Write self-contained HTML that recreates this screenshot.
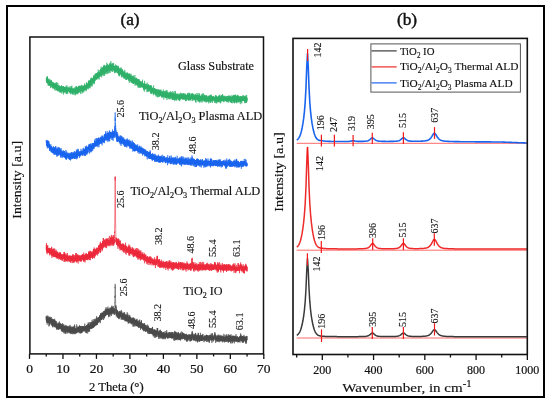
<!DOCTYPE html>
<html><head><meta charset="utf-8"><style>
html,body{margin:0;padding:0;background:#fff;width:550px;height:404px;overflow:hidden}
svg{display:block}
text{font-family:"Liberation Serif","DejaVu Serif",serif;fill:#111;stroke:#111;stroke-width:0.3px}
.ta{font-size:13.5px;stroke-width:0.22px;text-anchor:middle}
.tb{font-size:12px;stroke-width:0.2px;text-anchor:middle}
.pa{font-size:10.1px;stroke-width:0.1px}
.pb{font-size:10px;stroke-width:0.1px}
.lab{font-size:12px;stroke-width:0.15px}
.leg{font-size:11px;stroke-width:0.12px}
.sub{font-size:0.66em}
.sup{font-size:0.72em}
.ttl{font-size:17.3px;stroke-width:0.45px}
.axt{font-size:11.8px;stroke-width:0.2px}
.axb{font-size:13.5px;stroke-width:0.15px}
.ylab{font-size:13.4px;stroke-width:0.15px}
</style></head><body>
<svg width="550" height="404" viewBox="0 0 550 404">
<rect x="7" y="6" width="537" height="391" fill="none" stroke="#000" stroke-width="2"/>
<g><polyline fill="none" stroke="#2fb06a" stroke-width="0.6" points="46.24,80.1 46.28,80.7 46.32,79.6 46.36,78.4 46.40,79.3 46.44,78.3 46.49,80.4 46.53,83.0 46.57,79.4 46.61,79.2 46.65,81.4 46.69,81.2 46.74,80.7 46.78,78.7 46.82,80.5 46.86,82.0 46.90,78.0 46.94,79.8 46.99,76.9 47.03,78.2 47.07,77.1 47.11,80.4 47.15,78.4 47.19,81.5 47.24,81.3 47.28,80.6 47.32,76.0 47.36,80.0 47.40,81.0 47.44,81.4 47.49,78.1 47.53,80.3 47.57,79.3 47.61,79.7 47.65,83.5 47.69,79.8 47.74,81.4 47.78,83.2 47.82,80.3 47.86,81.3 47.90,81.8 47.94,81.7 47.99,79.2 48.03,81.8 48.07,84.4 48.11,78.7 48.15,83.5 48.19,82.1 48.24,80.6 48.28,85.9 48.32,83.4 48.36,79.6 48.40,82.1 48.44,83.2 48.49,81.7 48.53,83.5 48.57,82.0 48.61,83.5 48.65,85.1 48.69,80.9 48.74,82.7 48.78,81.4 48.82,82.6 48.86,80.0 48.90,81.3 48.94,82.1 48.99,84.3 49.03,84.8 49.07,79.9 49.11,81.0 49.15,83.9 49.19,78.7 49.24,81.8 49.28,82.5 49.32,85.2 49.36,84.2 49.40,82.2 49.44,82.1 49.49,82.4 49.53,85.9 49.57,82.1 49.61,82.4 49.65,83.7 49.69,82.8 49.74,82.7 49.78,80.9 49.82,83.1 49.86,82.3 49.90,85.5 49.94,84.5 49.99,83.2 50.03,84.6 50.07,82.7 50.11,85.5 50.15,83.4 50.19,84.6 50.24,80.9 50.28,84.2 50.32,80.2 50.36,79.6 50.40,83.0 50.44,81.9 50.49,84.0 50.53,88.1 50.57,82.1 50.61,82.5 50.65,84.2 50.69,84.8 50.74,83.5 50.78,83.5 50.82,85.3 50.86,85.0 50.90,81.9 50.94,83.9 50.99,84.1 51.03,82.0 51.07,84.6 51.11,82.4 51.15,86.1 51.19,84.6 51.24,84.4 51.28,83.1 51.32,84.0 51.36,80.4 51.40,82.1 51.44,85.1 51.49,80.2 51.53,86.1 51.57,81.0 51.61,86.0 51.65,82.9 51.69,86.1 51.74,84.8 51.78,81.6 51.82,87.1 51.86,87.5 51.90,84.6 51.94,84.2 51.99,84.4 52.03,82.9 52.07,87.0 52.11,83.8 52.15,84.8 52.19,83.3 52.24,83.7 52.28,82.4 52.32,87.4 52.36,84.7 52.40,86.9 52.44,85.1 52.49,83.7 52.53,84.5 52.57,84.0 52.61,85.2 52.65,84.5 52.69,84.6 52.74,82.6 52.78,83.7 52.82,88.5 52.86,84.0 52.90,83.3 52.94,86.0 52.99,88.1 53.03,82.6 53.07,85.0 53.11,84.2 53.15,82.1 53.19,87.0 53.24,85.5 53.28,85.7 53.32,84.1 53.36,86.5 53.40,84.6 53.44,85.4 53.49,83.6 53.53,83.4 53.57,88.4 53.61,84.8 53.65,86.4 53.69,85.8 53.74,85.0 53.78,84.9 53.82,87.1 53.86,85.3 53.90,85.7 53.94,86.0 53.99,88.3 54.03,87.4 54.07,86.8 54.11,85.0 54.15,83.4 54.19,88.0 54.24,88.0 54.28,85.9 54.32,87.3 54.36,87.7 54.40,87.9 54.44,88.1 54.49,85.4 54.53,89.3 54.57,83.9 54.61,88.0 54.65,87.3 54.69,88.1 54.74,90.1 54.78,89.3 54.82,84.3 54.86,83.2 54.90,88.1 54.94,84.6 54.99,86.5 55.03,88.2 55.07,83.4 55.11,82.6 55.15,87.2 55.19,86.8 55.24,86.2 55.28,86.8 55.32,85.1 55.36,83.8 55.40,86.5 55.44,84.9 55.49,83.7 55.53,87.8 55.57,86.8 55.61,87.7 55.65,85.0 55.69,85.7 55.74,85.0 55.78,85.3 55.82,87.4 55.86,85.5 55.90,87.7 55.94,87.7 55.99,91.0 56.03,84.4 56.07,88.9 56.11,87.0 56.15,87.2 56.19,84.4 56.24,86.3 56.28,88.7 56.32,87.1 56.36,87.4 56.40,86.7 56.44,89.6 56.49,87.3 56.53,83.1 56.57,86.1 56.61,83.6 56.65,82.0 56.69,86.4 56.74,90.0 56.78,87.6 56.82,85.3 56.86,85.7 56.90,89.7 56.94,87.9 56.99,87.7 57.03,87.5 57.07,87.7 57.11,89.2 57.15,88.7 57.19,88.1 57.24,85.7 57.28,88.7 57.32,86.4 57.36,89.9 57.40,85.3 57.44,87.5 57.49,87.8 57.53,85.3 57.57,91.2 57.61,90.7 57.65,87.0 57.69,89.4 57.74,88.6 57.78,82.9 57.82,88.4 57.86,87.8 57.90,88.1 57.94,85.9 57.99,87.5 58.03,87.7 58.07,90.3 58.11,88.7 58.15,88.1 58.19,91.0 58.24,87.0 58.28,87.4 58.32,84.7 58.36,91.2 58.40,90.0 58.44,89.9 58.49,89.5 58.53,88.4 58.57,88.6 58.61,87.8 58.65,87.9 58.69,88.4 58.74,91.2 58.78,89.4 58.82,88.2 58.86,87.2 58.90,87.1 58.94,91.4 58.99,89.3 59.03,88.5 59.07,87.7 59.11,86.3 59.15,88.3 59.19,90.1 59.24,87.7 59.28,88.0 59.32,88.0 59.36,88.7 59.40,85.4 59.44,88.0 59.49,86.9 59.53,90.2 59.57,87.1 59.61,89.7 59.65,91.5 59.69,88.0 59.74,87.4 59.78,89.0 59.82,88.6 59.86,86.7 59.90,89.5 59.94,92.5 59.99,88.2 60.03,88.3 60.07,86.7 60.11,89.3 60.15,86.3 60.19,86.6 60.24,91.2 60.28,87.0 60.32,90.8 60.36,91.7 60.40,89.3 60.44,89.9 60.49,92.5 60.53,88.4 60.57,87.7 60.61,86.3 60.65,88.9 60.69,91.7 60.74,90.7 60.78,87.1 60.82,87.3 60.86,88.0 60.90,89.5 60.94,88.5 60.99,89.4 61.03,89.5 61.07,88.4 61.11,88.9 61.15,89.4 61.19,88.8 61.24,90.0 61.28,92.6 61.32,90.2 61.36,89.2 61.40,85.8 61.44,89.8 61.49,85.4 61.53,86.4 61.57,90.7 61.61,90.5 61.65,88.9 61.69,85.9 61.74,88.5 61.78,87.9 61.82,90.4 61.86,93.5 61.90,89.6 61.94,87.7 61.99,87.0 62.03,89.1 62.07,88.9 62.11,87.1 62.15,89.5 62.19,87.1 62.24,91.4 62.28,91.3 62.32,91.4 62.36,88.4 62.40,90.3 62.44,89.1 62.49,88.6 62.53,88.7 62.57,86.9 62.61,86.7 62.65,90.9 62.69,89.1 62.74,89.9 62.78,91.4 62.82,86.2 62.86,88.0 62.90,89.8 62.94,90.2 62.99,88.8 63.03,91.5 63.07,89.9 63.11,87.2 63.15,87.8 63.19,91.1 63.24,90.5 63.28,86.0 63.32,92.2 63.36,90.7 63.40,92.2 63.44,88.9 63.49,89.1 63.53,87.5 63.57,94.5 63.61,89.3 63.65,92.7 63.69,88.5 63.74,90.0 63.78,86.5 63.82,89.0 63.86,91.6 63.90,87.4 63.94,91.8 63.99,90.4 64.03,87.8 64.07,88.8 64.11,88.9 64.15,89.7 64.19,88.8 64.24,88.3 64.28,89.3 64.32,87.9 64.36,87.4 64.40,89.8 64.44,91.6 64.49,87.0 64.53,89.9 64.57,88.7 64.61,88.1 64.65,91.6 64.69,89.0 64.74,92.8 64.78,88.5 64.82,90.7 64.86,89.5 64.90,88.6 64.94,91.1 64.99,89.7 65.03,91.2 65.07,89.9 65.11,88.0 65.15,89.9 65.19,90.2 65.24,91.9 65.28,88.4 65.32,90.0 65.36,86.8 65.40,91.3 65.44,88.1 65.49,86.7 65.53,90.0 65.57,92.2 65.61,87.3 65.65,88.1 65.69,88.8 65.74,88.0 65.78,90.9 65.82,88.7 65.86,88.8 65.90,91.3 65.94,88.8 65.99,91.1 66.03,88.4 66.07,87.9 66.11,86.8 66.15,93.8 66.19,89.7 66.24,90.7 66.28,90.2 66.32,90.6 66.36,90.4 66.40,93.9 66.44,88.4 66.49,87.4 66.53,88.4 66.57,87.8 66.61,91.8 66.65,91.9 66.69,88.6 66.74,87.7 66.78,89.7 66.82,93.0 66.86,85.1 66.90,91.4 66.94,88.4 66.99,92.4 67.03,88.4 67.07,89.9 67.11,87.6 67.15,88.6 67.19,93.1 67.24,92.0 67.28,89.7 67.32,88.8 67.36,86.9 67.40,89.8 67.44,90.4 67.49,90.4 67.53,90.3 67.57,88.4 67.61,90.4 67.65,90.5 67.69,93.0 67.74,94.1 67.78,90.3 67.82,89.1 67.86,90.5 67.90,89.4 67.94,89.2 67.99,90.5 68.03,88.6 68.07,91.8 68.11,90.4 68.15,91.1 68.19,90.3 68.24,89.3 68.28,88.8 68.32,90.2 68.36,89.6 68.40,91.1 68.44,90.7 68.49,88.1 68.53,90.8 68.57,88.1 68.61,89.5 68.65,90.1 68.69,86.8 68.74,90.9 68.78,91.0 68.82,90.4 68.86,89.9 68.90,90.0 68.94,88.9 68.99,90.2 69.03,89.7 69.07,90.9 69.11,88.5 69.15,91.2 69.19,91.0 69.24,90.5 69.28,89.9 69.32,91.8 69.36,87.6 69.40,91.6 69.44,91.2 69.49,91.3 69.53,91.5 69.57,89.6 69.61,90.3 69.65,92.0 69.69,91.6 69.74,91.2 69.78,87.9 69.82,91.8 69.86,93.0 69.90,92.7 69.94,91.3 69.99,87.9 70.03,92.6 70.07,90.6 70.11,86.0 70.15,91.6 70.19,88.0 70.24,88.4 70.28,89.6 70.32,93.3 70.36,90.2 70.40,91.4 70.44,94.2 70.49,93.9 70.53,90.7 70.57,90.4 70.61,88.5 70.65,89.6 70.69,91.7 70.74,91.6 70.78,91.1 70.82,92.8 70.86,89.4 70.90,90.8 70.94,92.3 70.99,92.0 71.03,92.9 71.07,91.6 71.11,90.3 71.15,91.6 71.19,89.0 71.24,87.8 71.28,92.0 71.32,90.8 71.36,91.5 71.40,87.7 71.44,90.2 71.49,89.8 71.53,89.3 71.57,86.6 71.61,90.3 71.65,92.6 71.69,91.6 71.74,89.8 71.78,90.9 71.82,92.3 71.86,85.7 71.90,90.7 71.94,91.9 71.99,92.2 72.03,94.1 72.07,93.0 72.11,91.5 72.15,91.5 72.19,92.4 72.24,89.9 72.28,90.8 72.32,92.6 72.36,94.6 72.40,90.6 72.44,90.8 72.49,91.3 72.53,93.4 72.57,90.8 72.61,93.7 72.65,89.1 72.69,90.5 72.74,90.5 72.78,92.4 72.82,92.8 72.86,88.0 72.90,89.1 72.94,91.5 72.99,89.6 73.03,88.0 73.07,92.8 73.11,91.8 73.15,91.8 73.19,89.9 73.24,92.8 73.28,90.4 73.32,92.9 73.36,89.1 73.40,89.2 73.44,91.2 73.49,89.5 73.53,92.1 73.57,91.3 73.61,89.1 73.65,90.9 73.69,90.1 73.74,92.5 73.78,89.6 73.82,90.0 73.86,93.1 73.90,95.0 73.94,94.6 73.99,90.9 74.03,91.2 74.07,93.7 74.11,90.5 74.15,88.9 74.19,91.0 74.24,91.6 74.28,89.2 74.32,87.6 74.36,88.0 74.40,92.0 74.44,89.3 74.49,90.4 74.53,91.1 74.57,91.9 74.61,90.1 74.65,91.6 74.69,89.0 74.74,90.0 74.78,88.7 74.82,92.8 74.86,90.6 74.90,89.2 74.94,90.0 74.99,90.2 75.03,92.0 75.07,87.6 75.11,88.7 75.15,89.9 75.19,95.4 75.24,92.4 75.28,90.4 75.32,91.9 75.36,94.5 75.40,90.1 75.44,89.9 75.49,92.8 75.53,91.5 75.57,91.8 75.61,89.6 75.65,94.2 75.69,93.7 75.74,91.6 75.78,91.8 75.82,86.6 75.86,91.7 75.90,90.1 75.94,91.3 75.99,91.7 76.03,89.8 76.07,87.2 76.11,91.1 76.15,89.0 76.19,89.8 76.24,89.3 76.28,89.7 76.32,86.0 76.36,92.7 76.40,90.8 76.44,92.5 76.49,94.1 76.53,90.4 76.57,86.9 76.61,88.6 76.65,88.0 76.69,89.3 76.74,90.4 76.78,86.5 76.82,90.9 76.86,87.4 76.90,90.8 76.94,90.0 76.99,89.6 77.03,90.1 77.07,89.2 77.11,89.0 77.15,87.0 77.19,90.1 77.24,93.7 77.28,93.9 77.32,92.7 77.36,91.5 77.40,88.8 77.44,92.9 77.49,90.0 77.53,90.0 77.57,89.5 77.61,90.2 77.65,89.2 77.69,89.9 77.74,88.0 77.78,89.3 77.82,94.4 77.86,89.9 77.90,89.5 77.94,91.0 77.99,91.3 78.03,87.8 78.07,89.6 78.11,91.7 78.15,90.4 78.19,90.1 78.24,92.9 78.28,88.6 78.32,90.0 78.36,88.9 78.40,92.7 78.44,86.1 78.49,88.6 78.53,88.8 78.57,91.1 78.61,91.0 78.65,92.4 78.69,86.8 78.74,91.2 78.78,89.2 78.82,88.5 78.86,90.7 78.90,88.0 78.94,85.7 78.99,89.0 79.03,86.8 79.07,88.4 79.11,90.4 79.15,90.2 79.19,92.6 79.24,89.2 79.28,86.7 79.32,88.1 79.36,87.8 79.40,87.2 79.44,90.4 79.49,88.3 79.53,85.8 79.57,90.8 79.61,89.3 79.65,90.2 79.69,89.7 79.74,90.7 79.78,89.5 79.82,91.8 79.86,90.2 79.90,90.1 79.94,90.2 79.99,86.6 80.03,89.0 80.07,88.8 80.11,89.7 80.15,86.7 80.19,92.4 80.24,89.5 80.28,87.0 80.32,86.0 80.36,88.7 80.40,89.1 80.44,87.8 80.49,89.4 80.53,88.0 80.57,90.2 80.61,87.8 80.65,89.1 80.69,91.0 80.74,94.0 80.78,87.2 80.82,88.2 80.86,87.5 80.90,90.6 80.94,86.8 80.99,88.1 81.03,89.0 81.07,87.1 81.11,87.2 81.15,88.1 81.19,84.9 81.24,86.2 81.28,88.1 81.32,89.2 81.36,88.5 81.40,85.5 81.44,88.0 81.49,90.4 81.53,89.9 81.57,88.7 81.61,87.1 81.65,90.0 81.69,87.7 81.74,86.5 81.78,87.2 81.82,91.5 81.86,89.1 81.90,90.9 81.94,87.8 81.99,90.5 82.03,87.5 82.07,88.3 82.11,93.4 82.15,90.1 82.19,87.6 82.24,88.4 82.28,89.2 82.32,90.9 82.36,87.6 82.40,85.2 82.44,88.0 82.49,88.5 82.53,88.7 82.57,91.0 82.61,89.0 82.65,90.0 82.69,86.3 82.74,90.1 82.78,92.4 82.82,89.8 82.86,88.8 82.90,88.6 82.94,91.7 82.99,86.5 83.03,88.1 83.07,89.1 83.11,89.7 83.15,87.4 83.19,88.8 83.24,87.7 83.28,88.4 83.32,87.9 83.36,86.0 83.40,88.1 83.44,89.8 83.49,86.2 83.53,87.6 83.57,89.3 83.61,86.0 83.65,88.4 83.69,86.0 83.74,90.2 83.78,92.4 83.82,91.9 83.86,87.5 83.90,89.4 83.94,88.2 83.99,88.1 84.03,90.9 84.07,85.3 84.11,89.9 84.15,87.7 84.19,90.5 84.24,88.2 84.28,86.5 84.32,88.3 84.36,89.2 84.40,87.8 84.44,88.7 84.49,86.7 84.53,83.6 84.57,89.4 84.61,89.0 84.65,87.9 84.69,87.8 84.74,89.6 84.78,86.7 84.82,86.2 84.86,87.2 84.90,89.8 84.94,84.8 84.99,89.8 85.03,86.2 85.07,85.3 85.11,89.9 85.15,87.2 85.19,84.9 85.24,86.7 85.28,89.1 85.32,89.6 85.36,86.5 85.40,88.1 85.44,88.6 85.49,86.0 85.53,87.9 85.57,87.1 85.61,86.1 85.65,86.2 85.69,87.2 85.74,87.2 85.78,86.0 85.82,86.2 85.86,89.2 85.90,87.4 85.94,88.7 85.99,89.3 86.03,88.1 86.07,91.3 86.11,85.3 86.15,88.4 86.19,86.2 86.24,90.4 86.28,90.1 86.32,83.0 86.36,84.8 86.40,88.0 86.44,88.2 86.49,88.1 86.53,86.5 86.57,87.5 86.61,87.8 86.65,86.4 86.69,88.5 86.74,82.1 86.78,87.7 86.82,84.4 86.86,88.2 86.90,85.9 86.94,84.6 86.99,87.0 87.03,84.5 87.07,84.4 87.11,83.1 87.15,86.1 87.19,87.1 87.24,88.1 87.28,85.8 87.32,88.1 87.36,86.0 87.40,85.8 87.44,87.0 87.49,88.0 87.53,85.2 87.57,85.4 87.61,85.5 87.65,85.9 87.69,84.0 87.74,87.7 87.78,84.9 87.82,86.5 87.86,84.0 87.90,86.3 87.94,86.3 87.99,84.7 88.03,89.4 88.07,86.1 88.11,88.8 88.15,87.2 88.19,84.0 88.24,84.5 88.28,86.1 88.32,85.3 88.36,85.3 88.40,84.6 88.44,81.6 88.49,84.6 88.53,80.7 88.57,85.7 88.61,83.5 88.65,83.5 88.69,84.4 88.74,85.4 88.78,82.0 88.82,81.3 88.86,82.6 88.90,80.7 88.94,82.7 88.99,87.7 89.03,82.5 89.07,85.8 89.11,81.8 89.15,85.0 89.19,83.8 89.24,84.3 89.28,85.4 89.32,87.7 89.36,84.6 89.40,84.5 89.44,82.3 89.49,85.3 89.53,83.6 89.57,85.7 89.61,83.9 89.65,87.4 89.69,80.0 89.74,83.3 89.78,85.6 89.82,83.1 89.86,82.2 89.90,83.2 89.94,81.0 89.99,83.9 90.03,88.4 90.07,85.8 90.11,81.3 90.15,81.8 90.19,82.6 90.24,85.4 90.28,81.7 90.32,81.9 90.36,85.0 90.40,84.9 90.44,82.4 90.49,80.9 90.53,80.0 90.57,81.7 90.61,78.6 90.65,84.4 90.69,81.7 90.74,83.8 90.78,86.5 90.82,85.1 90.86,80.5 90.90,84.4 90.94,84.9 90.99,81.1 91.03,80.7 91.07,82.3 91.11,79.3 91.15,85.4 91.19,77.6 91.24,80.2 91.28,81.8 91.32,81.8 91.36,82.5 91.40,82.7 91.44,81.7 91.49,84.3 91.53,77.8 91.57,82.0 91.61,80.5 91.65,82.2 91.69,82.3 91.74,80.0 91.78,80.5 91.82,83.3 91.86,82.4 91.90,80.3 91.94,85.6 91.99,86.1 92.03,78.6 92.07,82.1 92.11,86.4 92.15,82.9 92.19,81.8 92.24,80.9 92.28,80.1 92.32,80.8 92.36,80.0 92.40,82.6 92.44,80.2 92.49,80.1 92.53,78.5 92.57,80.8 92.61,79.1 92.65,80.5 92.69,82.8 92.74,81.5 92.78,81.7 92.82,81.3 92.86,80.7 92.90,80.3 92.94,79.9 92.99,82.0 93.03,78.2 93.07,83.0 93.11,80.4 93.15,78.8 93.19,79.2 93.24,78.8 93.28,80.4 93.32,78.6 93.36,82.3 93.40,78.4 93.44,75.4 93.49,78.4 93.53,75.8 93.57,79.7 93.61,81.9 93.65,81.0 93.69,77.0 93.74,78.1 93.78,83.1 93.82,80.2 93.86,79.5 93.90,81.6 93.94,84.3 93.99,81.9 94.03,79.6 94.07,80.0 94.11,80.4 94.15,77.9 94.19,77.0 94.24,79.2 94.28,77.1 94.32,78.8 94.36,79.1 94.40,83.6 94.44,77.1 94.49,78.5 94.53,78.4 94.57,79.6 94.61,80.8 94.65,77.6 94.69,76.9 94.74,75.2 94.78,76.6 94.82,79.5 94.86,78.5 94.90,76.3 94.94,77.5 94.99,78.3 95.03,79.2 95.07,76.9 95.11,77.6 95.15,74.4 95.19,75.7 95.24,81.2 95.28,73.5 95.32,77.2 95.36,78.3 95.40,77.0 95.44,76.1 95.49,77.6 95.53,77.6 95.57,77.4 95.61,73.7 95.65,77.2 95.69,75.7 95.74,76.3 95.78,77.8 95.82,78.6 95.86,79.1 95.90,76.2 95.94,79.1 95.99,79.5 96.03,79.4 96.07,79.9 96.11,76.7 96.15,76.6 96.19,78.6 96.24,74.1 96.28,77.3 96.32,75.7 96.36,76.0 96.40,73.2 96.44,74.9 96.49,76.6 96.53,78.4 96.57,78.6 96.61,76.3 96.65,76.1 96.69,74.7 96.74,77.2 96.78,75.8 96.82,77.5 96.86,79.8 96.90,76.1 96.94,73.1 96.99,74.4 97.03,73.1 97.07,73.6 97.11,78.7 97.15,76.4 97.19,72.8 97.24,77.2 97.28,78.4 97.32,75.0 97.36,74.4 97.40,75.0 97.44,76.2 97.49,76.9 97.53,78.0 97.57,78.0 97.61,77.9 97.65,78.2 97.69,76.8 97.74,72.2 97.78,75.0 97.82,75.9 97.86,74.4 97.90,77.0 97.94,74.4 97.99,73.2 98.03,78.0 98.07,76.4 98.11,75.4 98.15,76.8 98.19,77.0 98.24,75.5 98.28,69.7 98.32,73.3 98.36,73.7 98.40,72.6 98.44,75.0 98.49,77.0 98.53,73.5 98.57,72.1 98.61,78.6 98.65,73.4 98.69,71.7 98.74,74.7 98.78,75.1 98.82,72.7 98.86,75.7 98.90,73.1 98.94,72.1 98.99,74.3 99.03,75.5 99.07,72.6 99.11,74.5 99.15,73.6 99.19,79.6 99.24,72.2 99.28,76.5 99.32,73.5 99.36,73.3 99.40,75.0 99.44,75.4 99.49,76.1 99.53,74.1 99.57,72.1 99.61,72.2 99.65,74.4 99.69,74.5 99.74,76.1 99.78,74.1 99.82,75.4 99.86,76.3 99.90,73.4 99.94,70.0 99.99,70.6 100.03,70.0 100.07,76.3 100.11,71.1 100.15,75.4 100.19,74.1 100.24,76.4 100.28,74.9 100.32,72.5 100.36,72.3 100.40,72.9 100.44,73.0 100.49,71.5 100.53,72.5 100.57,75.9 100.61,69.0 100.65,73.0 100.69,70.6 100.74,72.8 100.78,74.1 100.82,72.2 100.86,73.9 100.90,69.0 100.94,74.6 100.99,71.0 101.03,73.5 101.07,72.5 101.11,66.7 101.15,70.5 101.19,72.5 101.24,75.3 101.28,72.6 101.32,72.5 101.36,69.0 101.40,74.9 101.44,75.7 101.49,71.9 101.53,71.4 101.57,68.4 101.61,73.6 101.65,77.4 101.69,73.2 101.74,74.3 101.78,72.8 101.82,69.6 101.86,74.4 101.90,69.0 101.94,71.1 101.99,72.1 102.03,73.3 102.07,72.3 102.11,72.2 102.15,69.8 102.19,68.7 102.24,71.5 102.28,69.8 102.32,68.5 102.36,68.6 102.40,70.2 102.44,67.3 102.49,68.3 102.53,67.7 102.57,71.5 102.61,71.9 102.65,75.3 102.69,67.9 102.74,69.6 102.78,72.9 102.82,70.5 102.86,70.2 102.90,74.5 102.94,70.2 102.99,68.4 103.03,68.0 103.07,71.5 103.11,71.4 103.15,67.8 103.19,68.6 103.24,71.8 103.28,71.9 103.32,69.3 103.36,71.9 103.40,71.8 103.44,66.8 103.49,69.9 103.53,71.4 103.57,69.3 103.61,65.9 103.65,69.8 103.69,72.0 103.74,73.7 103.78,65.7 103.82,75.9 103.86,67.9 103.90,72.3 103.94,72.9 103.99,72.3 104.03,70.5 104.07,67.7 104.11,71.5 104.15,68.6 104.19,64.8 104.24,76.0 104.28,71.6 104.32,73.9 104.36,68.1 104.40,73.1 104.44,73.3 104.49,73.2 104.53,69.9 104.57,67.3 104.61,69.5 104.65,65.2 104.69,66.2 104.74,70.0 104.78,67.7 104.82,69.4 104.86,69.5 104.90,73.8 104.94,72.4 104.99,69.5 105.03,72.2 105.07,67.9 105.11,68.9 105.15,71.5 105.19,66.9 105.24,68.9 105.28,66.7 105.32,69.7 105.36,72.9 105.40,67.8 105.44,69.9 105.49,67.5 105.53,66.9 105.57,66.7 105.61,72.4 105.65,74.3 105.69,70.3 105.74,67.7 105.78,70.7 105.82,68.5 105.86,70.9 105.90,69.7 105.94,69.7 105.99,70.4 106.03,67.8 106.07,68.2 106.11,65.3 106.15,68.0 106.19,65.9 106.24,68.6 106.28,66.9 106.32,69.1 106.36,69.8 106.40,65.8 106.44,67.1 106.49,66.8 106.53,70.4 106.57,72.4 106.61,70.5 106.65,68.0 106.69,71.8 106.74,65.4 106.78,71.8 106.82,67.2 106.86,62.7 106.90,74.2 106.94,71.9 106.99,66.3 107.03,68.9 107.07,68.0 107.11,68.7 107.15,65.3 107.19,67.0 107.24,69.4 107.28,68.8 107.32,70.9 107.36,68.5 107.40,73.3 107.44,66.7 107.49,68.8 107.53,64.1 107.57,65.5 107.61,71.0 107.65,66.1 107.69,69.3 107.74,68.0 107.78,65.8 107.82,67.3 107.86,66.9 107.90,67.0 107.94,69.6 107.99,69.3 108.03,66.7 108.07,65.9 108.11,68.5 108.15,67.6 108.19,70.0 108.24,73.5 108.28,69.6 108.32,67.6 108.36,67.3 108.40,65.8 108.44,65.7 108.49,65.5 108.53,66.7 108.57,66.6 108.61,69.1 108.65,66.6 108.69,67.1 108.74,64.8 108.78,70.9 108.82,68.5 108.86,71.2 108.90,69.1 108.94,70.5 108.99,66.8 109.03,68.8 109.07,73.1 109.11,64.6 109.15,69.7 109.19,70.8 109.24,68.1 109.28,68.8 109.32,69.9 109.36,65.7 109.40,68.0 109.44,65.2 109.49,65.6 109.53,65.7 109.57,66.7 109.61,67.3 109.65,68.0 109.69,63.9 109.74,71.3 109.78,69.5 109.82,68.5 109.86,66.1 109.90,66.7 109.94,68.1 109.99,67.8 110.03,63.2 110.07,68.5 110.11,72.9 110.15,62.8 110.19,69.1 110.24,67.7 110.28,66.7 110.32,69.9 110.36,64.3 110.40,67.3 110.44,70.1 110.49,66.5 110.53,66.0 110.57,67.2 110.61,65.9 110.65,70.3 110.69,64.9 110.74,68.9 110.78,64.2 110.82,68.4 110.86,66.7 110.90,61.2 110.94,66.9 110.99,64.6 111.03,66.0 111.07,70.4 111.11,64.5 111.15,64.6 111.19,70.2 111.24,67.3 111.28,70.4 111.32,67.7 111.36,65.1 111.40,66.9 111.44,69.8 111.49,69.1 111.53,67.1 111.57,67.2 111.61,66.8 111.65,65.8 111.69,71.4 111.74,67.1 111.78,64.6 111.82,66.1 111.86,68.8 111.90,68.6 111.94,66.9 111.99,65.7 112.03,67.3 112.07,63.5 112.11,64.4 112.15,69.0 112.19,66.2 112.24,68.1 112.28,70.0 112.32,68.8 112.36,67.4 112.40,72.0 112.44,68.8 112.49,66.6 112.53,69.0 112.57,68.3 112.61,65.6 112.65,67.6 112.69,67.1 112.74,63.2 112.78,67.1 112.82,66.9 112.86,66.6 112.90,63.9 112.94,66.8 112.99,67.5 113.03,67.8 113.07,65.1 113.11,69.1 113.15,65.0 113.19,67.2 113.24,70.6 113.28,66.2 113.32,66.6 113.36,70.1 113.40,67.0 113.44,67.2 113.49,68.3 113.53,70.2 113.57,63.0 113.61,66.1 113.65,65.7 113.69,65.6 113.74,66.1 113.78,66.2 113.82,68.7 113.86,66.1 113.90,68.3 113.94,69.0 113.99,66.5 114.03,68.4 114.07,71.7 114.11,68.9 114.15,66.8 114.19,68.1 114.24,66.3 114.28,68.9 114.32,70.2 114.36,66.5 114.40,67.9 114.44,70.8 114.49,67.3 114.53,68.8 114.57,66.2 114.61,66.7 114.65,67.4 114.69,73.2 114.74,67.7 114.78,67.4 114.82,67.4 114.86,68.3 114.90,70.1 114.94,69.1 114.99,73.1 115.03,69.2 115.07,71.8 115.11,69.4 115.15,70.1 115.19,65.8 115.24,68.6 115.28,68.7 115.32,68.4 115.36,64.4 115.40,70.8 115.44,68.2 115.49,68.1 115.53,68.5 115.57,68.6 115.61,70.0 115.65,66.4 115.69,67.2 115.74,69.8 115.78,69.5 115.82,68.4 115.86,68.1 115.90,67.5 115.94,69.2 115.99,71.9 116.03,67.1 116.07,72.6 116.11,71.2 116.15,68.5 116.19,71.2 116.24,66.4 116.28,65.9 116.32,66.8 116.36,68.7 116.40,68.9 116.44,68.6 116.49,69.9 116.53,65.2 116.57,70.8 116.61,66.8 116.65,68.4 116.69,68.9 116.74,67.4 116.78,67.0 116.82,67.8 116.86,69.9 116.90,71.2 116.94,71.2 116.99,67.9 117.03,68.4 117.07,68.1 117.11,71.0 117.15,65.8 117.19,72.8 117.24,69.1 117.28,68.5 117.32,70.9 117.36,72.4 117.40,71.0 117.44,72.5 117.49,70.6 117.53,73.0 117.57,73.0 117.61,70.2 117.65,73.5 117.69,70.8 117.74,70.7 117.78,68.6 117.82,69.9 117.86,72.2 117.90,67.8 117.94,72.0 117.99,71.4 118.03,71.3 118.07,66.0 118.11,70.5 118.15,72.1 118.19,69.2 118.24,71.0 118.28,65.8 118.32,72.3 118.36,69.5 118.40,72.7 118.44,67.0 118.49,72.4 118.53,70.5 118.57,72.7 118.61,69.1 118.65,69.7 118.69,75.8 118.74,69.4 118.78,69.6 118.82,70.6 118.86,69.0 118.90,73.7 118.94,74.8 118.99,69.8 119.03,67.6 119.07,73.7 119.11,73.6 119.15,73.1 119.19,73.8 119.24,69.6 119.28,71.0 119.32,68.5 119.36,68.5 119.40,73.5 119.44,70.1 119.49,76.3 119.53,71.7 119.57,70.2 119.61,73.3 119.65,75.4 119.69,72.6 119.74,69.1 119.78,72.4 119.82,74.6 119.86,70.7 119.90,70.1 119.94,73.9 119.99,72.1 120.03,69.5 120.07,71.0 120.11,70.3 120.15,72.5 120.19,72.1 120.24,74.3 120.28,73.4 120.32,68.7 120.36,72.8 120.40,73.9 120.44,73.0 120.49,74.2 120.53,70.9 120.57,70.1 120.61,74.1 120.65,69.9 120.69,67.7 120.74,74.4 120.78,70.7 120.82,71.6 120.86,69.4 120.90,69.5 120.94,69.9 120.99,71.6 121.03,73.1 121.07,67.6 121.11,74.0 121.15,70.0 121.19,70.2 121.24,73.9 121.28,72.4 121.32,69.3 121.36,76.4 121.40,70.8 121.44,73.1 121.49,73.1 121.53,75.6 121.57,71.7 121.61,74.8 121.65,71.2 121.69,75.1 121.74,71.2 121.78,72.1 121.82,76.8 121.86,73.5 121.90,73.1 121.94,77.6 121.99,73.7 122.03,71.3 122.07,74.5 122.11,70.5 122.15,75.4 122.19,75.6 122.24,71.9 122.28,71.8 122.32,73.5 122.36,73.2 122.40,71.1 122.44,74.4 122.49,69.0 122.53,72.3 122.57,72.4 122.61,72.7 122.65,74.0 122.69,70.8 122.74,74.6 122.78,73.0 122.82,72.1 122.86,70.6 122.90,71.0 122.94,74.2 122.99,71.5 123.03,73.7 123.07,75.8 123.11,75.7 123.15,76.9 123.19,73.0 123.24,71.4 123.28,75.8 123.32,74.4 123.36,76.1 123.40,73.8 123.44,76.3 123.49,75.6 123.53,75.3 123.57,74.9 123.61,74.7 123.65,74.4 123.69,74.4 123.74,76.0 123.78,72.9 123.82,77.6 123.86,73.8 123.90,76.1 123.94,73.9 123.99,73.6 124.03,78.4 124.07,73.5 124.11,71.6 124.15,72.7 124.19,73.6 124.24,78.7 124.28,74.7 124.32,76.3 124.36,72.3 124.40,75.1 124.44,75.8 124.49,78.2 124.53,73.0 124.57,75.7 124.61,75.1 124.65,72.4 124.69,74.5 124.74,74.0 124.78,69.8 124.82,75.9 124.86,75.8 124.90,73.8 124.94,71.9 124.99,77.8 125.03,75.3 125.07,76.9 125.11,77.7 125.15,73.8 125.19,76.5 125.24,74.4 125.28,74.8 125.32,74.8 125.36,75.0 125.40,77.3 125.44,75.3 125.49,74.7 125.53,74.5 125.57,75.8 125.61,73.3 125.65,74.1 125.69,75.1 125.74,74.0 125.78,75.0 125.82,74.0 125.86,79.4 125.90,78.0 125.94,76.3 125.99,75.2 126.03,79.9 126.07,76.1 126.11,75.3 126.15,76.1 126.19,76.1 126.24,78.4 126.28,75.5 126.32,79.9 126.36,73.8 126.40,77.0 126.44,73.6 126.49,79.4 126.53,75.0 126.57,75.6 126.61,77.6 126.65,78.3 126.69,73.5 126.74,75.1 126.78,73.0 126.82,76.2 126.86,75.7 126.90,75.2 126.94,74.5 126.99,75.2 127.03,74.5 127.07,77.1 127.11,79.2 127.15,72.1 127.19,75.9 127.24,75.3 127.28,77.2 127.32,74.2 127.36,75.9 127.40,74.1 127.44,77.7 127.49,76.5 127.53,76.0 127.57,77.1 127.61,75.9 127.65,73.2 127.69,77.6 127.74,77.0 127.78,76.1 127.82,78.5 127.86,79.0 127.90,74.3 127.94,75.0 127.99,79.8 128.03,79.5 128.07,75.1 128.11,74.3 128.15,75.4 128.19,75.7 128.24,73.5 128.28,76.8 128.32,74.2 128.36,74.4 128.40,78.7 128.44,75.5 128.49,76.8 128.53,78.2 128.57,78.6 128.61,76.3 128.65,77.1 128.69,75.3 128.74,80.6 128.78,78.4 128.82,74.9 128.86,77.1 128.90,78.6 128.94,78.2 128.99,80.9 129.03,80.0 129.07,76.2 129.11,77.1 129.15,74.7 129.19,77.8 129.24,77.7 129.28,82.9 129.32,77.6 129.36,73.2 129.40,76.1 129.44,77.7 129.49,75.0 129.53,75.8 129.57,76.8 129.61,78.3 129.65,77.3 129.69,75.8 129.74,79.3 129.78,76.6 129.82,76.7 129.86,74.9 129.90,76.2 129.94,79.1 129.99,74.5 130.03,77.7 130.07,79.3 130.11,77.1 130.15,78.4 130.19,75.7 130.24,80.6 130.28,80.2 130.32,78.5 130.36,74.5 130.40,75.9 130.44,80.1 130.49,81.6 130.53,78.7 130.57,80.7 130.61,77.0 130.65,77.8 130.69,78.2 130.74,79.1 130.78,75.2 130.82,80.2 130.86,81.0 130.90,76.0 130.94,75.6 130.99,79.1 131.03,77.1 131.07,73.7 131.11,80.1 131.15,78.8 131.19,77.6 131.24,82.8 131.28,78.9 131.32,77.1 131.36,78.8 131.40,76.6 131.44,77.2 131.49,79.5 131.53,77.6 131.57,77.9 131.61,82.2 131.65,80.6 131.69,80.5 131.74,79.9 131.78,79.9 131.82,81.9 131.86,78.9 131.90,82.7 131.94,77.1 131.99,78.5 132.03,76.3 132.07,78.4 132.11,80.1 132.15,82.0 132.19,77.8 132.24,79.2 132.28,78.5 132.32,77.7 132.36,76.8 132.40,79.4 132.44,75.8 132.49,79.5 132.53,79.4 132.57,78.0 132.61,77.3 132.65,76.6 132.69,83.2 132.74,76.7 132.78,82.6 132.82,80.7 132.86,78.8 132.90,77.2 132.94,81.7 132.99,83.1 133.03,77.7 133.07,79.0 133.11,81.8 133.15,80.4 133.19,83.7 133.24,78.6 133.28,80.9 133.32,77.3 133.36,84.0 133.40,78.4 133.44,75.4 133.49,79.6 133.53,79.6 133.57,83.8 133.61,79.3 133.65,80.0 133.69,81.2 133.74,83.2 133.78,79.9 133.82,82.2 133.86,81.2 133.90,79.5 133.94,80.3 133.99,80.2 134.03,78.4 134.07,82.7 134.11,77.5 134.15,82.6 134.19,82.2 134.24,80.2 134.28,78.8 134.32,79.9 134.36,81.4 134.40,81.9 134.44,81.0 134.49,82.5 134.53,79.4 134.57,81.0 134.61,77.4 134.65,82.1 134.69,80.9 134.74,79.8 134.78,83.0 134.82,82.1 134.86,75.1 134.90,80.8 134.94,77.9 134.99,82.9 135.03,85.8 135.07,79.8 135.11,81.0 135.15,80.4 135.19,81.6 135.24,82.2 135.28,83.5 135.32,79.0 135.36,84.1 135.40,79.2 135.44,81.6 135.49,83.4 135.53,82.5 135.57,79.3 135.61,79.8 135.65,80.3 135.69,81.1 135.74,83.5 135.78,78.7 135.82,82.2 135.86,82.5 135.90,82.4 135.94,82.3 135.99,84.4 136.03,82.4 136.07,83.1 136.11,82.6 136.15,85.1 136.19,77.7 136.24,84.1 136.28,81.0 136.32,81.0 136.36,79.7 136.40,77.9 136.44,80.9 136.49,80.3 136.53,82.7 136.57,78.8 136.61,84.6 136.65,82.3 136.69,81.3 136.74,80.4 136.78,80.3 136.82,79.6 136.86,80.8 136.90,81.9 136.94,81.6 136.99,79.2 137.03,81.5 137.07,80.3 137.11,82.4 137.15,85.8 137.19,83.3 137.24,81.5 137.28,78.9 137.32,79.4 137.36,78.8 137.40,83.7 137.44,80.7 137.49,82.4 137.53,81.1 137.57,82.5 137.61,85.1 137.65,81.0 137.69,81.7 137.74,80.8 137.78,84.2 137.82,80.4 137.86,80.2 137.90,79.8 137.94,79.8 137.99,83.5 138.03,87.7 138.07,80.6 138.11,84.5 138.15,83.2 138.19,80.5 138.24,82.2 138.28,82.3 138.32,81.4 138.36,86.6 138.40,79.0 138.44,83.6 138.49,83.5 138.53,81.7 138.57,83.2 138.61,84.7 138.65,83.3 138.69,83.8 138.74,84.4 138.78,79.0 138.82,86.0 138.86,87.6 138.90,85.0 138.94,85.1 138.99,80.4 139.03,82.9 139.07,81.6 139.11,82.1 139.15,85.2 139.19,81.7 139.24,83.0 139.28,79.6 139.32,83.0 139.36,83.5 139.40,82.0 139.44,82.0 139.49,87.2 139.53,81.1 139.57,81.4 139.61,81.9 139.65,85.9 139.69,87.7 139.74,84.2 139.78,82.2 139.82,82.8 139.86,85.8 139.90,81.9 139.94,86.6 139.99,86.5 140.03,83.9 140.07,85.0 140.11,85.3 140.15,86.9 140.19,81.8 140.24,86.2 140.28,83.2 140.32,82.4 140.36,84.1 140.40,83.5 140.44,82.0 140.49,80.9 140.53,82.2 140.57,86.9 140.61,87.9 140.65,85.4 140.69,86.5 140.74,83.1 140.78,84.0 140.82,84.8 140.86,82.1 140.90,82.3 140.94,84.5 140.99,83.7 141.03,82.2 141.07,85.1 141.11,83.8 141.15,86.4 141.19,84.4 141.24,83.8 141.28,84.7 141.32,84.1 141.36,83.2 141.40,83.7 141.44,86.0 141.49,85.8 141.53,87.1 141.57,81.3 141.61,83.9 141.65,83.9 141.69,85.0 141.74,83.8 141.78,83.7 141.82,86.3 141.86,85.1 141.90,82.5 141.94,87.4 141.99,86.8 142.03,83.8 142.07,86.5 142.11,83.5 142.15,87.1 142.19,84.5 142.24,83.4 142.28,84.3 142.32,83.5 142.36,85.4 142.40,85.4 142.44,85.2 142.49,84.0 142.53,79.7 142.57,85.4 142.61,81.5 142.65,85.7 142.69,87.4 142.74,85.8 142.78,84.5 142.82,85.0 142.86,85.1 142.90,84.3 142.94,84.2 142.99,83.6 143.03,87.7 143.07,85.4 143.11,87.3 143.15,85.0 143.19,85.7 143.24,85.2 143.28,86.5 143.32,87.2 143.36,86.1 143.40,84.3 143.44,84.1 143.49,88.9 143.53,85.1 143.57,85.1 143.61,88.6 143.65,87.9 143.69,86.8 143.74,85.0 143.78,90.4 143.82,86.6 143.86,86.9 143.90,85.6 143.94,83.2 143.99,83.3 144.03,86.7 144.07,86.7 144.11,85.5 144.15,83.7 144.19,83.2 144.24,85.4 144.28,83.3 144.32,87.9 144.36,88.4 144.40,91.6 144.44,87.9 144.49,85.0 144.53,84.5 144.57,80.8 144.61,85.1 144.65,85.9 144.69,88.2 144.74,87.5 144.78,87.5 144.82,86.8 144.86,87.7 144.90,89.2 144.94,84.4 144.99,85.6 145.03,83.8 145.07,89.6 145.11,89.0 145.15,88.0 145.19,84.2 145.24,86.9 145.28,86.1 145.32,86.8 145.36,86.3 145.40,87.7 145.44,85.9 145.49,88.4 145.53,87.2 145.57,86.2 145.61,86.6 145.65,85.9 145.69,88.4 145.74,86.3 145.78,87.4 145.82,86.1 145.86,84.0 145.90,88.7 145.94,84.9 145.99,88.3 146.03,87.8 146.07,83.8 146.11,85.2 146.15,86.1 146.19,85.5 146.24,84.8 146.28,88.5 146.32,86.7 146.36,87.9 146.40,86.4 146.44,87.8 146.49,85.8 146.53,87.2 146.57,88.4 146.61,87.4 146.65,86.4 146.69,85.2 146.74,87.7 146.78,88.0 146.82,86.9 146.86,85.9 146.90,88.5 146.94,92.2 146.99,86.9 147.03,88.2 147.07,88.3 147.11,82.6 147.15,87.8 147.19,86.2 147.24,90.3 147.28,87.1 147.32,86.2 147.36,87.3 147.40,88.0 147.44,86.6 147.49,87.6 147.53,85.2 147.57,87.4 147.61,89.3 147.65,91.6 147.69,89.2 147.74,88.4 147.78,90.2 147.82,89.9 147.86,91.1 147.90,90.0 147.94,87.7 147.99,88.5 148.03,88.4 148.07,88.6 148.11,88.4 148.15,86.6 148.19,84.1 148.24,86.8 148.28,84.3 148.32,88.3 148.36,88.2 148.40,85.0 148.44,89.6 148.49,89.9 148.53,88.5 148.57,91.5 148.61,91.9 148.65,86.0 148.69,90.3 148.74,89.2 148.78,89.2 148.82,90.2 148.86,87.1 148.90,87.3 148.94,86.9 148.99,87.1 149.03,88.3 149.07,85.8 149.11,86.6 149.15,89.7 149.19,88.5 149.24,89.4 149.28,85.0 149.32,87.2 149.36,87.6 149.40,88.8 149.44,87.6 149.49,90.5 149.53,88.7 149.57,88.8 149.61,88.8 149.65,90.2 149.69,88.0 149.74,91.0 149.78,89.8 149.82,89.2 149.86,89.0 149.90,90.0 149.94,90.9 149.99,90.8 150.03,89.7 150.07,90.7 150.11,89.3 150.15,91.5 150.19,89.1 150.24,85.2 150.28,91.7 150.32,89.4 150.36,87.0 150.40,88.8 150.44,87.5 150.49,93.3 150.53,90.2 150.57,86.3 150.61,90.4 150.65,88.6 150.69,93.0 150.74,87.4 150.78,85.1 150.82,89.5 150.86,88.8 150.90,88.7 150.94,85.4 150.99,90.3 151.03,92.7 151.07,85.9 151.11,91.8 151.15,88.5 151.19,94.1 151.24,90.4 151.28,89.3 151.32,91.8 151.36,90.7 151.40,88.6 151.44,91.1 151.49,88.8 151.53,86.3 151.57,93.6 151.61,89.1 151.65,88.7 151.69,90.5 151.74,86.9 151.78,87.3 151.82,88.9 151.86,88.9 151.90,90.1 151.94,92.1 151.99,89.1 152.03,90.9 152.07,91.1 152.11,88.0 152.15,90.5 152.19,88.3 152.24,92.1 152.28,91.0 152.32,90.2 152.36,87.6 152.40,90.4 152.44,88.7 152.49,91.5 152.53,90.0 152.57,88.7 152.61,92.0 152.65,91.6 152.69,89.2 152.74,92.5 152.78,89.8 152.82,89.8 152.86,90.6 152.90,89.0 152.94,89.6 152.99,90.1 153.03,93.3 153.07,93.3 153.11,90.0 153.15,93.6 153.19,90.4 153.24,91.3 153.28,92.2 153.32,91.1 153.36,95.2 153.40,91.1 153.44,88.4 153.49,93.1 153.53,89.9 153.57,90.1 153.61,85.4 153.65,92.6 153.69,92.3 153.74,92.3 153.78,92.6 153.82,94.0 153.86,90.7 153.90,92.6 153.94,89.4 153.99,90.2 154.03,92.9 154.07,91.6 154.11,88.4 154.15,91.6 154.19,90.6 154.24,89.4 154.28,91.8 154.32,90.3 154.36,88.1 154.40,89.0 154.44,94.4 154.49,88.2 154.53,91.5 154.57,92.3 154.61,92.3 154.65,88.8 154.69,90.6 154.74,91.5 154.78,92.7 154.82,90.0 154.86,89.1 154.90,93.2 154.94,93.4 154.99,92.0 155.03,90.2 155.07,92.1 155.11,91.6 155.15,92.9 155.19,89.0 155.24,91.6 155.28,91.1 155.32,89.3 155.36,91.9 155.40,91.5 155.44,90.7 155.49,92.3 155.53,88.8 155.57,91.4 155.61,92.4 155.65,92.1 155.69,93.6 155.74,89.3 155.78,88.8 155.82,92.1 155.86,92.5 155.90,95.7 155.94,92.8 155.99,90.1 156.03,93.2 156.07,90.1 156.11,89.0 156.15,96.7 156.19,92.4 156.24,93.1 156.28,92.9 156.32,95.2 156.36,92.4 156.40,94.2 156.44,90.0 156.49,89.3 156.53,94.6 156.57,94.7 156.61,92.9 156.65,92.4 156.69,92.3 156.74,90.7 156.78,94.9 156.82,93.3 156.86,93.0 156.90,92.8 156.94,94.0 156.99,93.0 157.03,93.5 157.07,89.9 157.11,93.1 157.15,96.3 157.19,91.2 157.24,91.9 157.28,93.9 157.32,94.0 157.36,93.4 157.40,89.2 157.44,93.2 157.49,90.0 157.53,90.7 157.57,93.3 157.61,91.8 157.65,93.8 157.69,97.6 157.74,93.8 157.78,93.7 157.82,90.7 157.86,91.2 157.90,90.4 157.94,91.4 157.99,90.4 158.03,91.2 158.07,92.1 158.11,90.6 158.15,89.9 158.19,90.0 158.24,93.4 158.28,92.7 158.32,94.5 158.36,94.5 158.40,92.0 158.44,93.9 158.49,89.9 158.53,96.9 158.57,94.9 158.61,92.3 158.65,90.5 158.69,93.4 158.74,89.2 158.78,91.3 158.82,94.2 158.86,92.9 158.90,91.9 158.94,94.6 158.99,90.9 159.03,93.4 159.07,91.9 159.11,91.3 159.15,93.7 159.19,91.0 159.24,96.5 159.28,91.8 159.32,96.6 159.36,90.9 159.40,94.1 159.44,90.7 159.49,90.5 159.53,93.3 159.57,94.3 159.61,90.7 159.65,95.3 159.69,91.6 159.74,93.3 159.78,93.8 159.82,94.2 159.86,89.8 159.90,96.2 159.94,94.2 159.99,92.4 160.03,91.3 160.07,90.0 160.11,90.7 160.15,94.2 160.19,92.6 160.24,91.1 160.28,92.3 160.32,96.2 160.36,92.7 160.40,92.2 160.44,95.8 160.49,94.2 160.53,93.4 160.57,92.2 160.61,90.5 160.65,91.2 160.69,92.5 160.74,93.0 160.78,94.1 160.82,94.5 160.86,93.9 160.90,93.9 160.94,91.6 160.99,89.5 161.03,92.6 161.07,91.8 161.11,92.3 161.15,93.1 161.19,91.3 161.24,91.5 161.28,93.4 161.32,93.8 161.36,92.4 161.40,94.6 161.44,93.3 161.49,91.8 161.53,93.8 161.57,97.2 161.61,92.5 161.65,95.9 161.69,96.3 161.74,96.6 161.78,92.3 161.82,97.5 161.86,94.0 161.90,93.4 161.94,93.4 161.99,95.0 162.03,94.0 162.07,93.6 162.11,96.3 162.15,92.6 162.19,92.0 162.24,95.4 162.28,95.3 162.32,96.0 162.36,92.0 162.40,96.0 162.44,94.9 162.49,97.3 162.53,91.7 162.57,94.4 162.61,93.5 162.65,91.1 162.69,92.8 162.74,96.2 162.78,93.2 162.82,92.8 162.86,95.7 162.90,96.0 162.94,96.0 162.99,92.7 163.03,94.1 163.07,96.1 163.11,93.0 163.15,92.8 163.19,95.8 163.24,97.1 163.28,92.1 163.32,89.5 163.36,91.6 163.40,92.4 163.44,94.1 163.49,95.5 163.53,94.1 163.57,93.0 163.61,94.6 163.65,92.6 163.69,94.3 163.74,93.2 163.78,99.4 163.82,95.9 163.86,92.9 163.90,92.6 163.94,93.6 163.99,91.4 164.03,93.1 164.07,93.1 164.11,96.1 164.15,93.7 164.19,93.1 164.24,92.1 164.28,92.4 164.32,94.4 164.36,94.2 164.40,96.7 164.44,93.4 164.49,96.6 164.53,95.1 164.57,94.6 164.61,90.9 164.65,92.3 164.69,96.0 164.74,97.2 164.78,95.1 164.82,96.1 164.86,93.9 164.90,94.0 164.94,93.5 164.99,96.5 165.03,95.4 165.07,94.3 165.11,94.1 165.15,95.8 165.19,95.4 165.24,93.2 165.28,98.0 165.32,95.3 165.36,94.8 165.40,97.6 165.44,96.7 165.49,94.7 165.53,95.8 165.57,92.9 165.61,93.7 165.65,90.7 165.69,97.1 165.74,91.4 165.78,96.2 165.82,93.4 165.86,93.1 165.90,94.6 165.94,95.4 165.99,96.1 166.03,98.2 166.07,95.6 166.11,96.6 166.15,93.9 166.19,96.3 166.24,95.3 166.28,94.2 166.32,94.8 166.36,94.9 166.40,95.4 166.44,95.8 166.49,94.1 166.53,93.7 166.57,96.4 166.61,91.9 166.65,93.9 166.69,98.0 166.74,90.1 166.78,93.8 166.82,96.4 166.86,92.1 166.90,99.9 166.94,90.4 166.99,97.8 167.03,98.0 167.07,96.8 167.11,94.7 167.15,95.8 167.19,93.5 167.24,96.7 167.28,93.1 167.32,94.7 167.36,97.0 167.40,93.1 167.44,94.5 167.49,95.5 167.53,92.7 167.57,97.4 167.61,95.9 167.65,92.4 167.69,95.2 167.74,93.8 167.78,94.0 167.82,95.4 167.86,94.0 167.90,97.0 167.94,94.0 167.99,97.1 168.03,95.2 168.07,96.9 168.11,94.3 168.15,94.4 168.19,93.2 168.24,96.4 168.28,97.0 168.32,99.2 168.36,97.7 168.40,95.8 168.44,95.0 168.49,96.1 168.53,95.3 168.57,98.1 168.61,97.1 168.65,93.8 168.69,94.1 168.74,97.9 168.78,96.0 168.82,95.0 168.86,97.6 168.90,94.7 168.94,94.9 168.99,94.6 169.03,91.8 169.07,97.0 169.11,93.2 169.15,94.4 169.19,94.1 169.24,96.8 169.28,95.3 169.32,95.5 169.36,92.4 169.40,95.3 169.44,92.8 169.49,96.0 169.53,96.2 169.57,95.5 169.61,99.3 169.65,96.5 169.69,96.6 169.74,95.8 169.78,95.2 169.82,97.3 169.86,97.5 169.90,93.1 169.94,97.5 169.99,96.5 170.03,97.3 170.07,96.4 170.11,93.3 170.15,93.4 170.19,98.9 170.24,96.0 170.28,93.0 170.32,96.2 170.36,94.9 170.40,92.2 170.44,91.4 170.49,92.6 170.53,96.1 170.57,95.5 170.61,95.2 170.65,96.1 170.69,96.7 170.74,91.8 170.78,95.1 170.82,94.1 170.86,93.4 170.90,94.6 170.94,95.4 170.99,95.2 171.03,93.0 171.07,94.8 171.11,99.4 171.15,93.7 171.19,92.6 171.24,96.2 171.28,96.8 171.32,96.5 171.36,93.6 171.40,97.5 171.44,94.3 171.49,93.6 171.53,94.6 171.57,95.5 171.61,97.0 171.65,96.9 171.69,95.7 171.74,97.4 171.78,95.9 171.82,97.4 171.86,93.2 171.90,92.9 171.94,97.2 171.99,93.2 172.03,95.2 172.07,95.6 172.11,94.9 172.15,94.9 172.19,98.3 172.24,91.1 172.28,97.4 172.32,100.0 172.36,95.8 172.40,95.8 172.44,97.1 172.49,99.2 172.53,93.6 172.57,96.0 172.61,95.5 172.65,96.9 172.69,96.1 172.74,97.0 172.78,95.1 172.82,95.9 172.86,94.6 172.90,94.6 172.94,95.6 172.99,95.6 173.03,93.7 173.07,98.7 173.11,95.6 173.15,93.3 173.19,97.9 173.24,94.5 173.28,96.8 173.32,95.9 173.36,96.4 173.40,96.2 173.44,94.8 173.49,96.0 173.53,99.6 173.57,91.8 173.61,96.0 173.65,96.7 173.69,94.0 173.74,93.4 173.78,99.9 173.82,95.3 173.86,99.8 173.90,96.9 173.94,96.1 173.99,96.8 174.03,97.1 174.07,98.1 174.11,96.8 174.15,96.2 174.19,96.3 174.24,98.5 174.28,97.5 174.32,94.1 174.36,94.8 174.40,96.6 174.44,94.8 174.49,95.3 174.53,94.2 174.57,95.5 174.61,96.8 174.65,97.8 174.69,96.0 174.74,99.8 174.78,95.9 174.82,101.2 174.86,97.9 174.90,96.9 174.94,95.1 174.99,90.9 175.03,95.8 175.07,96.4 175.11,99.6 175.15,93.5 175.19,99.6 175.24,95.6 175.28,97.4 175.32,91.4 175.36,96.3 175.40,95.4 175.44,97.3 175.49,96.2 175.53,94.0 175.57,97.8 175.61,97.4 175.65,97.2 175.69,97.9 175.74,98.1 175.78,96.1 175.82,93.6 175.86,93.6 175.90,98.6 175.94,97.4 175.99,96.3 176.03,95.3 176.07,96.2 176.11,96.2 176.15,95.5 176.19,94.9 176.24,100.1 176.28,96.6 176.32,95.0 176.36,93.8 176.40,94.8 176.44,97.5 176.49,97.5 176.53,95.8 176.57,96.3 176.61,95.6 176.65,94.1 176.69,98.6 176.74,96.9 176.78,100.7 176.82,94.8 176.86,95.9 176.90,97.8 176.94,95.7 176.99,93.7 177.03,94.5 177.07,96.4 177.11,96.8 177.15,96.0 177.19,98.1 177.24,98.0 177.28,96.8 177.32,96.3 177.36,95.8 177.40,97.2 177.44,97.9 177.49,96.3 177.53,97.1 177.57,95.6 177.61,93.7 177.65,94.4 177.69,97.7 177.74,97.1 177.78,99.2 177.82,96.4 177.86,97.8 177.90,98.7 177.94,98.1 177.99,95.2 178.03,95.9 178.07,96.5 178.11,94.5 178.15,97.2 178.19,98.2 178.24,95.4 178.28,99.9 178.32,95.8 178.36,95.9 178.40,95.9 178.44,95.0 178.49,97.1 178.53,96.3 178.57,99.4 178.61,97.4 178.65,97.3 178.69,95.9 178.74,93.7 178.78,96.2 178.82,94.8 178.86,98.1 178.90,96.3 178.94,99.4 178.99,97.7 179.03,97.9 179.07,96.8 179.11,96.7 179.15,97.6 179.19,98.0 179.24,95.1 179.28,97.3 179.32,101.2 179.36,96.2 179.40,95.9 179.44,95.1 179.49,93.7 179.53,98.6 179.57,96.5 179.61,96.9 179.65,99.8 179.69,101.0 179.74,94.8 179.78,98.3 179.82,97.5 179.86,97.1 179.90,97.3 179.94,96.4 179.99,99.3 180.03,97.5 180.07,97.1 180.11,98.7 180.15,98.1 180.19,97.3 180.24,97.0 180.28,99.7 180.32,97.4 180.36,96.3 180.40,94.9 180.44,95.8 180.49,94.5 180.53,96.7 180.57,96.9 180.61,92.7 180.65,96.5 180.69,97.7 180.74,96.8 180.78,94.7 180.82,98.8 180.86,95.2 180.90,94.2 180.94,94.5 180.99,96.5 181.03,98.3 181.07,98.6 181.11,96.9 181.15,94.3 181.19,95.3 181.24,94.9 181.28,96.2 181.32,93.3 181.36,96.7 181.40,97.7 181.44,96.2 181.49,97.4 181.53,94.8 181.57,93.9 181.61,95.4 181.65,98.6 181.69,98.4 181.74,95.7 181.78,98.7 181.82,95.9 181.86,99.3 181.90,97.4 181.94,95.7 181.99,98.0 182.03,95.1 182.07,94.8 182.11,93.9 182.15,97.0 182.19,96.5 182.24,96.4 182.28,95.8 182.32,99.2 182.36,95.8 182.40,95.3 182.44,98.9 182.49,99.2 182.53,97.2 182.57,93.4 182.61,95.5 182.65,97.7 182.69,96.6 182.74,99.4 182.78,94.1 182.82,97.8 182.86,95.5 182.90,99.0 182.94,96.5 182.99,98.5 183.03,95.4 183.07,94.0 183.11,94.6 183.15,95.5 183.19,94.8 183.24,98.8 183.28,99.1 183.32,97.1 183.36,94.8 183.40,96.4 183.44,95.4 183.49,99.3 183.53,97.2 183.57,97.6 183.61,95.9 183.65,93.0 183.69,95.3 183.74,94.6 183.78,97.3 183.82,96.9 183.86,95.2 183.90,96.0 183.94,99.5 183.99,94.9 184.03,95.0 184.07,96.3 184.11,95.4 184.15,95.9 184.19,97.7 184.24,99.9 184.28,93.5 184.32,96.7 184.36,96.8 184.40,96.6 184.44,96.4 184.49,96.1 184.53,98.6 184.57,95.9 184.61,96.5 184.65,96.7 184.69,96.9 184.74,96.4 184.78,98.6 184.82,96.7 184.86,97.1 184.90,96.7 184.94,94.9 184.99,95.2 185.03,94.8 185.07,97.1 185.11,95.5 185.15,94.8 185.19,97.2 185.24,97.7 185.28,93.6 185.32,99.9 185.36,96.8 185.40,96.6 185.44,98.7 185.49,96.9 185.53,95.7 185.57,100.8 185.61,94.8 185.65,96.6 185.69,98.4 185.74,94.9 185.78,96.6 185.82,97.5 185.86,101.2 185.90,95.2 185.94,96.7 185.99,98.0 186.03,97.0 186.07,94.6 186.11,97.6 186.15,97.0 186.19,97.7 186.24,98.9 186.28,98.7 186.32,97.6 186.36,97.4 186.40,94.9 186.44,96.6 186.49,97.3 186.53,96.1 186.57,97.1 186.61,95.4 186.65,99.7 186.69,100.8 186.74,96.2 186.78,97.6 186.82,96.5 186.86,99.2 186.90,97.7 186.94,97.0 186.99,96.5 187.03,97.1 187.07,95.1 187.11,98.1 187.15,95.6 187.19,97.9 187.24,97.2 187.28,98.9 187.32,96.9 187.36,98.8 187.40,95.3 187.44,98.1 187.49,96.5 187.53,97.3 187.57,97.1 187.61,98.7 187.65,93.3 187.69,97.5 187.74,94.2 187.78,99.2 187.82,93.4 187.86,95.1 187.90,93.9 187.94,100.0 187.99,94.6 188.03,97.2 188.07,96.0 188.11,93.7 188.15,96.4 188.19,98.2 188.24,96.7 188.28,98.7 188.32,96.3 188.36,97.0 188.40,96.3 188.44,97.6 188.49,100.5 188.53,97.7 188.57,97.4 188.61,95.9 188.65,95.7 188.69,99.7 188.74,95.0 188.78,95.4 188.82,96.9 188.86,96.3 188.90,100.6 188.94,92.7 188.99,97.7 189.03,98.4 189.07,95.0 189.11,95.9 189.15,97.9 189.19,100.1 189.24,95.4 189.28,94.2 189.32,98.9 189.36,99.9 189.40,96.5 189.44,93.1 189.49,99.8 189.53,96.8 189.57,99.2 189.61,97.0 189.65,96.4 189.69,96.3 189.74,99.8 189.78,99.7 189.82,93.2 189.86,95.4 189.90,100.4 189.94,96.5 189.99,94.7 190.03,97.2 190.07,97.0 190.11,97.0 190.15,96.3 190.19,96.6 190.24,96.3 190.28,97.8 190.32,95.7 190.36,96.7 190.40,96.9 190.44,99.6 190.49,97.9 190.53,97.0 190.57,98.2 190.61,97.9 190.65,99.2 190.69,98.1 190.74,100.5 190.78,99.7 190.82,97.2 190.86,96.5 190.90,98.8 190.94,98.2 190.99,97.1 191.03,94.6 191.07,93.9 191.11,97.9 191.15,98.7 191.19,98.7 191.24,94.9 191.28,99.2 191.32,96.3 191.36,98.0 191.40,98.0 191.44,95.8 191.49,96.2 191.53,93.5 191.57,95.6 191.61,94.0 191.65,98.1 191.69,97.4 191.74,99.0 191.78,98.0 191.82,96.2 191.86,98.0 191.90,96.6 191.94,98.4 191.99,97.9 192.03,95.5 192.07,97.3 192.11,97.4 192.15,96.8 192.19,99.0 192.24,100.5 192.28,96.7 192.32,96.7 192.36,93.3 192.40,97.1 192.44,96.6 192.49,93.4 192.53,97.9 192.57,98.5 192.61,96.1 192.65,96.7 192.69,95.6 192.74,98.8 192.78,94.6 192.82,96.8 192.86,101.0 192.90,97.5 192.94,98.3 192.99,97.2 193.03,95.3 193.07,97.4 193.11,98.2 193.15,95.6 193.19,98.1 193.24,99.7 193.28,99.4 193.32,94.6 193.36,95.7 193.40,94.5 193.44,99.4 193.49,98.6 193.53,98.8 193.57,95.9 193.61,95.4 193.65,97.6 193.69,97.7 193.74,95.9 193.78,97.8 193.82,98.7 193.86,97.9 193.90,95.6 193.94,93.7 193.99,97.1 194.03,97.8 194.07,97.1 194.11,96.8 194.15,96.3 194.19,98.8 194.24,97.5 194.28,97.8 194.32,95.8 194.36,96.4 194.40,97.9 194.44,95.7 194.49,95.3 194.53,97.0 194.57,99.8 194.61,97.9 194.65,100.2 194.69,97.4 194.74,97.0 194.78,95.1 194.82,96.6 194.86,100.2 194.90,98.2 194.94,98.9 194.99,98.9 195.03,97.6 195.07,97.3 195.11,97.8 195.15,98.9 195.19,98.5 195.24,98.5 195.28,97.9 195.32,96.3 195.36,97.2 195.40,96.0 195.44,99.5 195.49,93.9 195.53,97.3 195.57,102.0 195.61,97.1 195.65,95.6 195.69,97.7 195.74,100.0 195.78,97.4 195.82,98.8 195.86,97.9 195.90,97.0 195.94,102.8 195.99,97.8 196.03,96.7 196.07,96.8 196.11,98.4 196.15,98.5 196.19,99.1 196.24,98.0 196.28,95.1 196.32,98.7 196.36,97.2 196.40,97.2 196.44,95.1 196.49,96.7 196.53,96.4 196.57,97.7 196.61,95.1 196.65,97.9 196.69,98.0 196.74,95.8 196.78,96.7 196.82,96.2 196.86,99.4 196.90,93.2 196.94,97.2 196.99,94.8 197.03,97.0 197.07,99.4 197.11,96.7 197.15,98.1 197.19,96.3 197.24,101.4 197.28,99.5 197.32,99.9 197.36,95.4 197.40,95.9 197.44,99.8 197.49,97.5 197.53,97.4 197.57,98.5 197.61,95.6 197.65,99.3 197.69,97.9 197.74,98.8 197.78,96.7 197.82,98.8 197.86,96.6 197.90,99.6 197.94,100.0 197.99,99.6 198.03,98.8 198.07,99.1 198.11,93.0 198.15,99.4 198.19,97.4 198.24,98.1 198.28,97.4 198.32,95.4 198.36,97.0 198.40,99.1 198.44,100.5 198.49,96.8 198.53,96.3 198.57,100.6 198.61,96.4 198.65,101.7 198.69,98.1 198.74,96.4 198.78,99.8 198.82,101.1 198.86,95.4 198.90,100.8 198.94,97.5 198.99,100.7 199.03,97.3 199.07,95.2 199.11,98.9 199.15,99.7 199.19,101.8 199.24,101.1 199.28,99.3 199.32,97.6 199.36,97.1 199.40,97.5 199.44,96.5 199.49,97.6 199.53,93.4 199.57,98.4 199.61,98.0 199.65,102.7 199.69,99.4 199.74,97.2 199.78,99.1 199.82,95.9 199.86,97.0 199.90,94.7 199.94,100.7 199.99,99.2 200.03,96.0 200.07,98.0 200.11,99.8 200.15,99.0 200.19,98.8 200.24,96.6 200.28,97.0 200.32,98.3 200.36,99.8 200.40,96.6 200.44,96.1 200.49,100.2 200.53,96.5 200.57,100.1 200.61,98.6 200.65,99.7 200.69,101.3 200.74,99.4 200.78,99.6 200.82,96.5 200.86,96.9 200.90,99.3 200.94,101.0 200.99,100.7 201.03,102.4 201.07,98.8 201.11,98.6 201.15,100.0 201.19,98.2 201.24,98.1 201.28,96.3 201.32,100.0 201.36,96.3 201.40,99.1 201.44,95.7 201.49,100.2 201.53,96.4 201.57,99.8 201.61,95.4 201.65,97.4 201.69,100.4 201.74,96.8 201.78,98.4 201.82,97.4 201.86,94.1 201.90,98.8 201.94,99.0 201.99,96.3 202.03,99.3 202.07,96.8 202.11,96.5 202.15,98.3 202.19,97.1 202.24,102.4 202.28,95.5 202.32,99.6 202.36,100.1 202.40,94.7 202.44,95.2 202.49,99.3 202.53,97.4 202.57,99.0 202.61,100.4 202.65,97.6 202.69,96.4 202.74,93.4 202.78,98.7 202.82,96.7 202.86,98.9 202.90,98.8 202.94,95.8 202.99,101.5 203.03,100.3 203.07,99.9 203.11,96.2 203.15,97.6 203.19,97.4 203.24,97.6 203.28,96.3 203.32,99.2 203.36,98.8 203.40,99.0 203.44,97.5 203.49,100.7 203.53,98.7 203.57,93.4 203.61,97.2 203.65,98.3 203.69,100.2 203.74,97.9 203.78,98.0 203.82,97.2 203.86,99.6 203.90,97.6 203.94,97.3 203.99,97.1 204.03,99.4 204.07,97.5 204.11,95.4 204.15,99.6 204.19,97.2 204.24,99.1 204.28,99.1 204.32,100.6 204.36,100.3 204.40,97.4 204.44,98.2 204.49,96.1 204.53,101.5 204.57,99.3 204.61,101.0 204.65,97.9 204.69,94.8 204.74,101.2 204.78,98.7 204.82,98.7 204.86,98.6 204.90,99.7 204.94,99.5 204.99,95.6 205.03,100.5 205.07,97.5 205.11,97.7 205.15,101.6 205.19,100.2 205.24,97.9 205.28,95.2 205.32,98.8 205.36,99.5 205.40,98.4 205.44,96.3 205.49,97.1 205.53,96.3 205.57,98.9 205.61,100.0 205.65,100.4 205.69,97.2 205.74,99.0 205.78,99.6 205.82,97.6 205.86,98.3 205.90,102.4 205.94,98.9 205.99,100.2 206.03,97.8 206.07,98.6 206.11,95.5 206.15,98.5 206.19,100.7 206.24,102.4 206.28,100.7 206.32,99.8 206.36,98.7 206.40,97.5 206.44,98.3 206.49,99.7 206.53,97.2 206.57,100.3 206.61,96.8 206.65,95.4 206.69,96.8 206.74,95.6 206.78,96.1 206.82,100.7 206.86,98.3 206.90,99.0 206.94,100.7 206.99,100.9 207.03,97.7 207.07,101.0 207.11,99.3 207.15,98.6 207.19,99.4 207.24,96.1 207.28,97.2 207.32,98.4 207.36,99.7 207.40,98.0 207.44,98.4 207.49,100.4 207.53,101.2 207.57,100.0 207.61,100.9 207.65,97.9 207.69,98.1 207.74,99.2 207.78,98.1 207.82,97.8 207.86,101.7 207.90,98.3 207.94,96.9 207.99,99.6 208.03,102.0 208.07,98.8 208.11,100.9 208.15,97.9 208.19,97.8 208.24,97.4 208.28,98.4 208.32,102.0 208.36,96.6 208.40,101.7 208.44,96.9 208.49,98.3 208.53,100.2 208.57,99.8 208.61,99.2 208.65,95.7 208.69,99.4 208.74,96.9 208.78,103.4 208.82,98.3 208.86,99.1 208.90,96.6 208.94,97.9 208.99,96.4 209.03,100.5 209.07,98.3 209.11,99.7 209.15,97.5 209.19,97.8 209.24,101.1 209.28,97.0 209.32,95.5 209.36,99.5 209.40,96.7 209.44,97.9 209.49,100.4 209.53,97.3 209.57,100.3 209.61,97.5 209.65,101.4 209.69,101.1 209.74,97.9 209.78,98.4 209.82,97.3 209.86,99.1 209.90,100.8 209.94,96.1 209.99,100.4 210.03,96.4 210.07,97.2 210.11,95.5 210.15,102.6 210.19,98.9 210.24,99.2 210.28,97.6 210.32,100.7 210.36,95.0 210.40,98.8 210.44,102.8 210.49,98.1 210.53,98.8 210.57,100.0 210.61,97.3 210.65,98.8 210.69,100.5 210.74,99.1 210.78,99.5 210.82,98.2 210.86,99.4 210.90,98.9 210.94,101.4 210.99,100.1 211.03,98.4 211.07,94.4 211.11,100.1 211.15,100.2 211.19,97.1 211.24,95.2 211.28,96.7 211.32,100.5 211.36,96.9 211.40,98.0 211.44,99.2 211.49,101.0 211.53,98.8 211.57,98.6 211.61,97.8 211.65,101.7 211.69,100.7 211.74,98.6 211.78,96.3 211.82,97.4 211.86,99.9 211.90,97.5 211.94,100.4 211.99,99.5 212.03,99.3 212.07,100.0 212.11,99.7 212.15,97.3 212.19,98.2 212.24,103.0 212.28,96.6 212.32,98.0 212.36,100.7 212.40,98.5 212.44,97.4 212.49,96.4 212.53,99.8 212.57,100.7 212.61,101.4 212.65,98.9 212.69,100.7 212.74,97.0 212.78,99.1 212.82,97.6 212.86,99.1 212.90,100.2 212.94,100.8 212.99,97.0 213.03,101.1 213.07,98.0 213.11,97.0 213.15,98.5 213.19,96.2 213.24,98.8 213.28,99.4 213.32,98.5 213.36,99.8 213.40,98.3 213.44,98.8 213.49,96.2 213.53,98.9 213.57,97.3 213.61,98.0 213.65,98.7 213.69,99.2 213.74,95.9 213.78,96.0 213.82,98.3 213.86,99.7 213.90,99.5 213.94,100.5 213.99,101.2 214.03,99.7 214.07,98.8 214.11,97.0 214.15,97.1 214.19,98.0 214.24,99.3 214.28,99.3 214.32,98.9 214.36,98.6 214.40,100.0 214.44,99.2 214.49,99.4 214.53,99.4 214.57,97.9 214.61,97.0 214.65,99.8 214.69,99.6 214.74,98.5 214.78,98.1 214.82,103.0 214.86,97.5 214.90,98.5 214.94,99.4 214.99,96.8 215.03,99.1 215.07,102.1 215.11,100.6 215.15,100.0 215.19,99.9 215.24,99.1 215.28,100.6 215.32,98.6 215.36,98.1 215.40,99.1 215.44,100.5 215.49,99.5 215.53,100.1 215.57,95.2 215.61,101.0 215.65,103.1 215.69,101.3 215.74,98.3 215.78,97.4 215.82,99.4 215.86,97.1 215.90,100.2 215.94,97.9 215.99,100.6 216.03,101.3 216.07,95.2 216.11,99.4 216.15,97.6 216.19,96.4 216.24,97.8 216.28,98.5 216.32,100.8 216.36,96.2 216.40,100.8 216.44,102.5 216.49,100.0 216.53,99.9 216.57,98.9 216.61,96.8 216.65,99.9 216.69,99.6 216.74,100.2 216.78,103.5 216.82,100.2 216.86,99.7 216.90,101.7 216.94,96.5 216.99,96.8 217.03,98.2 217.07,97.7 217.11,100.2 217.15,98.3 217.19,102.1 217.24,101.7 217.28,100.3 217.32,98.2 217.36,100.0 217.40,100.4 217.44,97.0 217.49,99.5 217.53,100.2 217.57,99.3 217.61,101.8 217.65,101.1 217.69,97.4 217.74,99.1 217.78,97.4 217.82,100.0 217.86,97.4 217.90,100.6 217.94,99.6 217.99,100.7 218.03,98.7 218.07,96.3 218.11,102.1 218.15,98.6 218.19,101.4 218.24,99.7 218.28,100.1 218.32,102.2 218.36,99.5 218.40,101.5 218.44,96.3 218.49,100.5 218.53,98.5 218.57,98.7 218.61,99.0 218.65,99.6 218.69,101.9 218.74,95.6 218.78,99.0 218.82,97.7 218.86,101.0 218.90,98.2 218.94,99.8 218.99,98.2 219.03,100.2 219.07,100.8 219.11,98.2 219.15,99.0 219.19,96.4 219.24,99.5 219.28,100.5 219.32,98.0 219.36,101.0 219.40,95.2 219.44,95.6 219.49,96.5 219.53,98.1 219.57,99.0 219.61,98.8 219.65,98.8 219.69,100.3 219.74,98.1 219.78,96.7 219.82,96.7 219.86,102.8 219.90,94.7 219.94,98.6 219.99,101.6 220.03,99.8 220.07,97.5 220.11,99.0 220.15,100.5 220.19,101.1 220.24,97.3 220.28,100.3 220.32,99.4 220.36,101.0 220.40,101.5 220.44,98.4 220.49,96.4 220.53,99.7 220.57,102.2 220.61,100.2 220.65,99.4 220.69,103.3 220.74,97.1 220.78,100.6 220.82,97.9 220.86,99.1 220.90,99.1 220.94,101.7 220.99,97.3 221.03,98.0 221.07,96.1 221.11,99.9 221.15,98.2 221.19,99.7 221.24,97.0 221.28,98.3 221.32,100.9 221.36,98.7 221.40,100.1 221.44,99.9 221.49,98.4 221.53,96.2 221.57,100.8 221.61,99.3 221.65,100.8 221.69,95.4 221.74,96.0 221.78,95.1 221.82,97.4 221.86,100.9 221.90,100.0 221.94,98.9 221.99,99.2 222.03,100.4 222.07,98.5 222.11,99.7 222.15,99.3 222.19,95.1 222.24,98.3 222.28,101.4 222.32,98.3 222.36,98.7 222.40,97.9 222.44,98.1 222.49,101.0 222.53,98.5 222.57,97.2 222.61,94.0 222.65,98.0 222.69,95.5 222.74,95.7 222.78,100.4 222.82,100.3 222.86,95.6 222.90,100.5 222.94,99.8 222.99,97.6 223.03,100.3 223.07,96.1 223.11,96.8 223.15,96.4 223.19,97.0 223.24,100.6 223.28,96.6 223.32,96.9 223.36,97.3 223.40,99.4 223.44,98.4 223.49,100.6 223.53,97.7 223.57,96.7 223.61,98.1 223.65,99.1 223.69,97.3 223.74,99.5 223.78,102.3 223.82,98.0 223.86,99.1 223.90,101.4 223.94,97.8 223.99,97.5 224.03,97.0 224.07,99.7 224.11,99.9 224.15,98.7 224.19,99.1 224.24,101.3 224.28,100.6 224.32,96.5 224.36,99.0 224.40,99.2 224.44,100.3 224.49,98.6 224.53,97.8 224.57,98.2 224.61,95.8 224.65,98.9 224.69,97.9 224.74,99.8 224.78,97.1 224.82,98.2 224.86,97.2 224.90,97.1 224.94,100.2 224.99,98.1 225.03,99.8 225.07,97.0 225.11,99.2 225.15,95.9 225.19,98.1 225.24,98.1 225.28,100.0 225.32,99.3 225.36,98.7 225.40,100.5 225.44,99.3 225.49,99.9 225.53,100.4 225.57,98.9 225.61,98.4 225.65,99.6 225.69,98.2 225.74,99.7 225.78,101.0 225.82,100.5 225.86,98.3 225.90,96.7 225.94,98.9 225.99,98.7 226.03,101.0 226.07,98.3 226.11,98.6 226.15,100.3 226.19,98.1 226.24,98.7 226.28,102.1 226.32,101.7 226.36,100.1 226.40,99.5 226.44,97.2 226.49,100.0 226.53,99.1 226.57,99.4 226.61,98.0 226.65,99.0 226.69,98.6 226.74,99.5 226.78,101.5 226.82,99.6 226.86,96.0 226.90,97.2 226.94,96.1 226.99,97.6 227.03,100.0 227.07,99.7 227.11,97.9 227.15,99.5 227.19,97.6 227.24,96.4 227.28,96.5 227.32,97.4 227.36,101.5 227.40,96.6 227.44,101.2 227.49,101.4 227.53,98.7 227.57,98.9 227.61,97.9 227.65,98.9 227.69,100.2 227.74,99.0 227.78,100.8 227.82,101.1 227.86,99.6 227.90,99.6 227.94,98.9 227.99,99.6 228.03,97.0 228.07,99.7 228.11,99.4 228.15,97.4 228.19,102.9 228.24,97.2 228.28,97.4 228.32,99.5 228.36,95.5 228.40,97.6 228.44,96.3 228.49,97.3 228.53,98.8 228.57,99.6 228.61,101.0 228.65,100.4 228.69,101.1 228.74,100.1 228.78,98.2 228.82,101.0 228.86,98.1 228.90,97.9 228.94,101.7 228.99,100.4 229.03,99.4 229.07,100.3 229.11,100.6 229.15,96.5 229.19,98.8 229.24,96.9 229.28,99.2 229.32,97.8 229.36,101.4 229.40,99.9 229.44,97.5 229.49,99.0 229.53,96.8 229.57,99.1 229.61,100.0 229.65,99.5 229.69,95.5 229.74,98.4 229.78,99.9 229.82,99.6 229.86,101.1 229.90,96.7 229.94,99.9 229.99,97.8 230.03,99.4 230.07,99.7 230.11,100.2 230.15,98.0 230.19,99.3 230.24,96.9 230.28,96.5 230.32,100.0 230.36,98.9 230.40,96.1 230.44,97.5 230.49,99.0 230.53,101.8 230.57,100.9 230.61,100.4 230.65,95.8 230.69,98.8 230.74,99.9 230.78,99.7 230.82,99.8 230.86,98.6 230.90,102.2 230.94,101.7 230.99,98.8 231.03,97.2 231.07,102.7 231.11,98.0 231.15,101.2 231.19,102.4 231.24,97.3 231.28,99.5 231.32,98.4 231.36,99.9 231.40,99.6 231.44,102.5 231.49,100.1 231.53,99.0 231.57,101.0 231.61,98.5 231.65,98.4 231.69,103.0 231.74,97.5 231.78,98.1 231.82,99.1 231.86,97.1 231.90,95.2 231.94,100.9 231.99,97.6 232.03,98.0 232.07,98.3 232.11,97.3 232.15,97.1 232.19,99.3 232.24,103.3 232.28,100.3 232.32,100.4 232.36,96.3 232.40,99.0 232.44,96.9 232.49,100.4 232.53,98.6 232.57,99.1 232.61,98.9 232.65,98.0 232.69,96.3 232.74,100.1 232.78,96.5 232.82,96.9 232.86,98.5 232.90,97.8 232.94,99.5 232.99,100.8 233.03,99.5 233.07,99.4 233.11,99.1 233.15,100.6 233.19,95.7 233.24,99.7 233.28,97.4 233.32,96.8 233.36,99.0 233.40,98.3 233.44,100.1 233.49,101.0 233.53,94.8 233.57,98.9 233.61,102.6 233.65,100.6 233.69,101.6 233.74,99.2 233.78,96.5 233.82,97.0 233.86,100.3 233.90,100.8 233.94,97.7 233.99,98.6 234.03,99.5 234.07,95.9 234.11,98.4 234.15,102.0 234.19,103.0 234.24,98.8 234.28,102.3 234.32,98.1 234.36,97.6 234.40,95.0 234.44,100.8 234.49,98.4 234.53,103.3 234.57,99.6 234.61,99.4 234.65,95.8 234.69,101.7 234.74,98.4 234.78,98.8 234.82,95.1 234.86,100.7 234.90,100.8 234.94,98.0 234.99,99.2 235.03,99.8 235.07,100.8 235.11,99.2 235.15,102.2 235.19,98.6 235.24,98.0 235.28,98.2 235.32,94.5 235.36,97.6 235.40,100.9 235.44,99.5 235.49,97.6 235.53,99.7 235.57,95.4 235.61,98.5 235.65,100.0 235.69,100.3 235.74,97.7 235.78,100.7 235.82,102.4 235.86,98.3 235.90,100.4 235.94,96.3 235.99,95.5 236.03,100.2 236.07,99.1 236.11,99.4 236.15,98.0 236.19,98.5 236.24,100.5 236.28,102.2 236.32,98.7 236.36,96.1 236.40,101.4 236.44,100.2 236.49,100.3 236.53,99.4 236.57,103.3 236.61,99.2 236.65,100.0 236.69,95.7 236.74,98.0 236.78,97.8 236.82,99.0 236.86,99.7 236.90,97.7 236.94,102.2 236.99,97.2 237.03,98.3 237.07,99.5 237.11,96.8 237.15,100.1 237.19,100.2 237.24,98.5 237.28,102.5 237.32,99.2 237.36,99.6 237.40,97.3 237.44,96.1 237.49,97.9 237.53,98.5 237.57,98.3 237.61,100.5 237.65,94.8 237.69,97.0 237.74,95.8 237.78,101.5 237.82,98.1 237.86,98.2 237.90,97.1 237.94,100.7 237.99,98.3 238.03,99.5 238.07,95.4 238.11,101.2 238.15,99.8 238.19,100.1 238.24,101.3 238.28,98.7 238.32,98.8 238.36,100.4 238.40,99.9 238.44,98.6 238.49,99.2 238.53,98.2 238.57,100.4 238.61,100.8 238.65,99.1 238.69,102.5 238.74,96.3 238.78,98.7 238.82,102.2 238.86,98.3 238.90,96.2 238.94,101.6 238.99,100.1 239.03,96.9 239.07,100.5 239.11,97.2 239.15,96.7 239.19,98.8 239.24,98.2 239.28,97.1 239.32,98.4 239.36,97.3 239.40,99.2 239.44,99.1 239.49,100.4 239.53,98.3 239.57,96.7 239.61,96.7 239.65,98.7 239.69,101.9 239.74,100.6 239.78,97.9 239.82,100.8 239.86,97.0 239.90,100.9 239.94,98.4 239.99,100.5 240.03,100.2 240.07,98.6 240.11,99.7 240.15,97.2 240.19,99.0 240.24,101.1 240.28,104.2 240.32,100.4 240.36,99.3 240.40,97.3 240.44,101.0 240.49,96.1 240.53,97.7 240.57,99.7 240.61,96.9 240.65,101.9 240.69,101.1 240.74,98.1 240.78,98.1 240.82,96.7 240.86,96.6 240.90,99.9 240.94,100.2 240.99,99.7 241.03,99.6 241.07,98.1 241.11,99.8 241.15,96.4 241.19,99.1 241.24,101.8 241.28,101.5 241.32,98.3 241.36,98.5 241.40,101.6 241.44,102.3 241.49,96.4 241.53,98.3 241.57,99.5 241.61,101.3 241.65,97.6 241.69,100.3 241.74,98.6 241.78,103.4 241.82,99.9 241.86,98.9 241.90,98.5 241.94,101.0 241.99,100.3 242.03,97.2 242.07,99.5 242.11,96.7 242.15,97.7 242.19,96.8 242.24,96.7 242.28,97.9 242.32,97.3 242.36,100.1 242.40,100.6 242.44,98.7 242.49,97.1 242.53,100.6 242.57,95.5 242.61,95.6 242.65,100.4 242.69,100.3 242.74,100.9 242.78,98.7 242.82,96.8 242.86,98.2 242.90,100.1 242.94,97.7 242.99,97.8 243.03,96.6 243.07,97.0 243.11,100.6 243.15,99.9 243.19,97.0 243.24,97.2 243.28,98.1 243.32,100.1 243.36,97.0 243.40,98.8 243.44,95.2 243.49,96.8 243.53,99.9 243.57,100.7 243.61,97.0 243.65,97.7 243.69,100.6 243.74,98.4 243.78,98.1 243.82,100.1 243.86,99.5 243.90,101.1 243.94,100.6 243.99,98.1 244.03,98.9 244.07,99.0 244.11,96.7 244.15,97.4 244.19,100.9 244.24,96.3 244.28,100.9 244.32,99.6 244.36,98.9 244.40,100.1 244.44,100.0 244.49,101.3 244.53,98.4 244.57,98.7 244.61,98.7 244.65,102.5 244.69,100.8 244.74,97.5 244.78,98.5 244.82,97.8 244.86,99.1 244.90,99.5 244.94,103.3 244.99,95.8 245.03,101.0 245.07,99.9 245.11,97.9 245.15,98.9 245.19,98.2 245.24,99.2 245.28,100.9 245.32,96.4 245.36,101.5 245.40,98.5 245.44,101.8 245.49,99.9 245.53,101.4 245.57,100.2 245.61,101.1 245.65,99.2 245.69,97.6 245.74,100.3 245.78,100.4 245.82,102.9 245.86,95.5 245.90,98.8 245.94,101.1 245.99,96.9 246.03,98.7 246.07,103.0 246.11,101.7 246.15,97.6 246.19,101.7 246.24,101.3 246.28,100.5 246.32,99.8 246.36,99.6 246.40,97.6 246.44,98.2 246.49,100.5 246.53,99.4 246.57,102.5 246.61,98.5 246.65,94.8 246.69,98.5 246.74,99.6 246.78,99.8 246.82,99.3 246.86,97.7 246.90,101.8 246.94,98.0 246.99,100.4 247.03,98.6"/><polyline fill="none" stroke="#1a64ee" stroke-width="0.6" points="46.24,140.8 46.28,140.1 46.32,143.0 46.36,143.1 46.40,141.1 46.44,140.5 46.49,145.5 46.53,145.7 46.57,142.8 46.61,141.7 46.65,144.2 46.69,145.1 46.74,141.2 46.78,146.0 46.82,142.1 46.86,144.7 46.90,141.5 46.94,142.7 46.99,141.8 47.03,142.8 47.07,144.9 47.11,141.1 47.15,142.3 47.19,144.1 47.24,142.1 47.28,147.3 47.32,140.3 47.36,148.4 47.40,142.0 47.44,145.4 47.49,146.7 47.53,144.6 47.57,140.8 47.61,143.0 47.65,143.9 47.69,144.9 47.74,145.8 47.78,146.2 47.82,147.0 47.86,142.1 47.90,146.1 47.94,140.7 47.99,144.5 48.03,142.2 48.07,140.8 48.11,146.3 48.15,144.4 48.19,146.6 48.24,141.4 48.28,142.2 48.32,144.6 48.36,143.5 48.40,145.0 48.44,143.7 48.49,144.3 48.53,142.8 48.57,147.7 48.61,144.5 48.65,142.9 48.69,146.7 48.74,146.3 48.78,145.9 48.82,145.9 48.86,144.7 48.90,145.3 48.94,141.2 48.99,142.6 49.03,143.3 49.07,146.4 49.11,148.3 49.15,145.6 49.19,145.5 49.24,148.3 49.28,145.4 49.32,147.5 49.36,147.1 49.40,143.6 49.44,147.0 49.49,146.8 49.53,144.2 49.57,144.4 49.61,144.0 49.65,149.3 49.69,150.9 49.74,148.1 49.78,149.9 49.82,144.1 49.86,149.7 49.90,150.9 49.94,150.2 49.99,145.2 50.03,149.3 50.07,146.9 50.11,149.3 50.15,146.0 50.19,147.3 50.24,146.2 50.28,148.4 50.32,147.3 50.36,149.7 50.40,149.2 50.44,148.4 50.49,147.6 50.53,147.1 50.57,147.8 50.61,149.3 50.65,148.1 50.69,148.5 50.74,147.9 50.78,147.9 50.82,146.7 50.86,144.4 50.90,149.3 50.94,149.3 50.99,146.3 51.03,152.1 51.07,146.0 51.11,150.4 51.15,148.9 51.19,149.1 51.24,150.8 51.28,150.4 51.32,148.7 51.36,146.6 51.40,146.3 51.44,149.1 51.49,151.9 51.53,150.6 51.57,148.8 51.61,149.6 51.65,150.3 51.69,152.4 51.74,147.5 51.78,150.5 51.82,149.7 51.86,147.7 51.90,147.2 51.94,151.7 51.99,149.9 52.03,148.9 52.07,149.6 52.11,151.3 52.15,149.6 52.19,152.6 52.24,149.0 52.28,148.0 52.32,149.4 52.36,147.8 52.40,149.0 52.44,152.1 52.49,153.1 52.53,151.0 52.57,150.2 52.61,148.1 52.65,147.9 52.69,150.7 52.74,150.3 52.78,148.9 52.82,149.2 52.86,153.1 52.90,152.0 52.94,150.2 52.99,150.6 53.03,152.7 53.07,150.9 53.11,150.7 53.15,147.2 53.19,147.0 53.24,146.6 53.28,146.0 53.32,150.4 53.36,151.1 53.40,148.8 53.44,151.4 53.49,151.4 53.53,150.4 53.57,147.7 53.61,153.5 53.65,153.3 53.69,149.6 53.74,154.5 53.78,150.8 53.82,149.2 53.86,150.0 53.90,147.2 53.94,150.2 53.99,147.7 54.03,153.1 54.07,151.5 54.11,148.2 54.15,152.1 54.19,147.6 54.24,151.3 54.28,152.0 54.32,151.2 54.36,148.9 54.40,150.9 54.44,150.8 54.49,151.3 54.53,154.1 54.57,154.5 54.61,154.3 54.65,150.0 54.69,149.8 54.74,151.3 54.78,152.1 54.82,147.3 54.86,150.1 54.90,154.8 54.94,149.0 54.99,150.0 55.03,150.0 55.07,152.4 55.11,151.3 55.15,150.8 55.19,148.5 55.24,152.7 55.28,151.5 55.32,150.2 55.36,151.6 55.40,153.1 55.44,148.7 55.49,148.6 55.53,149.6 55.57,149.9 55.61,146.2 55.65,150.5 55.69,153.8 55.74,151.0 55.78,153.7 55.82,146.3 55.86,151.5 55.90,154.4 55.94,154.8 55.99,150.8 56.03,150.2 56.07,152.5 56.11,149.4 56.15,151.1 56.19,148.6 56.24,152.0 56.28,151.9 56.32,155.0 56.36,152.6 56.40,150.6 56.44,151.7 56.49,149.4 56.53,152.0 56.57,151.5 56.61,152.8 56.65,153.8 56.69,148.1 56.74,152.6 56.78,153.4 56.82,149.7 56.86,155.7 56.90,150.6 56.94,156.8 56.99,153.6 57.03,153.9 57.07,152.6 57.11,154.0 57.15,150.1 57.19,150.5 57.24,148.3 57.28,153.2 57.32,150.8 57.36,153.6 57.40,153.3 57.44,149.6 57.49,153.5 57.53,152.7 57.57,152.6 57.61,153.1 57.65,152.2 57.69,152.3 57.74,154.3 57.78,150.3 57.82,149.9 57.86,150.8 57.90,154.3 57.94,151.7 57.99,156.0 58.03,146.9 58.07,150.9 58.11,151.5 58.15,152.9 58.19,155.0 58.24,152.0 58.28,150.4 58.32,154.0 58.36,155.4 58.40,147.5 58.44,153.6 58.49,153.0 58.53,150.8 58.57,151.5 58.61,153.0 58.65,152.5 58.69,152.0 58.74,150.3 58.78,153.1 58.82,151.3 58.86,152.7 58.90,151.4 58.94,153.0 58.99,154.0 59.03,153.1 59.07,153.9 59.11,149.9 59.15,153.5 59.19,153.2 59.24,151.5 59.28,152.4 59.32,147.3 59.36,152.9 59.40,151.9 59.44,148.4 59.49,153.7 59.53,151.5 59.57,153.3 59.61,152.3 59.65,153.7 59.69,153.0 59.74,152.3 59.78,153.8 59.82,154.5 59.86,148.5 59.90,152.9 59.94,151.8 59.99,150.8 60.03,155.5 60.07,154.8 60.11,151.0 60.15,150.8 60.19,154.6 60.24,151.8 60.28,152.4 60.32,149.2 60.36,152.8 60.40,155.3 60.44,152.2 60.49,152.9 60.53,156.5 60.57,154.8 60.61,155.9 60.65,154.4 60.69,155.5 60.74,150.0 60.78,151.6 60.82,150.1 60.86,157.5 60.90,153.6 60.94,153.0 60.99,151.9 61.03,151.4 61.07,148.0 61.11,157.7 61.15,153.2 61.19,153.5 61.24,150.7 61.28,153.3 61.32,154.2 61.36,153.3 61.40,154.7 61.44,151.9 61.49,154.1 61.53,155.2 61.57,154.6 61.61,154.3 61.65,153.4 61.69,151.7 61.74,154.7 61.78,152.9 61.82,151.8 61.86,155.1 61.90,150.6 61.94,152.6 61.99,155.2 62.03,155.6 62.07,153.0 62.11,153.9 62.15,154.8 62.19,153.7 62.24,152.3 62.28,154.7 62.32,154.2 62.36,154.1 62.40,156.0 62.44,154.5 62.49,153.0 62.53,154.3 62.57,157.7 62.61,152.6 62.65,153.5 62.69,152.5 62.74,154.7 62.78,151.6 62.82,154.9 62.86,155.5 62.90,152.6 62.94,152.5 62.99,151.3 63.03,154.2 63.07,152.0 63.11,153.0 63.15,153.4 63.19,152.9 63.24,155.8 63.28,157.3 63.32,150.2 63.36,152.7 63.40,154.8 63.44,152.3 63.49,153.3 63.53,154.8 63.57,157.0 63.61,156.6 63.65,153.9 63.69,154.7 63.74,153.8 63.78,154.1 63.82,152.2 63.86,151.1 63.90,153.8 63.94,156.4 63.99,156.0 64.03,151.0 64.07,154.2 64.11,153.4 64.15,155.2 64.19,152.5 64.24,156.4 64.28,154.3 64.32,155.8 64.36,156.4 64.40,151.0 64.44,154.3 64.49,157.6 64.53,154.8 64.57,156.8 64.61,155.6 64.65,153.9 64.69,155.4 64.74,156.9 64.78,157.3 64.82,157.7 64.86,152.8 64.90,156.5 64.94,152.3 64.99,154.7 65.03,154.6 65.07,156.2 65.11,155.6 65.15,157.4 65.19,153.9 65.24,156.7 65.28,155.8 65.32,155.1 65.36,152.8 65.40,156.2 65.44,155.7 65.49,156.6 65.53,155.1 65.57,154.7 65.61,155.9 65.65,156.1 65.69,156.5 65.74,158.8 65.78,154.1 65.82,159.1 65.86,150.0 65.90,157.1 65.94,153.7 65.99,159.1 66.03,153.6 66.07,157.4 66.11,153.5 66.15,153.2 66.19,156.9 66.24,157.0 66.28,154.1 66.32,160.0 66.36,154.8 66.40,158.4 66.44,153.5 66.49,153.6 66.53,155.7 66.57,153.6 66.61,156.4 66.65,151.4 66.69,155.9 66.74,154.5 66.78,153.7 66.82,156.0 66.86,155.2 66.90,154.7 66.94,157.1 66.99,156.2 67.03,156.3 67.07,158.1 67.11,155.5 67.15,157.2 67.19,154.9 67.24,156.8 67.28,156.7 67.32,154.7 67.36,152.8 67.40,153.3 67.44,153.9 67.49,156.8 67.53,155.5 67.57,155.2 67.61,156.7 67.65,157.1 67.69,158.4 67.74,154.7 67.78,156.8 67.82,157.1 67.86,154.0 67.90,156.1 67.94,154.1 67.99,155.4 68.03,156.6 68.07,152.6 68.11,154.2 68.15,154.3 68.19,156.0 68.24,154.5 68.28,156.6 68.32,154.3 68.36,154.9 68.40,157.0 68.44,156.5 68.49,156.2 68.53,155.8 68.57,157.8 68.61,158.5 68.65,155.2 68.69,154.6 68.74,154.0 68.78,159.2 68.82,154.3 68.86,153.5 68.90,156.5 68.94,157.9 68.99,153.6 69.03,155.7 69.07,153.3 69.11,154.7 69.15,159.0 69.19,156.3 69.24,155.5 69.28,156.1 69.32,156.5 69.36,155.8 69.40,153.8 69.44,153.8 69.49,159.8 69.53,154.6 69.57,158.2 69.61,154.6 69.65,158.4 69.69,157.3 69.74,155.6 69.78,159.8 69.82,154.2 69.86,155.6 69.90,154.4 69.94,154.5 69.99,155.3 70.03,154.2 70.07,155.4 70.11,159.0 70.15,152.7 70.19,153.6 70.24,154.2 70.28,155.1 70.32,157.9 70.36,157.3 70.40,156.9 70.44,156.4 70.49,160.5 70.53,153.8 70.57,153.8 70.61,155.9 70.65,156.3 70.69,155.5 70.74,154.4 70.78,153.5 70.82,155.4 70.86,154.6 70.90,155.0 70.94,153.9 70.99,158.5 71.03,156.8 71.07,159.4 71.11,155.0 71.15,156.0 71.19,155.4 71.24,155.9 71.28,155.4 71.32,155.6 71.36,152.2 71.40,155.4 71.44,157.2 71.49,152.2 71.53,155.2 71.57,156.9 71.61,158.2 71.65,155.7 71.69,156.7 71.74,159.1 71.78,158.3 71.82,155.0 71.86,154.7 71.90,157.7 71.94,156.2 71.99,154.8 72.03,155.4 72.07,156.4 72.11,155.4 72.15,155.3 72.19,155.3 72.24,153.0 72.28,159.0 72.32,158.1 72.36,158.6 72.40,155.5 72.44,156.0 72.49,156.8 72.53,157.3 72.57,152.3 72.61,156.4 72.65,153.8 72.69,155.5 72.74,154.4 72.78,158.9 72.82,156.7 72.86,155.6 72.90,158.3 72.94,155.5 72.99,154.3 73.03,155.3 73.07,154.9 73.11,155.7 73.15,157.2 73.19,155.4 73.24,155.5 73.28,157.5 73.32,156.1 73.36,157.3 73.40,155.8 73.44,153.1 73.49,153.4 73.53,152.4 73.57,157.6 73.61,156.3 73.65,154.6 73.69,153.6 73.74,156.1 73.78,155.2 73.82,156.0 73.86,153.8 73.90,153.3 73.94,158.4 73.99,153.6 74.03,155.3 74.07,157.9 74.11,151.9 74.15,156.7 74.19,155.5 74.24,155.1 74.28,155.8 74.32,153.1 74.36,151.1 74.40,158.9 74.44,154.7 74.49,157.0 74.53,157.4 74.57,155.8 74.61,156.1 74.65,156.6 74.69,158.2 74.74,156.1 74.78,157.6 74.82,154.6 74.86,154.4 74.90,155.3 74.94,155.9 74.99,156.2 75.03,158.8 75.07,156.7 75.11,155.2 75.15,158.8 75.19,155.7 75.24,155.7 75.28,156.0 75.32,154.4 75.36,153.0 75.40,155.3 75.44,154.4 75.49,153.4 75.53,155.2 75.57,154.6 75.61,153.9 75.65,151.6 75.69,154.6 75.74,158.2 75.78,156.6 75.82,156.9 75.86,154.9 75.90,156.9 75.94,153.6 75.99,154.0 76.03,155.8 76.07,152.1 76.11,154.9 76.15,155.4 76.19,158.0 76.24,153.5 76.28,155.6 76.32,153.5 76.36,153.7 76.40,149.6 76.44,153.0 76.49,156.9 76.53,155.7 76.57,155.0 76.61,159.3 76.65,155.7 76.69,152.3 76.74,154.3 76.78,154.5 76.82,157.7 76.86,152.9 76.90,155.4 76.94,156.4 76.99,153.0 77.03,154.7 77.07,150.7 77.11,154.7 77.15,150.4 77.19,153.8 77.24,157.7 77.28,155.3 77.32,154.6 77.36,154.7 77.40,158.5 77.44,155.5 77.49,156.4 77.53,153.6 77.57,153.6 77.61,152.4 77.65,154.0 77.69,153.0 77.74,156.2 77.78,155.5 77.82,154.1 77.86,153.3 77.90,148.9 77.94,153.2 77.99,154.8 78.03,155.5 78.07,148.9 78.11,149.7 78.15,154.5 78.19,152.3 78.24,153.8 78.28,153.3 78.32,155.3 78.36,150.6 78.40,153.1 78.44,155.9 78.49,154.5 78.53,152.5 78.57,155.0 78.61,154.6 78.65,152.4 78.69,155.4 78.74,155.3 78.78,153.8 78.82,155.8 78.86,151.8 78.90,155.4 78.94,153.6 78.99,152.2 79.03,152.8 79.07,156.1 79.11,152.9 79.15,153.2 79.19,152.6 79.24,152.4 79.28,155.7 79.32,158.0 79.36,156.4 79.40,154.8 79.44,155.2 79.49,153.1 79.53,152.8 79.57,151.5 79.61,156.5 79.65,153.1 79.69,152.3 79.74,152.5 79.78,154.0 79.82,152.6 79.86,153.7 79.90,153.9 79.94,156.1 79.99,151.2 80.03,154.1 80.07,152.2 80.11,152.7 80.15,156.6 80.19,154.7 80.24,152.8 80.28,154.4 80.32,153.4 80.36,155.5 80.40,152.5 80.44,154.3 80.49,153.0 80.53,153.4 80.57,153.1 80.61,152.1 80.65,153.5 80.69,155.2 80.74,152.1 80.78,152.5 80.82,153.9 80.86,151.8 80.90,154.9 80.94,154.5 80.99,148.8 81.03,151.9 81.07,151.1 81.11,154.7 81.15,154.9 81.19,150.8 81.24,151.7 81.28,152.9 81.32,152.3 81.36,154.4 81.40,154.8 81.44,154.1 81.49,155.0 81.53,154.7 81.57,152.8 81.61,152.1 81.65,151.5 81.69,154.4 81.74,154.5 81.78,154.7 81.82,152.2 81.86,152.0 81.90,153.2 81.94,155.1 81.99,153.4 82.03,153.1 82.07,151.1 82.11,153.5 82.15,153.7 82.19,150.8 82.24,155.9 82.28,150.8 82.32,154.3 82.36,152.1 82.40,152.8 82.44,151.0 82.49,151.4 82.53,153.8 82.57,152.0 82.61,151.7 82.65,154.1 82.69,153.7 82.74,152.7 82.78,152.8 82.82,155.6 82.86,152.0 82.90,153.0 82.94,153.0 82.99,149.5 83.03,148.5 83.07,152.4 83.11,153.8 83.15,152.5 83.19,151.1 83.24,150.8 83.28,153.6 83.32,151.5 83.36,148.9 83.40,153.3 83.44,152.4 83.49,152.7 83.53,153.9 83.57,154.4 83.61,153.0 83.65,151.5 83.69,147.8 83.74,152.4 83.78,151.5 83.82,154.3 83.86,154.2 83.90,152.7 83.94,154.3 83.99,151.6 84.03,151.6 84.07,150.0 84.11,151.0 84.15,152.0 84.19,153.6 84.24,150.2 84.28,153.1 84.32,156.0 84.36,148.9 84.40,151.0 84.44,151.5 84.49,153.4 84.53,155.2 84.57,153.8 84.61,151.3 84.65,149.7 84.69,151.2 84.74,151.2 84.78,151.7 84.82,149.5 84.86,154.2 84.90,149.8 84.94,152.5 84.99,151.6 85.03,149.0 85.07,151.2 85.11,151.1 85.15,150.7 85.19,152.6 85.24,150.1 85.28,155.9 85.32,153.1 85.36,149.2 85.40,146.1 85.44,153.3 85.49,151.4 85.53,151.0 85.57,148.9 85.61,148.0 85.65,147.2 85.69,155.7 85.74,153.8 85.78,149.6 85.82,154.3 85.86,147.1 85.90,152.0 85.94,152.0 85.99,148.9 86.03,149.7 86.07,148.5 86.11,150.6 86.15,153.0 86.19,152.4 86.24,151.2 86.28,152.6 86.32,146.9 86.36,154.3 86.40,150.2 86.44,147.7 86.49,149.5 86.53,149.0 86.57,150.4 86.61,150.8 86.65,145.6 86.69,152.6 86.74,153.5 86.78,148.1 86.82,152.9 86.86,152.5 86.90,152.0 86.94,153.2 86.99,147.2 87.03,151.3 87.07,147.9 87.11,154.5 87.15,147.9 87.19,147.4 87.24,152.0 87.28,151.0 87.32,149.8 87.36,150.0 87.40,150.9 87.44,153.0 87.49,148.2 87.53,148.5 87.57,148.4 87.61,149.4 87.65,149.5 87.69,146.9 87.74,150.0 87.78,146.9 87.82,148.8 87.86,148.9 87.90,148.9 87.94,152.2 87.99,152.5 88.03,151.4 88.07,152.3 88.11,148.6 88.15,151.9 88.19,149.0 88.24,149.6 88.28,149.6 88.32,146.4 88.36,147.8 88.40,148.7 88.44,149.7 88.49,148.7 88.53,147.2 88.57,146.6 88.61,148.9 88.65,146.5 88.69,146.5 88.74,148.5 88.78,149.1 88.82,147.1 88.86,145.1 88.90,149.2 88.94,150.2 88.99,147.8 89.03,147.8 89.07,143.9 89.11,150.3 89.15,146.3 89.19,149.9 89.24,147.2 89.28,148.1 89.32,148.0 89.36,144.7 89.40,153.7 89.44,145.1 89.49,148.4 89.53,146.6 89.57,147.7 89.61,150.9 89.65,144.4 89.69,147.8 89.74,149.0 89.78,148.2 89.82,148.8 89.86,146.4 89.90,144.6 89.94,145.3 89.99,147.0 90.03,149.3 90.07,147.9 90.11,151.0 90.15,147.9 90.19,148.1 90.24,148.1 90.28,144.2 90.32,148.8 90.36,145.4 90.40,146.8 90.44,152.2 90.49,145.0 90.53,147.7 90.57,148.0 90.61,147.6 90.65,147.4 90.69,146.2 90.74,151.3 90.78,143.3 90.82,145.2 90.86,150.2 90.90,148.3 90.94,145.6 90.99,145.3 91.03,146.6 91.07,152.3 91.11,148.0 91.15,144.9 91.19,147.4 91.24,145.7 91.28,149.9 91.32,147.4 91.36,149.4 91.40,147.1 91.44,150.9 91.49,147.6 91.53,147.3 91.57,144.6 91.61,145.8 91.65,147.4 91.69,145.6 91.74,151.5 91.78,146.5 91.82,145.0 91.86,148.4 91.90,145.4 91.94,147.2 91.99,146.2 92.03,144.9 92.07,149.1 92.11,146.4 92.15,148.4 92.19,145.5 92.24,143.3 92.28,143.6 92.32,145.1 92.36,145.7 92.40,146.2 92.44,147.0 92.49,143.5 92.53,146.4 92.57,143.5 92.61,144.5 92.65,151.0 92.69,148.4 92.74,145.1 92.78,149.4 92.82,148.6 92.86,147.5 92.90,148.6 92.94,145.1 92.99,145.3 93.03,143.8 93.07,146.7 93.11,143.0 93.15,144.5 93.19,146.4 93.24,144.4 93.28,146.1 93.32,149.0 93.36,143.3 93.40,148.1 93.44,143.9 93.49,143.3 93.53,145.6 93.57,147.2 93.61,143.7 93.65,143.6 93.69,144.2 93.74,143.6 93.78,145.4 93.82,143.5 93.86,144.4 93.90,145.6 93.94,144.0 93.99,147.2 94.03,143.4 94.07,143.2 94.11,148.9 94.15,147.8 94.19,144.8 94.24,146.3 94.28,145.3 94.32,143.6 94.36,145.9 94.40,145.2 94.44,147.1 94.49,140.7 94.53,146.1 94.57,144.8 94.61,143.0 94.65,143.5 94.69,143.5 94.74,141.6 94.78,143.1 94.82,145.8 94.86,141.1 94.90,143.4 94.94,139.3 94.99,142.9 95.03,144.9 95.07,143.9 95.11,144.1 95.15,141.7 95.19,145.1 95.24,142.1 95.28,145.7 95.32,144.3 95.36,143.0 95.40,146.8 95.44,143.0 95.49,145.8 95.53,143.9 95.57,143.7 95.61,145.7 95.65,144.5 95.69,143.6 95.74,143.3 95.78,144.0 95.82,143.7 95.86,142.8 95.90,141.3 95.94,138.1 95.99,143.2 96.03,142.9 96.07,145.8 96.11,144.2 96.15,145.6 96.19,146.8 96.24,143.0 96.28,141.5 96.32,144.8 96.36,141.9 96.40,142.6 96.44,146.0 96.49,144.2 96.53,145.3 96.57,140.2 96.61,143.0 96.65,145.2 96.69,140.3 96.74,143.3 96.78,143.7 96.82,138.1 96.86,146.0 96.90,141.3 96.94,142.4 96.99,146.1 97.03,139.0 97.07,143.6 97.11,141.7 97.15,142.7 97.19,140.9 97.24,145.3 97.28,140.2 97.32,143.2 97.36,143.5 97.40,142.2 97.44,141.8 97.49,141.8 97.53,144.4 97.57,143.2 97.61,142.1 97.65,140.0 97.69,142.5 97.74,143.3 97.78,142.1 97.82,145.1 97.86,138.2 97.90,147.2 97.94,141.7 97.99,139.7 98.03,138.4 98.07,143.8 98.11,143.1 98.15,141.5 98.19,141.8 98.24,142.2 98.28,141.0 98.32,144.2 98.36,143.1 98.40,141.5 98.44,138.3 98.49,144.5 98.53,140.7 98.57,139.5 98.61,144.3 98.65,142.6 98.69,137.4 98.74,138.1 98.78,140.7 98.82,138.9 98.86,141.2 98.90,146.9 98.94,147.2 98.99,141.3 99.03,143.0 99.07,143.2 99.11,141.1 99.15,138.2 99.19,143.5 99.24,140.9 99.28,142.2 99.32,142.7 99.36,139.5 99.40,144.7 99.44,141.3 99.49,141.6 99.53,140.2 99.57,142.5 99.61,143.1 99.65,139.9 99.69,142.2 99.74,140.1 99.78,138.4 99.82,140.2 99.86,142.1 99.90,142.0 99.94,143.1 99.99,139.4 100.03,140.2 100.07,140.9 100.11,142.0 100.15,140.5 100.19,138.7 100.24,137.4 100.28,143.1 100.32,142.8 100.36,139.2 100.40,143.6 100.44,140.4 100.49,141.4 100.53,143.1 100.57,139.4 100.61,138.8 100.65,136.8 100.69,141.0 100.74,141.3 100.78,142.1 100.82,141.6 100.86,140.5 100.90,142.6 100.94,138.1 100.99,141.0 101.03,141.2 101.07,139.9 101.11,143.7 101.15,141.0 101.19,142.9 101.24,141.9 101.28,139.6 101.32,144.0 101.36,142.3 101.40,140.0 101.44,139.6 101.49,137.7 101.53,139.5 101.57,139.3 101.61,140.2 101.65,138.9 101.69,140.9 101.74,139.5 101.78,136.4 101.82,138.6 101.86,137.7 101.90,136.9 101.94,139.0 101.99,141.5 102.03,137.2 102.07,135.3 102.11,139.1 102.15,145.3 102.19,138.2 102.24,140.0 102.28,138.5 102.32,141.1 102.36,142.3 102.40,138.9 102.44,141.7 102.49,136.9 102.53,139.6 102.57,136.5 102.61,139.5 102.65,137.8 102.69,139.6 102.74,136.7 102.78,139.5 102.82,139.3 102.86,137.8 102.90,137.3 102.94,136.4 102.99,138.1 103.03,139.7 103.07,138.6 103.11,139.2 103.15,141.5 103.19,138.1 103.24,139.4 103.28,140.5 103.32,139.8 103.36,139.5 103.40,138.8 103.44,142.7 103.49,138.4 103.53,137.7 103.57,139.8 103.61,142.0 103.65,141.5 103.69,138.5 103.74,140.2 103.78,139.5 103.82,138.5 103.86,139.7 103.90,139.6 103.94,138.6 103.99,141.9 104.03,137.5 104.07,141.2 104.11,142.6 104.15,142.6 104.19,138.7 104.24,137.7 104.28,134.7 104.32,137.9 104.36,143.2 104.40,134.7 104.44,134.7 104.49,139.7 104.53,139.2 104.57,134.0 104.61,137.8 104.65,138.6 104.69,134.6 104.74,139.8 104.78,135.0 104.82,140.2 104.86,138.2 104.90,136.2 104.94,134.3 104.99,136.9 105.03,137.4 105.07,137.3 105.11,136.3 105.15,137.1 105.19,139.4 105.24,135.6 105.28,137.0 105.32,138.4 105.36,137.4 105.40,139.2 105.44,140.7 105.49,136.6 105.53,137.8 105.57,131.3 105.61,136.5 105.65,138.7 105.69,134.8 105.74,140.0 105.78,133.2 105.82,140.0 105.86,136.0 105.90,134.9 105.94,136.0 105.99,136.5 106.03,134.9 106.07,134.1 106.11,135.9 106.15,139.0 106.19,137.8 106.24,139.8 106.28,135.6 106.32,136.1 106.36,136.1 106.40,137.1 106.44,137.8 106.49,140.5 106.53,138.3 106.57,137.1 106.61,139.6 106.65,135.0 106.69,133.9 106.74,138.1 106.78,137.0 106.82,136.8 106.86,138.6 106.90,135.8 106.94,136.3 106.99,137.3 107.03,137.9 107.07,138.6 107.11,136.7 107.15,137.0 107.19,131.2 107.24,139.0 107.28,133.0 107.32,136.2 107.36,141.7 107.40,135.6 107.44,132.9 107.49,139.7 107.53,135.0 107.57,135.9 107.61,135.8 107.65,137.7 107.69,137.8 107.74,135.9 107.78,138.5 107.82,134.2 107.86,137.5 107.90,134.7 107.94,137.5 107.99,134.6 108.03,135.1 108.07,139.1 108.11,133.6 108.15,133.4 108.19,137.1 108.24,135.3 108.28,135.0 108.32,135.6 108.36,140.4 108.40,133.6 108.44,135.2 108.49,136.1 108.53,133.8 108.57,135.7 108.61,136.8 108.65,133.8 108.69,138.1 108.74,133.2 108.78,135.4 108.82,136.4 108.86,141.6 108.90,131.9 108.94,136.2 108.99,141.0 109.03,134.3 109.07,137.9 109.11,136.0 109.15,132.5 109.19,136.4 109.24,133.6 109.28,135.7 109.32,132.3 109.36,137.0 109.40,130.3 109.44,135.1 109.49,138.2 109.53,136.5 109.57,134.6 109.61,134.9 109.65,134.5 109.69,141.2 109.74,135.2 109.78,135.3 109.82,133.7 109.86,134.3 109.90,136.6 109.94,134.0 109.99,133.5 110.03,134.1 110.07,134.5 110.11,135.6 110.15,134.2 110.19,134.8 110.24,133.6 110.28,137.8 110.32,135.4 110.36,134.5 110.40,135.8 110.44,135.0 110.49,131.8 110.53,134.7 110.57,138.7 110.61,136.2 110.65,137.6 110.69,133.7 110.74,131.9 110.78,133.6 110.82,138.0 110.86,132.9 110.90,133.3 110.94,137.4 110.99,134.5 111.03,134.6 111.07,135.8 111.11,135.2 111.15,134.4 111.19,135.5 111.24,133.5 111.28,134.9 111.32,136.4 111.36,132.7 111.40,134.5 111.44,132.5 111.49,136.6 111.53,136.3 111.57,137.0 111.61,137.2 111.65,137.1 111.69,136.5 111.74,133.3 111.78,136.9 111.82,133.0 111.86,139.9 111.90,135.5 111.94,136.2 111.99,132.2 112.03,137.2 112.07,137.4 112.11,131.5 112.15,133.7 112.19,133.8 112.24,133.5 112.28,137.8 112.32,139.5 112.36,132.5 112.40,137.1 112.44,134.3 112.49,137.8 112.53,129.5 112.57,133.9 112.61,137.4 112.65,133.2 112.69,137.3 112.74,133.7 112.78,137.2 112.82,136.0 112.86,133.9 112.90,133.1 112.94,134.4 112.99,137.2 113.03,134.7 113.07,133.3 113.11,140.8 113.15,131.3 113.19,134.2 113.24,135.9 113.28,132.5 113.32,134.7 113.36,133.8 113.40,131.5 113.44,135.7 113.49,132.2 113.53,133.1 113.57,137.3 113.61,132.3 113.65,136.0 113.69,137.2 113.74,136.8 113.78,135.7 113.82,134.2 113.86,131.6 113.90,135.0 113.94,135.6 113.99,133.5 114.03,132.5 114.07,136.5 114.11,132.3 114.15,135.6 114.19,133.6 114.24,130.9 114.28,138.0 114.32,135.8 114.36,135.5 114.40,131.2 114.44,133.8 114.49,134.4 114.53,131.9 114.57,136.6 114.61,128.1 114.65,133.2 114.69,126.8 114.74,126.4 114.78,125.8 114.82,128.5 114.86,124.3 114.90,122.9 114.94,120.8 114.99,118.2 115.03,118.1 115.07,116.8 115.11,117.4 115.15,116.8 115.19,112.4 115.24,116.4 115.28,121.0 115.32,118.2 115.36,120.3 115.40,120.2 115.44,121.8 115.49,124.6 115.53,123.4 115.57,127.4 115.61,125.5 115.65,131.0 115.69,127.9 115.74,133.5 115.78,135.0 115.82,129.9 115.86,135.3 115.90,133.4 115.94,137.0 115.99,133.6 116.03,134.3 116.07,134.5 116.11,137.9 116.15,131.2 116.19,137.1 116.24,135.7 116.28,134.6 116.32,135.2 116.36,137.8 116.40,137.7 116.44,139.6 116.49,134.7 116.53,132.1 116.57,135.1 116.61,135.9 116.65,135.5 116.69,139.1 116.74,141.5 116.78,137.5 116.82,133.0 116.86,139.1 116.90,135.6 116.94,137.2 116.99,138.9 117.03,138.0 117.07,137.2 117.11,138.0 117.15,139.1 117.19,138.9 117.24,142.0 117.28,132.0 117.32,136.1 117.36,136.6 117.40,139.6 117.44,138.4 117.49,139.8 117.53,135.0 117.57,137.6 117.61,139.4 117.65,138.0 117.69,137.3 117.74,138.8 117.78,141.7 117.82,133.8 117.86,141.6 117.90,138.9 117.94,136.6 117.99,139.8 118.03,138.5 118.07,141.0 118.11,136.8 118.15,140.6 118.19,136.7 118.24,139.3 118.28,140.1 118.32,138.5 118.36,140.0 118.40,137.5 118.44,141.0 118.49,137.7 118.53,137.3 118.57,138.6 118.61,138.8 118.65,137.1 118.69,140.6 118.74,138.7 118.78,140.3 118.82,135.9 118.86,136.3 118.90,138.5 118.94,137.0 118.99,138.9 119.03,140.3 119.07,141.5 119.11,142.3 119.15,140.9 119.19,137.8 119.24,140.5 119.28,138.2 119.32,140.5 119.36,137.2 119.40,142.2 119.44,140.3 119.49,138.9 119.53,136.7 119.57,140.1 119.61,138.4 119.65,140.1 119.69,138.1 119.74,138.5 119.78,140.9 119.82,142.8 119.86,137.1 119.90,139.3 119.94,140.6 119.99,139.5 120.03,138.9 120.07,144.3 120.11,138.1 120.15,140.6 120.19,138.9 120.24,139.7 120.28,135.2 120.32,141.8 120.36,139.6 120.40,138.0 120.44,143.5 120.49,139.5 120.53,138.8 120.57,138.3 120.61,142.4 120.65,140.2 120.69,139.5 120.74,137.4 120.78,138.3 120.82,141.0 120.86,140.2 120.90,136.1 120.94,138.5 120.99,140.8 121.03,145.9 121.07,138.8 121.11,135.8 121.15,142.0 121.19,139.4 121.24,137.7 121.28,141.6 121.32,140.0 121.36,138.5 121.40,137.8 121.44,140.3 121.49,140.8 121.53,136.9 121.57,142.7 121.61,138.0 121.65,143.6 121.69,141.4 121.74,140.3 121.78,141.4 121.82,139.5 121.86,140.6 121.90,144.2 121.94,139.6 121.99,142.5 122.03,139.0 122.07,140.8 122.11,142.9 122.15,138.4 122.19,141.6 122.24,136.5 122.28,138.6 122.32,140.1 122.36,142.8 122.40,142.5 122.44,139.1 122.49,140.7 122.53,141.4 122.57,137.8 122.61,141.9 122.65,143.9 122.69,143.7 122.74,139.9 122.78,140.3 122.82,139.2 122.86,140.1 122.90,140.7 122.94,142.6 122.99,141.4 123.03,139.3 123.07,143.0 123.11,143.1 123.15,140.0 123.19,140.8 123.24,141.1 123.28,137.9 123.32,141.6 123.36,142.8 123.40,145.4 123.44,141.8 123.49,140.8 123.53,141.1 123.57,142.7 123.61,143.1 123.65,139.7 123.69,141.9 123.74,142.9 123.78,137.4 123.82,144.4 123.86,141.1 123.90,143.4 123.94,141.5 123.99,141.1 124.03,141.5 124.07,142.2 124.11,143.5 124.15,141.1 124.19,139.4 124.24,140.3 124.28,139.7 124.32,143.3 124.36,139.8 124.40,144.9 124.44,142.1 124.49,141.6 124.53,144.5 124.57,141.1 124.61,141.3 124.65,143.5 124.69,143.4 124.74,139.9 124.78,147.0 124.82,143.1 124.86,139.4 124.90,141.6 124.94,143.9 124.99,142.5 125.03,143.8 125.07,146.9 125.11,144.0 125.15,146.2 125.19,143.5 125.24,140.7 125.28,145.2 125.32,140.7 125.36,144.1 125.40,143.5 125.44,140.5 125.49,140.8 125.53,141.9 125.57,143.1 125.61,145.0 125.65,142.4 125.69,146.2 125.74,144.1 125.78,141.0 125.82,141.1 125.86,142.6 125.90,141.3 125.94,142.2 125.99,144.0 126.03,143.0 126.07,144.5 126.11,141.1 126.15,140.8 126.19,139.7 126.24,138.9 126.28,141.7 126.32,142.7 126.36,142.2 126.40,142.6 126.44,146.8 126.49,140.4 126.53,142.1 126.57,141.7 126.61,140.9 126.65,145.5 126.69,142.7 126.74,145.3 126.78,140.5 126.82,146.7 126.86,147.5 126.90,141.1 126.94,142.8 126.99,142.6 127.03,144.0 127.07,140.3 127.11,143.9 127.15,144.4 127.19,141.7 127.24,138.4 127.28,141.6 127.32,142.2 127.36,144.6 127.40,141.8 127.44,140.7 127.49,144.4 127.53,143.9 127.57,144.6 127.61,143.3 127.65,145.3 127.69,144.2 127.74,139.6 127.78,143.6 127.82,144.8 127.86,143.3 127.90,146.3 127.94,142.4 127.99,144.8 128.03,140.8 128.07,143.4 128.11,142.3 128.15,141.4 128.19,140.8 128.24,143.9 128.28,144.3 128.32,142.2 128.36,141.0 128.40,141.7 128.44,145.1 128.49,141.1 128.53,145.9 128.57,140.2 128.61,144.2 128.65,145.0 128.69,146.2 128.74,142.8 128.78,142.1 128.82,140.8 128.86,145.6 128.90,143.5 128.94,142.9 128.99,143.0 129.03,144.3 129.07,143.9 129.11,146.3 129.15,139.5 129.19,145.6 129.24,142.9 129.28,143.8 129.32,143.3 129.36,143.8 129.40,145.6 129.44,144.5 129.49,141.1 129.53,144.0 129.57,143.9 129.61,144.9 129.65,144.2 129.69,144.0 129.74,146.3 129.78,142.0 129.82,148.7 129.86,143.1 129.90,142.2 129.94,145.9 129.99,146.5 130.03,146.9 130.07,147.4 130.11,145.4 130.15,144.6 130.19,145.2 130.24,144.5 130.28,143.4 130.32,147.8 130.36,148.2 130.40,144.6 130.44,144.1 130.49,143.6 130.53,141.2 130.57,143.3 130.61,143.6 130.65,144.7 130.69,142.7 130.74,140.9 130.78,146.1 130.82,148.3 130.86,140.5 130.90,144.6 130.94,146.6 130.99,142.5 131.03,142.0 131.07,145.0 131.11,144.5 131.15,143.7 131.19,148.3 131.24,148.1 131.28,146.4 131.32,144.9 131.36,144.5 131.40,146.9 131.44,144.7 131.49,148.2 131.53,147.7 131.57,144.0 131.61,146.8 131.65,148.5 131.69,146.6 131.74,143.4 131.78,144.8 131.82,144.7 131.86,145.7 131.90,145.5 131.94,144.8 131.99,147.2 132.03,148.3 132.07,144.4 132.11,142.6 132.15,146.4 132.19,145.6 132.24,146.5 132.28,144.3 132.32,146.3 132.36,143.9 132.40,148.0 132.44,149.2 132.49,143.9 132.53,140.6 132.57,144.9 132.61,144.8 132.65,146.3 132.69,146.0 132.74,147.0 132.78,151.5 132.82,144.9 132.86,145.3 132.90,146.9 132.94,142.4 132.99,147.7 133.03,144.9 133.07,143.3 133.11,144.5 133.15,147.2 133.19,147.9 133.24,148.8 133.28,147.2 133.32,144.9 133.36,147.5 133.40,146.2 133.44,151.1 133.49,142.3 133.53,149.7 133.57,148.0 133.61,147.3 133.65,146.3 133.69,145.4 133.74,144.6 133.78,143.5 133.82,150.7 133.86,148.5 133.90,148.0 133.94,147.4 133.99,142.9 134.03,146.2 134.07,147.0 134.11,149.1 134.15,144.8 134.19,147.4 134.24,146.4 134.28,147.0 134.32,145.4 134.36,147.7 134.40,147.1 134.44,143.3 134.49,149.5 134.53,151.5 134.57,145.3 134.61,149.4 134.65,145.2 134.69,146.1 134.74,150.7 134.78,147.6 134.82,150.3 134.86,147.8 134.90,149.3 134.94,147.0 134.99,150.2 135.03,150.9 135.07,148.7 135.11,146.3 135.15,146.7 135.19,145.6 135.24,148.7 135.28,148.6 135.32,146.1 135.36,149.4 135.40,146.4 135.44,151.2 135.49,149.3 135.53,150.8 135.57,146.3 135.61,145.7 135.65,144.1 135.69,149.1 135.74,145.5 135.78,150.5 135.82,148.1 135.86,149.4 135.90,145.3 135.94,146.7 135.99,148.3 136.03,149.4 136.07,145.4 136.11,148.7 136.15,146.4 136.19,149.7 136.24,147.6 136.28,147.5 136.32,149.0 136.36,150.5 136.40,147.7 136.44,150.6 136.49,146.2 136.53,148.8 136.57,146.1 136.61,148.7 136.65,146.5 136.69,148.4 136.74,149.6 136.78,146.5 136.82,144.9 136.86,148.1 136.90,149.5 136.94,148.9 136.99,146.7 137.03,150.2 137.07,148.0 137.11,150.1 137.15,146.8 137.19,149.5 137.24,151.0 137.28,147.4 137.32,148.1 137.36,149.9 137.40,149.8 137.44,149.5 137.49,148.5 137.53,145.7 137.57,148.8 137.61,146.3 137.65,149.0 137.69,144.3 137.74,151.7 137.78,152.7 137.82,149.8 137.86,147.3 137.90,148.4 137.94,150.8 137.99,150.3 138.03,147.7 138.07,151.4 138.11,150.5 138.15,150.2 138.19,148.5 138.24,149.2 138.28,147.8 138.32,149.6 138.36,147.9 138.40,151.6 138.44,149.4 138.49,149.7 138.53,150.0 138.57,150.0 138.61,146.6 138.65,151.9 138.69,149.6 138.74,148.4 138.78,147.6 138.82,148.2 138.86,148.3 138.90,149.6 138.94,147.9 138.99,149.8 139.03,149.9 139.07,148.3 139.11,154.0 139.15,149.4 139.19,150.4 139.24,149.9 139.28,149.4 139.32,151.1 139.36,152.5 139.40,149.7 139.44,148.1 139.49,150.9 139.53,145.7 139.57,150.2 139.61,149.5 139.65,150.6 139.69,147.0 139.74,149.1 139.78,148.0 139.82,149.0 139.86,151.2 139.90,149.7 139.94,148.9 139.99,152.4 140.03,150.1 140.07,146.2 140.11,148.1 140.15,151.0 140.19,151.0 140.24,150.6 140.28,150.7 140.32,148.5 140.36,150.1 140.40,148.0 140.44,148.7 140.49,148.5 140.53,148.7 140.57,149.7 140.61,149.9 140.65,148.8 140.69,152.5 140.74,149.5 140.78,153.4 140.82,152.4 140.86,148.1 140.90,152.2 140.94,147.8 140.99,153.3 141.03,151.2 141.07,148.7 141.11,146.4 141.15,149.8 141.19,148.0 141.24,152.8 141.28,148.3 141.32,150.2 141.36,151.6 141.40,150.7 141.44,151.2 141.49,150.3 141.53,152.2 141.57,149.0 141.61,151.9 141.65,148.5 141.69,151.2 141.74,148.7 141.78,150.5 141.82,152.0 141.86,153.3 141.90,147.5 141.94,149.5 141.99,149.1 142.03,153.4 142.07,149.4 142.11,152.4 142.15,150.1 142.19,148.3 142.24,151.3 142.28,149.0 142.32,152.6 142.36,152.8 142.40,153.8 142.44,149.3 142.49,154.3 142.53,153.1 142.57,147.9 142.61,155.6 142.65,154.6 142.69,149.4 142.74,152.0 142.78,148.8 142.82,151.2 142.86,151.8 142.90,152.7 142.94,149.9 142.99,151.5 143.03,149.8 143.07,152.3 143.11,152.9 143.15,151.8 143.19,153.9 143.24,153.1 143.28,152.4 143.32,154.0 143.36,149.4 143.40,151.7 143.44,148.4 143.49,151.8 143.53,150.9 143.57,153.5 143.61,151.1 143.65,150.7 143.69,151.8 143.74,151.7 143.78,153.0 143.82,150.3 143.86,149.2 143.90,149.0 143.94,154.3 143.99,149.7 144.03,151.3 144.07,150.1 144.11,153.9 144.15,151.1 144.19,154.6 144.24,150.9 144.28,152.9 144.32,153.8 144.36,154.2 144.40,150.1 144.44,151.7 144.49,152.3 144.53,148.9 144.57,153.8 144.61,153.2 144.65,153.5 144.69,149.9 144.74,152.9 144.78,153.4 144.82,154.6 144.86,151.7 144.90,154.0 144.94,156.5 144.99,151.9 145.03,152.0 145.07,152.2 145.11,150.0 145.15,152.1 145.19,156.0 145.24,151.1 145.28,152.5 145.32,155.2 145.36,154.0 145.40,153.4 145.44,152.4 145.49,152.8 145.53,153.1 145.57,154.4 145.61,153.3 145.65,154.9 145.69,149.6 145.74,154.8 145.78,152.2 145.82,153.3 145.86,152.5 145.90,154.5 145.94,153.1 145.99,154.5 146.03,151.8 146.07,153.8 146.11,155.8 146.15,155.6 146.19,152.8 146.24,153.8 146.28,152.8 146.32,153.3 146.36,153.6 146.40,155.9 146.44,154.7 146.49,156.4 146.53,156.6 146.57,151.3 146.61,154.3 146.65,152.9 146.69,150.7 146.74,151.8 146.78,152.9 146.82,157.0 146.86,154.0 146.90,153.6 146.94,153.9 146.99,152.5 147.03,154.3 147.07,153.8 147.11,151.0 147.15,153.1 147.19,159.4 147.24,155.3 147.28,153.9 147.32,155.4 147.36,152.4 147.40,154.4 147.44,155.9 147.49,151.2 147.53,152.9 147.57,153.6 147.61,153.8 147.65,153.4 147.69,154.9 147.74,156.3 147.78,155.1 147.82,156.4 147.86,156.4 147.90,153.4 147.94,155.0 147.99,153.9 148.03,155.8 148.07,154.0 148.11,154.3 148.15,157.8 148.19,154.3 148.24,151.8 148.28,155.0 148.32,155.3 148.36,153.8 148.40,154.9 148.44,156.7 148.49,153.9 148.53,154.5 148.57,153.6 148.61,155.5 148.65,154.7 148.69,153.3 148.74,154.7 148.78,158.4 148.82,151.9 148.86,152.5 148.90,155.7 148.94,152.5 148.99,158.8 149.03,152.4 149.07,152.8 149.11,154.3 149.15,157.2 149.19,156.8 149.24,156.3 149.28,155.9 149.32,157.7 149.36,152.0 149.40,155.9 149.44,158.1 149.49,153.4 149.53,156.0 149.57,157.7 149.61,157.8 149.65,155.3 149.69,159.0 149.74,156.5 149.78,157.6 149.82,153.6 149.86,154.2 149.90,154.2 149.94,158.9 149.99,151.4 150.03,152.3 150.07,157.2 150.11,156.0 150.15,150.4 150.19,155.1 150.24,155.3 150.28,158.1 150.32,152.3 150.36,154.9 150.40,157.9 150.44,157.3 150.49,154.3 150.53,155.5 150.57,153.3 150.61,158.5 150.65,155.3 150.69,158.4 150.74,157.6 150.78,154.5 150.82,155.9 150.86,157.3 150.90,157.0 150.94,159.0 150.99,158.3 151.03,156.8 151.07,157.5 151.11,155.0 151.15,155.2 151.19,157.4 151.24,157.0 151.28,154.3 151.32,156.2 151.36,154.9 151.40,155.4 151.44,158.8 151.49,154.7 151.53,155.3 151.57,157.6 151.61,156.7 151.65,156.9 151.69,153.9 151.74,156.5 151.78,155.9 151.82,155.2 151.86,155.6 151.90,156.1 151.94,158.2 151.99,160.1 152.03,156.9 152.07,159.5 152.11,157.0 152.15,154.1 152.19,156.9 152.24,159.2 152.28,159.4 152.32,155.3 152.36,161.0 152.40,155.6 152.44,155.6 152.49,156.0 152.53,159.6 152.57,157.7 152.61,158.7 152.65,153.0 152.69,156.9 152.74,156.8 152.78,158.3 152.82,156.2 152.86,159.3 152.90,155.9 152.94,154.6 152.99,154.2 153.03,159.5 153.07,158.6 153.11,155.8 153.15,159.2 153.19,156.9 153.24,157.0 153.28,154.6 153.32,156.3 153.36,157.5 153.40,157.7 153.44,156.3 153.49,159.2 153.53,160.0 153.57,155.9 153.61,158.1 153.65,154.6 153.69,158.2 153.74,155.7 153.78,157.2 153.82,157.8 153.86,157.0 153.90,159.4 153.94,156.1 153.99,156.7 154.03,158.1 154.07,157.5 154.11,158.0 154.15,157.2 154.19,156.1 154.24,158.8 154.28,157.8 154.32,159.3 154.36,160.1 154.40,157.0 154.44,156.3 154.49,156.9 154.53,156.5 154.57,154.1 154.61,160.7 154.65,158.5 154.69,162.0 154.74,156.8 154.78,158.9 154.82,158.3 154.86,157.7 154.90,159.6 154.94,157.8 154.99,157.7 155.03,158.1 155.07,153.8 155.11,156.6 155.15,156.6 155.19,160.9 155.24,159.0 155.28,159.3 155.32,159.1 155.36,157.6 155.40,160.9 155.44,157.6 155.49,155.4 155.53,159.1 155.57,160.1 155.61,158.2 155.65,158.7 155.69,159.8 155.74,160.8 155.78,159.1 155.82,161.1 155.86,158.6 155.90,161.9 155.94,155.6 155.99,159.8 156.03,158.7 156.07,158.4 156.11,155.9 156.15,160.1 156.19,157.8 156.24,156.4 156.28,157.1 156.32,157.8 156.36,158.4 156.40,156.6 156.44,156.6 156.49,159.0 156.53,158.2 156.57,161.8 156.61,157.5 156.65,159.7 156.69,161.5 156.74,158.0 156.78,160.1 156.82,158.9 156.86,158.5 156.90,161.3 156.94,156.6 156.99,157.3 157.03,155.2 157.07,158.2 157.11,160.2 157.15,158.0 157.19,159.9 157.24,157.1 157.28,160.5 157.32,158.3 157.36,157.6 157.40,161.5 157.44,158.5 157.49,159.6 157.53,158.8 157.57,159.8 157.61,158.8 157.65,156.4 157.69,159.1 157.74,159.5 157.78,159.3 157.82,158.2 157.86,161.9 157.90,157.3 157.94,158.9 157.99,159.0 158.03,156.7 158.07,156.5 158.11,159.9 158.15,159.9 158.19,159.0 158.24,155.8 158.28,158.2 158.32,159.2 158.36,159.9 158.40,160.9 158.44,159.6 158.49,160.5 158.53,161.8 158.57,154.6 158.61,160.6 158.65,158.0 158.69,159.7 158.74,159.2 158.78,157.0 158.82,157.2 158.86,159.6 158.90,158.6 158.94,160.2 158.99,158.2 159.03,162.7 159.07,158.5 159.11,162.6 159.15,157.6 159.19,159.9 159.24,161.0 159.28,156.6 159.32,157.2 159.36,159.7 159.40,161.0 159.44,161.4 159.49,160.0 159.53,160.9 159.57,156.9 159.61,158.3 159.65,161.6 159.69,158.1 159.74,158.6 159.78,156.0 159.82,158.7 159.86,156.3 159.90,159.7 159.94,161.7 159.99,159.7 160.03,159.4 160.07,158.4 160.11,160.1 160.15,157.2 160.19,158.3 160.24,163.0 160.28,156.8 160.32,158.2 160.36,156.7 160.40,161.4 160.44,158.8 160.49,156.9 160.53,157.0 160.57,161.2 160.61,160.4 160.65,160.7 160.69,159.1 160.74,160.9 160.78,161.6 160.82,160.5 160.86,156.4 160.90,155.8 160.94,156.7 160.99,159.8 161.03,156.6 161.07,157.4 161.11,159.4 161.15,157.8 161.19,157.1 161.24,161.0 161.28,160.2 161.32,160.7 161.36,161.0 161.40,161.9 161.44,159.3 161.49,159.0 161.53,156.3 161.57,158.9 161.61,158.3 161.65,161.3 161.69,160.6 161.74,162.0 161.78,161.3 161.82,161.5 161.86,160.4 161.90,159.7 161.94,158.8 161.99,159.4 162.03,157.8 162.07,160.1 162.11,159.3 162.15,155.9 162.19,154.7 162.24,158.2 162.28,158.7 162.32,159.0 162.36,161.8 162.40,158.4 162.44,157.3 162.49,160.2 162.53,161.3 162.57,162.5 162.61,157.7 162.65,159.1 162.69,158.8 162.74,162.2 162.78,160.8 162.82,159.6 162.86,160.9 162.90,158.9 162.94,159.2 162.99,159.5 163.03,158.7 163.07,159.2 163.11,160.2 163.15,160.0 163.19,162.3 163.24,161.2 163.28,159.5 163.32,155.8 163.36,157.0 163.40,158.8 163.44,159.0 163.49,157.3 163.53,159.0 163.57,159.9 163.61,158.6 163.65,159.4 163.69,159.5 163.74,158.5 163.78,158.2 163.82,159.5 163.86,160.2 163.90,157.9 163.94,156.1 163.99,158.0 164.03,160.6 164.07,156.9 164.11,161.4 164.15,158.7 164.19,160.0 164.24,158.4 164.28,160.8 164.32,159.9 164.36,160.4 164.40,156.4 164.44,161.1 164.49,156.8 164.53,159.2 164.57,160.7 164.61,159.5 164.65,160.7 164.69,160.1 164.74,160.0 164.78,158.4 164.82,161.6 164.86,161.8 164.90,158.9 164.94,158.3 164.99,160.2 165.03,158.5 165.07,160.1 165.11,161.3 165.15,161.0 165.19,162.5 165.24,160.7 165.28,158.1 165.32,158.4 165.36,160.8 165.40,163.3 165.44,159.3 165.49,158.3 165.53,162.4 165.57,159.7 165.61,161.2 165.65,161.8 165.69,158.2 165.74,159.3 165.78,159.0 165.82,160.9 165.86,161.1 165.90,159.1 165.94,161.0 165.99,156.9 166.03,160.6 166.07,160.6 166.11,160.0 166.15,157.5 166.19,159.8 166.24,158.1 166.28,162.5 166.32,159.5 166.36,159.7 166.40,159.8 166.44,161.0 166.49,160.2 166.53,161.0 166.57,158.4 166.61,162.0 166.65,159.2 166.69,161.4 166.74,160.5 166.78,161.9 166.82,160.0 166.86,157.5 166.90,158.1 166.94,159.7 166.99,162.5 167.03,159.4 167.07,160.2 167.11,162.3 167.15,159.1 167.19,160.7 167.24,160.6 167.28,159.1 167.32,160.5 167.36,162.0 167.40,162.0 167.44,159.6 167.49,165.2 167.53,160.8 167.57,159.7 167.61,158.9 167.65,158.5 167.69,161.6 167.74,155.2 167.78,159.9 167.82,157.8 167.86,159.9 167.90,160.1 167.94,157.9 167.99,158.5 168.03,162.4 168.07,159.2 168.11,160.2 168.15,159.7 168.19,161.7 168.24,162.3 168.28,161.8 168.32,161.2 168.36,161.2 168.40,158.2 168.44,162.5 168.49,159.3 168.53,158.7 168.57,159.6 168.61,158.9 168.65,161.0 168.69,161.5 168.74,162.5 168.78,160.1 168.82,159.2 168.86,159.8 168.90,158.2 168.94,159.0 168.99,163.7 169.03,159.0 169.07,159.5 169.11,161.4 169.15,160.7 169.19,161.6 169.24,158.8 169.28,158.5 169.32,162.6 169.36,159.1 169.40,160.1 169.44,160.7 169.49,157.1 169.53,160.0 169.57,159.2 169.61,161.2 169.65,159.8 169.69,156.4 169.74,161.7 169.78,155.9 169.82,159.6 169.86,159.1 169.90,159.3 169.94,160.3 169.99,162.0 170.03,158.9 170.07,159.3 170.11,161.6 170.15,161.2 170.19,161.6 170.24,160.9 170.28,160.0 170.32,159.5 170.36,159.6 170.40,162.0 170.44,163.0 170.49,163.8 170.53,158.6 170.57,160.0 170.61,160.4 170.65,160.1 170.69,158.5 170.74,164.2 170.78,163.0 170.82,160.1 170.86,159.6 170.90,160.4 170.94,158.3 170.99,159.8 171.03,161.8 171.07,163.3 171.11,162.0 171.15,162.7 171.19,158.6 171.24,155.4 171.28,162.8 171.32,160.8 171.36,160.3 171.40,163.4 171.44,158.8 171.49,158.8 171.53,159.2 171.57,163.3 171.61,162.1 171.65,157.4 171.69,163.4 171.74,160.5 171.78,161.2 171.82,159.1 171.86,163.8 171.90,161.2 171.94,162.8 171.99,158.8 172.03,161.7 172.07,160.7 172.11,160.1 172.15,159.1 172.19,159.3 172.24,158.5 172.28,159.4 172.32,160.5 172.36,161.5 172.40,157.8 172.44,158.7 172.49,159.5 172.53,157.7 172.57,160.0 172.61,160.1 172.65,160.2 172.69,161.2 172.74,162.2 172.78,161.9 172.82,161.0 172.86,161.6 172.90,159.2 172.94,158.9 172.99,161.7 173.03,161.5 173.07,164.4 173.11,160.2 173.15,158.8 173.19,161.1 173.24,159.8 173.28,159.0 173.32,163.0 173.36,163.9 173.40,161.2 173.44,159.4 173.49,161.0 173.53,160.5 173.57,158.2 173.61,162.0 173.65,161.2 173.69,162.8 173.74,159.6 173.78,160.6 173.82,160.4 173.86,157.6 173.90,165.0 173.94,157.0 173.99,158.6 174.03,160.0 174.07,157.9 174.11,161.4 174.15,159.8 174.19,160.8 174.24,161.0 174.28,160.8 174.32,160.8 174.36,160.4 174.40,161.4 174.44,162.1 174.49,160.2 174.53,159.9 174.57,160.0 174.61,161.2 174.65,160.0 174.69,160.0 174.74,158.0 174.78,164.1 174.82,158.5 174.86,163.6 174.90,162.1 174.94,162.5 174.99,161.2 175.03,161.6 175.07,161.2 175.11,161.8 175.15,162.2 175.19,163.4 175.24,159.0 175.28,161.6 175.32,163.6 175.36,163.2 175.40,158.9 175.44,161.3 175.49,161.2 175.53,161.2 175.57,156.8 175.61,162.3 175.65,157.9 175.69,164.6 175.74,161.9 175.78,160.6 175.82,161.9 175.86,161.0 175.90,159.9 175.94,160.6 175.99,161.4 176.03,159.4 176.07,162.1 176.11,162.8 176.15,162.7 176.19,162.9 176.24,163.1 176.28,162.1 176.32,163.2 176.36,161.0 176.40,161.6 176.44,163.4 176.49,164.3 176.53,160.2 176.57,158.3 176.61,164.7 176.65,162.9 176.69,164.1 176.74,162.5 176.78,161.3 176.82,159.8 176.86,159.2 176.90,163.5 176.94,162.7 176.99,161.5 177.03,158.9 177.07,160.0 177.11,159.8 177.15,160.4 177.19,155.8 177.24,161.3 177.28,163.7 177.32,160.0 177.36,161.0 177.40,161.4 177.44,159.2 177.49,161.7 177.53,159.5 177.57,160.2 177.61,161.4 177.65,160.9 177.69,161.1 177.74,159.3 177.78,162.3 177.82,159.0 177.86,162.5 177.90,160.1 177.94,158.9 177.99,160.8 178.03,159.1 178.07,160.0 178.11,160.7 178.15,162.4 178.19,162.4 178.24,161.9 178.28,160.5 178.32,158.3 178.36,160.6 178.40,160.4 178.44,160.8 178.49,160.1 178.53,160.1 178.57,162.5 178.61,158.7 178.65,161.1 178.69,163.3 178.74,159.7 178.78,159.3 178.82,160.7 178.86,160.4 178.90,161.5 178.94,163.5 178.99,160.8 179.03,162.1 179.07,160.0 179.11,160.2 179.15,161.6 179.19,159.9 179.24,163.2 179.28,160.4 179.32,160.8 179.36,159.2 179.40,160.3 179.44,159.3 179.49,160.2 179.53,157.9 179.57,161.1 179.61,164.3 179.65,157.8 179.69,164.2 179.74,160.9 179.78,162.7 179.82,159.3 179.86,164.8 179.90,159.2 179.94,161.0 179.99,163.9 180.03,158.9 180.07,157.0 180.11,161.0 180.15,159.8 180.19,159.4 180.24,159.5 180.28,158.5 180.32,163.7 180.36,163.4 180.40,158.7 180.44,161.0 180.49,160.4 180.53,163.2 180.57,159.7 180.61,164.1 180.65,161.2 180.69,159.8 180.74,161.1 180.78,160.2 180.82,165.3 180.86,161.5 180.90,160.4 180.94,161.4 180.99,163.9 181.03,159.5 181.07,158.2 181.11,163.6 181.15,162.4 181.19,160.4 181.24,161.1 181.28,163.3 181.32,156.3 181.36,163.6 181.40,161.0 181.44,162.5 181.49,161.2 181.53,166.4 181.57,160.2 181.61,163.3 181.65,156.6 181.69,161.4 181.74,162.7 181.78,158.5 181.82,157.6 181.86,161.5 181.90,163.2 181.94,163.5 181.99,160.1 182.03,162.0 182.07,158.8 182.11,164.5 182.15,160.3 182.19,163.7 182.24,160.9 182.28,160.8 182.32,164.3 182.36,159.8 182.40,163.7 182.44,160.7 182.49,159.8 182.53,159.8 182.57,163.4 182.61,161.2 182.65,160.7 182.69,158.6 182.74,163.5 182.78,163.3 182.82,162.0 182.86,162.8 182.90,156.3 182.94,160.4 182.99,161.7 183.03,161.6 183.07,160.4 183.11,161.9 183.15,160.1 183.19,160.2 183.24,159.2 183.28,161.7 183.32,160.1 183.36,160.5 183.40,164.0 183.44,161.4 183.49,161.4 183.53,158.7 183.57,160.5 183.61,163.3 183.65,162.5 183.69,161.6 183.74,161.2 183.78,161.6 183.82,162.2 183.86,160.9 183.90,157.0 183.94,165.1 183.99,163.6 184.03,161.2 184.07,164.1 184.11,159.1 184.15,163.9 184.19,161.9 184.24,163.2 184.28,160.9 184.32,161.8 184.36,162.6 184.40,163.5 184.44,162.5 184.49,162.4 184.53,160.5 184.57,164.7 184.61,162.0 184.65,161.2 184.69,161.0 184.74,159.4 184.78,160.2 184.82,158.8 184.86,162.0 184.90,161.5 184.94,162.0 184.99,159.3 185.03,160.8 185.07,160.5 185.11,163.4 185.15,158.9 185.19,158.9 185.24,164.0 185.28,162.3 185.32,158.8 185.36,164.1 185.40,164.4 185.44,163.7 185.49,157.9 185.53,161.9 185.57,160.1 185.61,161.2 185.65,158.8 185.69,164.8 185.74,160.4 185.78,162.2 185.82,163.2 185.86,162.8 185.90,162.5 185.94,161.0 185.99,162.1 186.03,161.3 186.07,157.6 186.11,163.5 186.15,160.6 186.19,160.8 186.24,161.0 186.28,159.2 186.32,159.5 186.36,158.5 186.40,162.6 186.44,163.9 186.49,161.9 186.53,159.7 186.57,164.2 186.61,161.2 186.65,158.9 186.69,158.3 186.74,162.1 186.78,164.4 186.82,161.1 186.86,160.6 186.90,161.3 186.94,160.3 186.99,160.8 187.03,162.3 187.07,160.5 187.11,163.5 187.15,160.0 187.19,163.1 187.24,162.5 187.28,161.1 187.32,161.3 187.36,161.2 187.40,164.9 187.44,160.4 187.49,164.0 187.53,163.7 187.57,161.2 187.61,164.8 187.65,157.5 187.69,162.3 187.74,162.1 187.78,161.9 187.82,163.4 187.86,161.2 187.90,161.5 187.94,164.0 187.99,161.7 188.03,160.0 188.07,162.9 188.11,161.8 188.15,160.9 188.19,162.9 188.24,160.5 188.28,160.1 188.32,161.4 188.36,161.6 188.40,162.0 188.44,159.7 188.49,165.1 188.53,163.2 188.57,162.2 188.61,162.4 188.65,157.4 188.69,163.6 188.74,160.1 188.78,162.9 188.82,159.8 188.86,163.8 188.90,161.0 188.94,161.6 188.99,164.8 189.03,163.8 189.07,159.5 189.11,160.7 189.15,162.3 189.19,161.6 189.24,163.5 189.28,160.8 189.32,158.6 189.36,160.3 189.40,161.7 189.44,163.0 189.49,163.4 189.53,164.3 189.57,162.5 189.61,161.7 189.65,163.4 189.69,161.9 189.74,161.2 189.78,161.2 189.82,163.7 189.86,164.8 189.90,164.4 189.94,159.1 189.99,164.1 190.03,160.0 190.07,161.4 190.11,163.1 190.15,159.6 190.19,159.8 190.24,160.7 190.28,165.2 190.32,164.0 190.36,160.5 190.40,162.3 190.44,162.3 190.49,162.7 190.53,160.8 190.57,164.7 190.61,161.4 190.65,163.6 190.69,159.0 190.74,162.8 190.78,162.4 190.82,164.6 190.86,157.4 190.90,163.1 190.94,163.6 190.99,161.7 191.03,164.5 191.07,166.0 191.11,163.7 191.15,163.6 191.19,164.6 191.24,162.9 191.28,164.4 191.32,163.2 191.36,160.9 191.40,160.2 191.44,164.2 191.49,163.1 191.53,160.7 191.57,161.9 191.61,164.4 191.65,158.5 191.69,159.8 191.74,162.5 191.78,162.6 191.82,158.7 191.86,158.7 191.90,160.6 191.94,162.6 191.99,159.8 192.03,155.3 192.07,161.3 192.11,159.2 192.15,158.4 192.19,157.1 192.24,161.5 192.28,159.9 192.32,160.3 192.36,160.5 192.40,160.9 192.44,161.9 192.49,163.7 192.53,158.9 192.57,161.0 192.61,160.5 192.65,164.6 192.69,161.2 192.74,158.9 192.78,161.9 192.82,160.7 192.86,160.8 192.90,161.3 192.94,159.8 192.99,158.7 193.03,165.8 193.07,162.0 193.11,160.6 193.15,163.4 193.19,164.7 193.24,159.1 193.28,161.5 193.32,162.8 193.36,160.7 193.40,163.1 193.44,160.0 193.49,161.1 193.53,162.1 193.57,163.1 193.61,162.4 193.65,161.1 193.69,161.6 193.74,158.5 193.78,166.2 193.82,161.6 193.86,161.8 193.90,162.8 193.94,163.4 193.99,162.9 194.03,161.1 194.07,159.3 194.11,162.0 194.15,160.9 194.19,161.3 194.24,162.3 194.28,162.8 194.32,164.7 194.36,162.1 194.40,159.2 194.44,163.4 194.49,164.0 194.53,159.4 194.57,163.5 194.61,162.7 194.65,161.4 194.69,162.7 194.74,163.1 194.78,163.4 194.82,164.5 194.86,162.3 194.90,162.4 194.94,166.8 194.99,160.4 195.03,161.9 195.07,161.7 195.11,163.8 195.15,164.4 195.19,160.0 195.24,164.6 195.28,160.2 195.32,167.1 195.36,161.2 195.40,164.4 195.44,161.9 195.49,163.7 195.53,161.0 195.57,162.7 195.61,162.5 195.65,162.6 195.69,163.9 195.74,161.6 195.78,161.8 195.82,160.0 195.86,162.2 195.90,161.5 195.94,164.0 195.99,163.7 196.03,161.1 196.07,163.2 196.11,164.8 196.15,162.1 196.19,160.3 196.24,166.9 196.28,163.5 196.32,163.7 196.36,167.0 196.40,161.0 196.44,163.0 196.49,159.0 196.53,163.4 196.57,163.2 196.61,161.0 196.65,160.9 196.69,162.2 196.74,162.1 196.78,165.4 196.82,162.0 196.86,162.2 196.90,162.2 196.94,159.6 196.99,161.6 197.03,160.0 197.07,162.7 197.11,158.5 197.15,160.5 197.19,163.0 197.24,158.7 197.28,159.7 197.32,164.3 197.36,160.1 197.40,162.5 197.44,163.1 197.49,160.6 197.53,159.4 197.57,165.3 197.61,161.5 197.65,163.5 197.69,161.1 197.74,163.2 197.78,160.1 197.82,160.0 197.86,160.6 197.90,161.4 197.94,161.4 197.99,161.9 198.03,163.3 198.07,161.6 198.11,164.2 198.15,161.3 198.19,163.8 198.24,164.9 198.28,165.7 198.32,158.9 198.36,165.7 198.40,159.4 198.44,165.1 198.49,162.5 198.53,163.2 198.57,160.9 198.61,164.3 198.65,163.8 198.69,161.6 198.74,161.5 198.78,164.1 198.82,164.5 198.86,164.0 198.90,161.9 198.94,162.6 198.99,164.3 199.03,164.1 199.07,164.7 199.11,162.9 199.15,161.3 199.19,163.1 199.24,163.4 199.28,161.7 199.32,163.4 199.36,161.1 199.40,163.1 199.44,161.5 199.49,166.5 199.53,164.8 199.57,163.1 199.61,160.2 199.65,160.4 199.69,163.9 199.74,162.4 199.78,163.2 199.82,159.8 199.86,159.9 199.90,162.9 199.94,162.3 199.99,160.2 200.03,161.2 200.07,164.1 200.11,161.9 200.15,163.7 200.19,165.7 200.24,163.3 200.28,162.9 200.32,161.6 200.36,164.9 200.40,160.1 200.44,160.7 200.49,162.6 200.53,160.0 200.57,164.5 200.61,161.6 200.65,163.6 200.69,162.1 200.74,162.2 200.78,162.7 200.82,159.1 200.86,160.7 200.90,161.8 200.94,166.7 200.99,164.2 201.03,164.0 201.07,160.8 201.11,164.3 201.15,165.0 201.19,164.1 201.24,167.5 201.28,160.3 201.32,160.8 201.36,162.2 201.40,161.0 201.44,162.8 201.49,163.7 201.53,162.7 201.57,162.9 201.61,163.5 201.65,164.1 201.69,161.5 201.74,161.5 201.78,164.9 201.82,162.1 201.86,161.2 201.90,163.3 201.94,162.1 201.99,163.0 202.03,162.6 202.07,163.9 202.11,164.4 202.15,161.2 202.19,160.6 202.24,165.6 202.28,161.5 202.32,159.9 202.36,159.3 202.40,162.7 202.44,161.6 202.49,159.4 202.53,161.1 202.57,160.8 202.61,164.6 202.65,163.2 202.69,162.8 202.74,160.5 202.78,162.4 202.82,164.0 202.86,163.1 202.90,164.7 202.94,162.9 202.99,164.0 203.03,163.6 203.07,161.8 203.11,165.2 203.15,163.4 203.19,164.3 203.24,160.9 203.28,160.8 203.32,162.5 203.36,161.3 203.40,163.9 203.44,163.5 203.49,165.0 203.53,163.9 203.57,160.8 203.61,164.5 203.65,161.6 203.69,161.5 203.74,162.9 203.78,162.8 203.82,164.7 203.86,167.9 203.90,163.6 203.94,165.5 203.99,162.4 204.03,163.4 204.07,161.9 204.11,162.1 204.15,165.3 204.19,163.7 204.24,163.6 204.28,161.4 204.32,165.9 204.36,162.5 204.40,161.7 204.44,162.8 204.49,164.1 204.53,164.2 204.57,165.5 204.61,160.9 204.65,162.1 204.69,165.7 204.74,167.0 204.78,161.7 204.82,162.7 204.86,160.1 204.90,161.4 204.94,161.3 204.99,162.7 205.03,160.7 205.07,164.6 205.11,162.8 205.15,162.4 205.19,164.5 205.24,162.4 205.28,160.6 205.32,162.9 205.36,166.8 205.40,163.1 205.44,163.8 205.49,162.5 205.53,162.5 205.57,163.8 205.61,158.1 205.65,160.7 205.69,161.8 205.74,162.4 205.78,165.5 205.82,167.3 205.86,164.1 205.90,163.6 205.94,164.1 205.99,165.6 206.03,161.1 206.07,162.0 206.11,163.2 206.15,163.5 206.19,159.5 206.24,163.7 206.28,160.1 206.32,164.3 206.36,164.5 206.40,158.9 206.44,163.8 206.49,163.3 206.53,161.8 206.57,164.7 206.61,166.6 206.65,163.8 206.69,161.0 206.74,160.3 206.78,160.8 206.82,161.1 206.86,165.0 206.90,163.5 206.94,162.9 206.99,164.5 207.03,163.0 207.07,163.0 207.11,161.4 207.15,161.8 207.19,163.0 207.24,160.9 207.28,166.0 207.32,163.2 207.36,162.0 207.40,164.7 207.44,161.1 207.49,164.9 207.53,163.1 207.57,166.4 207.61,162.0 207.65,162.3 207.69,161.5 207.74,160.7 207.78,163.4 207.82,161.1 207.86,163.6 207.90,161.8 207.94,164.9 207.99,158.4 208.03,163.7 208.07,163.1 208.11,163.0 208.15,161.9 208.19,166.1 208.24,162.3 208.28,163.8 208.32,162.5 208.36,162.4 208.40,163.2 208.44,164.2 208.49,161.0 208.53,162.2 208.57,160.5 208.61,163.7 208.65,161.5 208.69,161.7 208.74,164.2 208.78,163.0 208.82,163.7 208.86,162.8 208.90,163.8 208.94,163.2 208.99,161.0 209.03,163.4 209.07,162.4 209.11,162.6 209.15,163.5 209.19,162.0 209.24,161.1 209.28,165.2 209.32,166.3 209.36,162.4 209.40,165.1 209.44,163.7 209.49,161.9 209.53,161.5 209.57,162.5 209.61,162.3 209.65,162.4 209.69,162.8 209.74,161.0 209.78,164.6 209.82,161.0 209.86,161.1 209.90,164.7 209.94,164.4 209.99,165.7 210.03,163.3 210.07,161.9 210.11,165.1 210.15,162.9 210.19,162.8 210.24,161.5 210.28,163.8 210.32,158.8 210.36,164.0 210.40,159.5 210.44,164.6 210.49,160.3 210.53,164.3 210.57,167.5 210.61,162.6 210.65,161.0 210.69,166.6 210.74,162.3 210.78,161.1 210.82,165.3 210.86,158.1 210.90,160.4 210.94,160.7 210.99,161.8 211.03,159.4 211.07,164.6 211.11,164.9 211.15,163.0 211.19,162.3 211.24,160.3 211.28,163.9 211.32,161.8 211.36,164.2 211.40,164.9 211.44,163.2 211.49,159.3 211.53,161.4 211.57,165.6 211.61,163.6 211.65,165.7 211.69,159.1 211.74,162.9 211.78,162.8 211.82,160.2 211.86,162.0 211.90,164.9 211.94,164.1 211.99,162.2 212.03,163.7 212.07,165.3 212.11,161.2 212.15,163.7 212.19,165.0 212.24,161.9 212.28,165.5 212.32,163.0 212.36,165.1 212.40,164.8 212.44,163.6 212.49,162.6 212.53,162.0 212.57,163.4 212.61,163.5 212.65,165.7 212.69,163.0 212.74,163.8 212.78,166.2 212.82,163.7 212.86,164.0 212.90,166.1 212.94,163.3 212.99,163.9 213.03,164.5 213.07,162.9 213.11,161.1 213.15,160.5 213.19,162.8 213.24,165.2 213.28,165.0 213.32,166.1 213.36,164.8 213.40,162.0 213.44,160.5 213.49,162.2 213.53,162.7 213.57,161.8 213.61,164.8 213.65,161.7 213.69,164.2 213.74,164.6 213.78,160.0 213.82,162.4 213.86,165.4 213.90,164.7 213.94,163.4 213.99,161.2 214.03,161.9 214.07,163.3 214.11,165.5 214.15,164.1 214.19,163.0 214.24,163.6 214.28,164.6 214.32,160.0 214.36,161.4 214.40,163.2 214.44,165.4 214.49,165.1 214.53,161.8 214.57,163.2 214.61,161.9 214.65,162.5 214.69,163.5 214.74,162.5 214.78,162.2 214.82,161.1 214.86,160.3 214.90,162.9 214.94,163.5 214.99,164.3 215.03,161.7 215.07,161.9 215.11,165.5 215.15,164.0 215.19,164.8 215.24,162.2 215.28,161.9 215.32,161.1 215.36,165.0 215.40,161.2 215.44,160.1 215.49,161.9 215.53,165.5 215.57,163.3 215.61,163.6 215.65,163.4 215.69,163.1 215.74,162.9 215.78,160.7 215.82,166.2 215.86,162.9 215.90,165.4 215.94,160.4 215.99,164.2 216.03,161.1 216.07,160.9 216.11,163.7 216.15,165.1 216.19,165.7 216.24,165.6 216.28,162.7 216.32,164.7 216.36,162.2 216.40,162.3 216.44,163.7 216.49,163.0 216.53,164.8 216.57,159.9 216.61,165.3 216.65,162.2 216.69,165.9 216.74,165.3 216.78,161.2 216.82,163.2 216.86,164.5 216.90,161.8 216.94,161.9 216.99,162.7 217.03,164.6 217.07,164.9 217.11,162.5 217.15,164.8 217.19,165.9 217.24,164.9 217.28,161.9 217.32,161.8 217.36,163.8 217.40,164.8 217.44,164.0 217.49,162.6 217.53,161.6 217.57,165.6 217.61,163.0 217.65,166.6 217.69,161.2 217.74,162.7 217.78,162.1 217.82,166.6 217.86,165.5 217.90,162.4 217.94,159.8 217.99,165.4 218.03,163.5 218.07,161.3 218.11,160.6 218.15,164.0 218.19,162.9 218.24,163.6 218.28,164.0 218.32,162.6 218.36,162.8 218.40,164.5 218.44,163.1 218.49,162.8 218.53,164.5 218.57,159.8 218.61,165.5 218.65,164.1 218.69,162.0 218.74,163.0 218.78,165.5 218.82,164.3 218.86,160.1 218.90,161.5 218.94,163.7 218.99,166.5 219.03,164.7 219.07,163.0 219.11,164.4 219.15,163.4 219.19,162.8 219.24,164.0 219.28,159.5 219.32,165.2 219.36,164.3 219.40,162.6 219.44,161.8 219.49,161.2 219.53,163.8 219.57,163.6 219.61,163.7 219.65,166.4 219.69,159.4 219.74,162.1 219.78,162.0 219.82,165.1 219.86,162.9 219.90,161.7 219.94,163.7 219.99,164.1 220.03,166.3 220.07,163.8 220.11,162.6 220.15,162.5 220.19,161.9 220.24,164.3 220.28,164.8 220.32,163.0 220.36,163.1 220.40,165.8 220.44,163.6 220.49,164.3 220.53,161.4 220.57,162.3 220.61,159.6 220.65,160.9 220.69,164.0 220.74,165.6 220.78,162.9 220.82,161.3 220.86,163.6 220.90,165.4 220.94,163.1 220.99,165.0 221.03,163.3 221.07,161.2 221.11,161.8 221.15,162.9 221.19,167.5 221.24,164.4 221.28,163.0 221.32,163.9 221.36,163.8 221.40,162.6 221.44,163.2 221.49,163.0 221.53,164.7 221.57,166.2 221.61,165.8 221.65,162.8 221.69,164.4 221.74,162.1 221.78,161.5 221.82,163.6 221.86,164.5 221.90,163.3 221.94,164.9 221.99,164.9 222.03,164.8 222.07,163.1 222.11,161.0 222.15,166.7 222.19,162.6 222.24,164.7 222.28,164.3 222.32,162.8 222.36,166.7 222.40,164.6 222.44,163.4 222.49,162.7 222.53,161.7 222.57,161.2 222.61,164.5 222.65,162.7 222.69,162.6 222.74,164.3 222.78,162.8 222.82,164.6 222.86,162.3 222.90,162.5 222.94,165.1 222.99,162.2 223.03,164.5 223.07,164.4 223.11,163.5 223.15,160.5 223.19,161.1 223.24,161.5 223.28,161.2 223.32,165.0 223.36,161.9 223.40,161.2 223.44,162.6 223.49,163.3 223.53,160.5 223.57,164.5 223.61,164.8 223.65,162.4 223.69,164.9 223.74,160.7 223.78,162.5 223.82,163.2 223.86,163.6 223.90,165.5 223.94,162.9 223.99,161.7 224.03,163.9 224.07,163.7 224.11,164.3 224.15,162.9 224.19,163.8 224.24,162.5 224.28,164.5 224.32,162.3 224.36,162.4 224.40,165.6 224.44,162.1 224.49,163.5 224.53,164.5 224.57,162.9 224.61,165.1 224.65,162.5 224.69,165.3 224.74,160.7 224.78,161.1 224.82,163.6 224.86,166.0 224.90,166.3 224.94,162.0 224.99,163.4 225.03,162.6 225.07,159.7 225.11,164.8 225.15,162.8 225.19,165.9 225.24,164.0 225.28,162.6 225.32,162.3 225.36,163.2 225.40,164.3 225.44,162.6 225.49,168.5 225.53,163.9 225.57,161.5 225.61,163.6 225.65,165.5 225.69,164.3 225.74,162.9 225.78,162.3 225.82,162.1 225.86,161.4 225.90,162.6 225.94,164.0 225.99,162.5 226.03,166.4 226.07,164.2 226.11,162.7 226.15,163.5 226.19,166.1 226.24,160.5 226.28,163.9 226.32,168.3 226.36,165.3 226.40,161.9 226.44,163.7 226.49,163.1 226.53,168.5 226.57,162.3 226.61,163.0 226.65,162.9 226.69,161.0 226.74,158.5 226.78,163.1 226.82,164.4 226.86,162.8 226.90,164.4 226.94,164.9 226.99,164.8 227.03,160.5 227.07,166.2 227.11,165.1 227.15,165.0 227.19,163.6 227.24,163.5 227.28,162.6 227.32,164.3 227.36,165.2 227.40,162.5 227.44,165.0 227.49,162.7 227.53,164.6 227.57,163.3 227.61,165.1 227.65,167.0 227.69,164.0 227.74,162.7 227.78,162.8 227.82,164.7 227.86,162.7 227.90,165.3 227.94,164.1 227.99,165.2 228.03,162.6 228.07,161.9 228.11,162.2 228.15,164.3 228.19,162.2 228.24,164.8 228.28,159.9 228.32,162.4 228.36,163.3 228.40,160.3 228.44,162.5 228.49,160.9 228.53,163.4 228.57,163.1 228.61,164.9 228.65,162.1 228.69,160.7 228.74,162.6 228.78,163.8 228.82,163.7 228.86,163.9 228.90,165.8 228.94,163.0 228.99,163.2 229.03,162.1 229.07,162.5 229.11,165.4 229.15,164.2 229.19,158.9 229.24,165.7 229.28,160.1 229.32,162.9 229.36,165.3 229.40,163.8 229.44,164.6 229.49,165.1 229.53,164.1 229.57,161.4 229.61,164.3 229.65,162.4 229.69,159.3 229.74,163.1 229.78,164.6 229.82,163.8 229.86,163.6 229.90,166.7 229.94,164.1 229.99,165.2 230.03,164.2 230.07,166.5 230.11,163.0 230.15,165.7 230.19,166.9 230.24,163.0 230.28,165.5 230.32,161.2 230.36,164.2 230.40,164.9 230.44,162.2 230.49,160.4 230.53,163.7 230.57,163.1 230.61,164.0 230.65,164.2 230.69,165.1 230.74,166.4 230.78,164.4 230.82,160.9 230.86,164.8 230.90,164.3 230.94,163.9 230.99,166.5 231.03,164.1 231.07,163.0 231.11,164.5 231.15,160.8 231.19,165.4 231.24,163.8 231.28,166.7 231.32,164.9 231.36,164.3 231.40,164.0 231.44,161.6 231.49,163.5 231.53,164.2 231.57,165.4 231.61,164.5 231.65,164.9 231.69,164.9 231.74,162.8 231.78,164.2 231.82,163.3 231.86,161.5 231.90,161.0 231.94,165.2 231.99,166.2 232.03,166.2 232.07,162.2 232.11,166.4 232.15,166.5 232.19,162.4 232.24,164.6 232.28,166.7 232.32,163.9 232.36,165.8 232.40,162.6 232.44,163.1 232.49,165.3 232.53,163.4 232.57,163.9 232.61,163.9 232.65,161.9 232.69,166.4 232.74,163.5 232.78,163.1 232.82,162.9 232.86,163.8 232.90,162.1 232.94,165.3 232.99,163.1 233.03,165.1 233.07,162.2 233.11,161.9 233.15,162.1 233.19,164.1 233.24,161.4 233.28,165.2 233.32,163.1 233.36,165.3 233.40,163.1 233.44,165.2 233.49,161.9 233.53,161.8 233.57,164.8 233.61,162.8 233.65,165.6 233.69,162.5 233.74,164.6 233.78,162.3 233.82,160.6 233.86,166.3 233.90,163.4 233.94,165.5 233.99,164.0 234.03,160.7 234.07,164.4 234.11,165.7 234.15,166.0 234.19,166.6 234.24,164.4 234.28,163.6 234.32,163.9 234.36,161.7 234.40,165.0 234.44,165.0 234.49,164.4 234.53,162.4 234.57,164.9 234.61,162.8 234.65,165.9 234.69,162.7 234.74,162.8 234.78,163.2 234.82,161.9 234.86,162.1 234.90,163.2 234.94,159.4 234.99,167.3 235.03,164.4 235.07,164.3 235.11,162.2 235.15,164.1 235.19,163.7 235.24,163.9 235.28,161.1 235.32,163.5 235.36,160.4 235.40,163.4 235.44,162.2 235.49,162.6 235.53,163.2 235.57,165.2 235.61,165.9 235.65,163.8 235.69,161.8 235.74,166.4 235.78,161.2 235.82,162.7 235.86,163.3 235.90,162.4 235.94,166.1 235.99,164.4 236.03,165.6 236.07,163.2 236.11,165.3 236.15,163.5 236.19,163.5 236.24,164.3 236.28,164.4 236.32,164.7 236.36,163.4 236.40,161.1 236.44,163.2 236.49,158.9 236.53,163.2 236.57,162.3 236.61,165.2 236.65,158.9 236.69,167.3 236.74,163.1 236.78,160.9 236.82,164.5 236.86,164.6 236.90,164.5 236.94,167.6 236.99,162.2 237.03,164.3 237.07,164.0 237.11,162.5 237.15,164.2 237.19,166.0 237.24,162.2 237.28,164.5 237.32,165.5 237.36,164.9 237.40,160.9 237.44,164.2 237.49,163.0 237.53,165.9 237.57,163.5 237.61,167.2 237.65,161.5 237.69,164.6 237.74,162.2 237.78,166.9 237.82,166.5 237.86,162.1 237.90,165.1 237.94,163.7 237.99,160.8 238.03,161.9 238.07,163.9 238.11,164.7 238.15,163.1 238.19,164.3 238.24,164.3 238.28,164.3 238.32,161.6 238.36,164.0 238.40,164.7 238.44,161.1 238.49,166.5 238.53,166.3 238.57,164.0 238.61,167.5 238.65,162.3 238.69,162.1 238.74,162.6 238.78,162.5 238.82,167.0 238.86,163.8 238.90,163.7 238.94,164.4 238.99,166.6 239.03,164.1 239.07,163.1 239.11,164.2 239.15,166.0 239.19,163.4 239.24,166.3 239.28,164.3 239.32,163.4 239.36,164.6 239.40,167.3 239.44,163.3 239.49,166.2 239.53,164.8 239.57,164.0 239.61,163.9 239.65,165.2 239.69,164.9 239.74,164.4 239.78,164.9 239.82,162.2 239.86,162.6 239.90,162.0 239.94,163.2 239.99,163.4 240.03,163.1 240.07,164.7 240.11,162.1 240.15,163.3 240.19,165.3 240.24,166.8 240.28,163.9 240.32,165.9 240.36,166.2 240.40,162.0 240.44,164.2 240.49,161.9 240.53,163.1 240.57,164.5 240.61,161.5 240.65,164.7 240.69,163.5 240.74,163.3 240.78,164.7 240.82,162.3 240.86,160.8 240.90,163.8 240.94,162.5 240.99,163.4 241.03,161.8 241.07,162.1 241.11,161.9 241.15,161.5 241.19,162.3 241.24,162.4 241.28,163.8 241.32,168.8 241.36,162.7 241.40,161.0 241.44,164.8 241.49,161.6 241.53,162.2 241.57,163.2 241.61,163.8 241.65,163.9 241.69,164.2 241.74,163.6 241.78,165.7 241.82,165.2 241.86,162.8 241.90,163.4 241.94,161.4 241.99,164.9 242.03,163.4 242.07,167.1 242.11,162.6 242.15,166.4 242.19,162.1 242.24,160.8 242.28,162.2 242.32,164.4 242.36,165.6 242.40,162.2 242.44,165.5 242.49,162.8 242.53,162.9 242.57,163.2 242.61,166.7 242.65,164.1 242.69,164.3 242.74,161.1 242.78,164.0 242.82,164.2 242.86,166.6 242.90,162.2 242.94,162.5 242.99,162.1 243.03,162.6 243.07,164.9 243.11,162.4 243.15,166.0 243.19,163.8 243.24,162.1 243.28,162.6 243.32,161.3 243.36,161.2 243.40,165.8 243.44,165.3 243.49,162.0 243.53,163.0 243.57,166.6 243.61,162.5 243.65,164.1 243.69,164.6 243.74,163.4 243.78,163.4 243.82,163.1 243.86,164.0 243.90,161.0 243.94,163.8 243.99,164.1 244.03,161.4 244.07,164.5 244.11,162.1 244.15,159.1 244.19,160.3 244.24,163.9 244.28,164.7 244.32,163.0 244.36,161.2 244.40,163.4 244.44,165.3 244.49,163.6 244.53,161.1 244.57,164.6 244.61,163.4 244.65,163.4 244.69,163.8 244.74,164.7 244.78,163.5 244.82,162.0 244.86,163.5 244.90,164.0 244.94,165.8 244.99,161.6 245.03,163.5 245.07,162.2 245.11,164.2 245.15,162.8 245.19,158.8 245.24,165.4 245.28,162.6 245.32,161.8 245.36,161.1 245.40,161.8 245.44,161.4 245.49,163.5 245.53,164.0 245.57,163.6 245.61,164.4 245.65,162.3 245.69,164.8 245.74,163.5 245.78,164.5 245.82,164.8 245.86,163.1 245.90,165.9 245.94,165.1 245.99,163.0 246.03,166.8 246.07,166.7 246.11,161.0 246.15,159.8 246.19,162.6 246.24,164.5 246.28,165.4 246.32,164.9 246.36,163.7 246.40,165.4 246.44,165.0 246.49,163.0 246.53,164.1 246.57,165.6 246.61,162.6 246.65,162.6 246.69,162.3 246.74,166.3 246.78,164.9 246.82,165.2 246.86,163.1 246.90,163.7 246.94,165.9 246.99,163.3 247.03,165.8"/><polyline fill="none" stroke="#ec2a3c" stroke-width="0.6" points="46.24,249.4 46.28,249.9 46.32,244.7 46.36,244.9 46.40,250.0 46.44,246.0 46.49,247.7 46.53,243.1 46.57,246.3 46.61,248.0 46.65,250.8 46.69,252.6 46.74,247.3 46.78,251.5 46.82,248.6 46.86,248.2 46.90,248.3 46.94,248.3 46.99,245.7 47.03,248.7 47.07,246.6 47.11,249.6 47.15,254.3 47.19,246.3 47.24,252.3 47.28,246.8 47.32,248.4 47.36,251.1 47.40,250.1 47.44,251.5 47.49,251.8 47.53,248.6 47.57,248.2 47.61,250.5 47.65,250.3 47.69,252.7 47.74,245.1 47.78,251.4 47.82,250.4 47.86,248.8 47.90,247.8 47.94,247.9 47.99,247.9 48.03,252.7 48.07,249.6 48.11,249.1 48.15,249.7 48.19,250.8 48.24,251.2 48.28,249.7 48.32,249.3 48.36,248.2 48.40,249.7 48.44,249.6 48.49,248.6 48.53,249.3 48.57,252.4 48.61,251.5 48.65,250.5 48.69,252.4 48.74,250.3 48.78,252.4 48.82,250.1 48.86,253.0 48.90,251.2 48.94,249.6 48.99,247.9 49.03,250.5 49.07,250.5 49.11,248.1 49.15,249.9 49.19,249.2 49.24,250.9 49.28,247.9 49.32,250.4 49.36,254.2 49.40,252.4 49.44,250.5 49.49,253.6 49.53,249.8 49.57,252.2 49.61,251.2 49.65,249.8 49.69,251.7 49.74,255.4 49.78,249.0 49.82,249.0 49.86,254.1 49.90,249.5 49.94,250.6 49.99,250.0 50.03,249.4 50.07,251.9 50.11,249.0 50.15,248.9 50.19,250.5 50.24,252.1 50.28,253.9 50.32,251.0 50.36,252.9 50.40,253.8 50.44,252.1 50.49,252.9 50.53,250.8 50.57,248.1 50.61,252.8 50.65,249.0 50.69,252.4 50.74,249.7 50.78,249.0 50.82,251.2 50.86,248.9 50.90,251.6 50.94,251.1 50.99,251.1 51.03,254.5 51.07,253.1 51.11,251.1 51.15,253.2 51.19,252.4 51.24,251.0 51.28,249.0 51.32,250.3 51.36,255.6 51.40,251.8 51.44,252.9 51.49,255.2 51.53,250.4 51.57,254.0 51.61,246.8 51.65,249.9 51.69,247.6 51.74,251.9 51.78,252.0 51.82,250.5 51.86,250.7 51.90,257.8 51.94,252.9 51.99,253.1 52.03,250.4 52.07,250.6 52.11,252.6 52.15,251.6 52.19,251.9 52.24,251.7 52.28,248.8 52.32,253.0 52.36,252.7 52.40,253.4 52.44,253.7 52.49,256.0 52.53,251.6 52.57,252.8 52.61,255.1 52.65,251.8 52.69,254.8 52.74,251.6 52.78,251.7 52.82,250.5 52.86,252.3 52.90,256.7 52.94,256.3 52.99,252.9 53.03,253.7 53.07,255.0 53.11,250.7 53.15,252.0 53.19,252.4 53.24,249.1 53.28,251.3 53.32,251.6 53.36,252.2 53.40,252.5 53.44,248.5 53.49,253.8 53.53,252.0 53.57,253.9 53.61,254.2 53.65,252.7 53.69,256.6 53.74,249.7 53.78,253.0 53.82,253.2 53.86,255.9 53.90,252.9 53.94,254.2 53.99,253.6 54.03,257.2 54.07,252.6 54.11,251.5 54.15,252.3 54.19,254.1 54.24,256.1 54.28,248.7 54.32,250.8 54.36,256.2 54.40,252.6 54.44,252.0 54.49,252.5 54.53,251.7 54.57,251.4 54.61,253.7 54.65,252.0 54.69,256.9 54.74,248.7 54.78,254.7 54.82,252.2 54.86,257.0 54.90,251.7 54.94,254.7 54.99,256.9 55.03,254.8 55.07,252.5 55.11,253.4 55.15,254.2 55.19,256.7 55.24,254.1 55.28,255.1 55.32,251.7 55.36,254.1 55.40,256.4 55.44,253.4 55.49,253.0 55.53,253.3 55.57,256.3 55.61,255.1 55.65,254.9 55.69,252.7 55.74,250.7 55.78,256.2 55.82,253.3 55.86,255.9 55.90,255.2 55.94,253.1 55.99,252.1 56.03,256.1 56.07,250.1 56.11,249.7 56.15,257.4 56.19,252.7 56.24,254.7 56.28,256.5 56.32,258.5 56.36,252.5 56.40,254.1 56.44,256.3 56.49,254.5 56.53,253.0 56.57,256.4 56.61,251.2 56.65,256.5 56.69,254.5 56.74,254.6 56.78,253.3 56.82,254.2 56.86,256.7 56.90,255.2 56.94,256.9 56.99,255.9 57.03,254.0 57.07,254.3 57.11,254.9 57.15,253.9 57.19,257.6 57.24,252.6 57.28,258.2 57.32,253.5 57.36,253.2 57.40,254.9 57.44,252.4 57.49,258.2 57.53,258.2 57.57,257.8 57.61,258.5 57.65,257.5 57.69,251.5 57.74,256.4 57.78,253.7 57.82,256.8 57.86,254.6 57.90,254.3 57.94,253.4 57.99,256.3 58.03,257.4 58.07,253.1 58.11,256.0 58.15,256.2 58.19,255.1 58.24,254.9 58.28,257.6 58.32,257.9 58.36,256.8 58.40,256.8 58.44,256.9 58.49,254.3 58.53,255.3 58.57,255.5 58.61,253.7 58.65,257.0 58.69,259.2 58.74,259.5 58.78,255.1 58.82,254.6 58.86,254.0 58.90,256.9 58.94,255.4 58.99,257.9 59.03,253.5 59.07,255.9 59.11,254.5 59.15,256.2 59.19,255.2 59.24,252.1 59.28,257.3 59.32,255.8 59.36,256.0 59.40,255.6 59.44,253.9 59.49,255.8 59.53,257.3 59.57,259.0 59.61,256.2 59.65,254.8 59.69,258.1 59.74,255.4 59.78,255.4 59.82,255.9 59.86,257.1 59.90,253.6 59.94,256.1 59.99,255.8 60.03,255.1 60.07,259.2 60.11,252.9 60.15,255.9 60.19,256.4 60.24,256.4 60.28,258.9 60.32,252.0 60.36,255.4 60.40,254.4 60.44,253.4 60.49,254.9 60.53,256.9 60.57,255.6 60.61,259.9 60.65,253.2 60.69,256.8 60.74,256.8 60.78,256.4 60.82,257.5 60.86,255.8 60.90,257.2 60.94,255.8 60.99,255.4 61.03,254.5 61.07,255.5 61.11,257.7 61.15,255.4 61.19,257.8 61.24,256.0 61.28,256.4 61.32,258.9 61.36,254.2 61.40,256.3 61.44,258.2 61.49,257.6 61.53,257.3 61.57,259.2 61.61,255.7 61.65,256.8 61.69,260.0 61.74,254.4 61.78,257.7 61.82,257.8 61.86,257.3 61.90,257.5 61.94,255.1 61.99,257.0 62.03,256.5 62.07,257.5 62.11,257.1 62.15,260.3 62.19,258.7 62.24,260.9 62.28,258.8 62.32,257.7 62.36,258.3 62.40,259.4 62.44,255.4 62.49,254.1 62.53,254.2 62.57,258.4 62.61,256.3 62.65,256.4 62.69,257.2 62.74,258.5 62.78,256.3 62.82,255.5 62.86,256.1 62.90,258.5 62.94,256.7 62.99,258.2 63.03,259.0 63.07,256.6 63.11,255.6 63.15,254.8 63.19,256.1 63.24,255.2 63.28,257.5 63.32,254.7 63.36,257.5 63.40,256.4 63.44,258.7 63.49,255.1 63.53,257.4 63.57,258.5 63.61,254.2 63.65,257.9 63.69,256.2 63.74,255.5 63.78,254.4 63.82,257.4 63.86,256.1 63.90,256.5 63.94,258.7 63.99,251.9 64.03,259.0 64.07,261.6 64.11,257.2 64.15,256.6 64.19,257.1 64.24,259.0 64.28,262.0 64.32,255.8 64.36,252.0 64.40,257.9 64.44,257.2 64.49,257.1 64.53,257.0 64.57,253.3 64.61,258.0 64.65,256.1 64.69,258.0 64.74,256.5 64.78,255.7 64.82,254.0 64.86,260.1 64.90,257.3 64.94,258.2 64.99,260.4 65.03,258.5 65.07,258.0 65.11,253.2 65.15,259.7 65.19,259.2 65.24,255.5 65.28,254.7 65.32,258.3 65.36,257.3 65.40,260.3 65.44,255.1 65.49,257.5 65.53,258.8 65.57,258.5 65.61,255.3 65.65,255.0 65.69,256.8 65.74,261.7 65.78,256.2 65.82,256.8 65.86,259.4 65.90,258.6 65.94,260.3 65.99,256.5 66.03,256.5 66.07,259.3 66.11,257.3 66.15,257.8 66.19,255.9 66.24,256.3 66.28,256.3 66.32,256.6 66.36,256.5 66.40,257.2 66.44,257.2 66.49,259.9 66.53,261.2 66.57,257.2 66.61,260.8 66.65,258.8 66.69,253.7 66.74,258.4 66.78,255.2 66.82,260.0 66.86,257.0 66.90,260.9 66.94,260.6 66.99,257.0 67.03,256.1 67.07,260.0 67.11,256.3 67.15,257.8 67.19,259.9 67.24,257.8 67.28,259.4 67.32,261.7 67.36,258.7 67.40,259.4 67.44,257.0 67.49,253.0 67.53,258.4 67.57,258.1 67.61,259.1 67.65,258.2 67.69,257.0 67.74,257.0 67.78,258.3 67.82,256.5 67.86,255.6 67.90,258.7 67.94,258.1 67.99,259.2 68.03,257.2 68.07,257.9 68.11,256.5 68.15,257.5 68.19,259.8 68.24,261.4 68.28,257.7 68.32,259.1 68.36,256.9 68.40,255.5 68.44,257.2 68.49,257.8 68.53,257.7 68.57,256.8 68.61,258.6 68.65,260.4 68.69,257.3 68.74,259.1 68.78,259.4 68.82,260.2 68.86,259.6 68.90,260.2 68.94,258.5 68.99,256.0 69.03,256.3 69.07,257.5 69.11,256.6 69.15,256.9 69.19,258.0 69.24,258.3 69.28,257.6 69.32,259.0 69.36,262.0 69.40,256.6 69.44,257.4 69.49,256.3 69.53,260.5 69.57,260.1 69.61,256.0 69.65,259.3 69.69,255.8 69.74,259.2 69.78,258.5 69.82,258.6 69.86,255.2 69.90,258.8 69.94,258.8 69.99,260.9 70.03,258.7 70.07,258.4 70.11,257.2 70.15,259.5 70.19,260.0 70.24,259.9 70.28,260.2 70.32,258.2 70.36,255.9 70.40,258.7 70.44,261.3 70.49,260.9 70.53,257.3 70.57,262.4 70.61,261.1 70.65,260.1 70.69,256.7 70.74,259.9 70.78,260.4 70.82,262.7 70.86,257.8 70.90,258.1 70.94,260.8 70.99,260.8 71.03,260.3 71.07,257.7 71.11,257.4 71.15,259.1 71.19,259.5 71.24,260.3 71.28,257.3 71.32,255.7 71.36,260.7 71.40,258.5 71.44,258.4 71.49,260.4 71.53,256.0 71.57,258.6 71.61,258.0 71.65,259.5 71.69,258.6 71.74,259.9 71.78,256.2 71.82,257.8 71.86,257.0 71.90,260.6 71.94,261.0 71.99,258.8 72.03,260.0 72.07,258.2 72.11,257.5 72.15,261.2 72.19,258.5 72.24,261.2 72.28,263.1 72.32,256.5 72.36,259.7 72.40,258.1 72.44,259.4 72.49,254.3 72.53,259.8 72.57,257.1 72.61,259.2 72.65,259.5 72.69,260.2 72.74,258.7 72.78,259.3 72.82,258.1 72.86,255.8 72.90,257.5 72.94,257.7 72.99,258.0 73.03,258.9 73.07,259.1 73.11,260.6 73.15,262.4 73.19,256.7 73.24,258.9 73.28,259.5 73.32,258.2 73.36,259.9 73.40,254.4 73.44,259.9 73.49,258.3 73.53,255.1 73.57,258.2 73.61,262.2 73.65,258.4 73.69,262.5 73.74,262.8 73.78,259.2 73.82,258.1 73.86,260.0 73.90,261.4 73.94,262.0 73.99,259.3 74.03,257.0 74.07,261.5 74.11,255.2 74.15,258.2 74.19,258.8 74.24,259.6 74.28,257.5 74.32,258.9 74.36,260.4 74.40,258.7 74.44,257.1 74.49,260.1 74.53,259.0 74.57,256.8 74.61,257.3 74.65,262.2 74.69,258.3 74.74,259.7 74.78,257.7 74.82,258.3 74.86,258.5 74.90,257.7 74.94,260.1 74.99,260.6 75.03,260.2 75.07,257.9 75.11,257.4 75.15,254.8 75.19,260.6 75.24,258.0 75.28,256.3 75.32,256.4 75.36,260.1 75.40,258.1 75.44,260.0 75.49,258.9 75.53,260.4 75.57,259.1 75.61,253.2 75.65,261.1 75.69,256.1 75.74,261.4 75.78,258.8 75.82,257.1 75.86,257.6 75.90,257.0 75.94,259.3 75.99,259.5 76.03,256.0 76.07,255.1 76.11,261.0 76.15,259.3 76.19,256.0 76.24,260.4 76.28,260.8 76.32,259.4 76.36,259.5 76.40,257.5 76.44,253.0 76.49,259.9 76.53,257.0 76.57,262.3 76.61,257.7 76.65,259.6 76.69,257.0 76.74,255.7 76.78,257.5 76.82,262.5 76.86,258.5 76.90,254.7 76.94,260.4 76.99,260.7 77.03,256.9 77.07,258.6 77.11,258.4 77.15,256.9 77.19,258.6 77.24,255.4 77.28,259.1 77.32,260.3 77.36,256.8 77.40,259.7 77.44,259.9 77.49,259.5 77.53,261.2 77.57,258.4 77.61,256.9 77.65,259.9 77.69,259.4 77.74,254.2 77.78,258.5 77.82,256.9 77.86,257.6 77.90,258.5 77.94,261.3 77.99,259.1 78.03,257.0 78.07,257.2 78.11,258.7 78.15,259.1 78.19,263.5 78.24,256.5 78.28,257.2 78.32,260.1 78.36,257.6 78.40,258.6 78.44,255.1 78.49,255.1 78.53,259.6 78.57,256.3 78.61,259.7 78.65,257.3 78.69,258.8 78.74,260.5 78.78,256.7 78.82,256.7 78.86,260.4 78.90,258.2 78.94,257.9 78.99,259.9 79.03,256.3 79.07,258.1 79.11,255.7 79.15,255.6 79.19,259.4 79.24,260.5 79.28,258.5 79.32,255.3 79.36,257.9 79.40,258.8 79.44,258.1 79.49,260.4 79.53,256.5 79.57,258.7 79.61,257.4 79.65,257.9 79.69,257.4 79.74,259.0 79.78,255.7 79.82,257.5 79.86,258.7 79.90,259.7 79.94,260.1 79.99,258.4 80.03,260.2 80.07,260.5 80.11,257.8 80.15,261.8 80.19,261.0 80.24,257.5 80.28,257.8 80.32,257.1 80.36,257.8 80.40,258.7 80.44,258.5 80.49,257.2 80.53,258.9 80.57,260.3 80.61,259.7 80.65,259.2 80.69,257.3 80.74,257.4 80.78,261.1 80.82,258.0 80.86,256.5 80.90,259.7 80.94,261.1 80.99,255.0 81.03,261.1 81.07,256.0 81.11,259.5 81.15,258.0 81.19,256.7 81.24,256.0 81.28,255.9 81.32,255.5 81.36,257.1 81.40,259.8 81.44,257.3 81.49,261.5 81.53,257.3 81.57,256.5 81.61,257.8 81.65,261.0 81.69,256.4 81.74,257.8 81.78,259.7 81.82,256.8 81.86,258.7 81.90,257.4 81.94,257.4 81.99,257.5 82.03,257.3 82.07,259.2 82.11,254.7 82.15,255.3 82.19,256.8 82.24,254.8 82.28,255.9 82.32,255.3 82.36,257.4 82.40,254.4 82.44,257.1 82.49,256.4 82.53,259.6 82.57,254.5 82.61,254.4 82.65,254.5 82.69,255.4 82.74,255.8 82.78,258.6 82.82,255.9 82.86,257.1 82.90,257.2 82.94,258.5 82.99,254.8 83.03,255.9 83.07,257.4 83.11,260.0 83.15,256.1 83.19,256.0 83.24,258.8 83.28,257.5 83.32,257.4 83.36,260.8 83.40,256.0 83.44,258.8 83.49,261.0 83.53,256.5 83.57,261.7 83.61,258.7 83.65,258.0 83.69,260.1 83.74,257.8 83.78,252.6 83.82,257.9 83.86,257.0 83.90,254.6 83.94,258.7 83.99,256.3 84.03,255.7 84.07,261.5 84.11,259.5 84.15,260.3 84.19,260.7 84.24,254.9 84.28,260.9 84.32,255.3 84.36,255.3 84.40,258.0 84.44,256.6 84.49,260.6 84.53,256.6 84.57,258.5 84.61,257.2 84.65,255.8 84.69,256.7 84.74,256.4 84.78,257.6 84.82,257.0 84.86,258.9 84.90,256.7 84.94,257.8 84.99,260.3 85.03,258.1 85.07,262.5 85.11,257.4 85.15,257.8 85.19,258.3 85.24,259.4 85.28,258.7 85.32,257.1 85.36,256.8 85.40,256.4 85.44,257.1 85.49,254.2 85.53,254.8 85.57,254.9 85.61,259.8 85.65,257.6 85.69,259.0 85.74,256.6 85.78,257.7 85.82,255.5 85.86,253.3 85.90,256.5 85.94,256.0 85.99,255.8 86.03,254.3 86.07,258.1 86.11,258.4 86.15,258.0 86.19,259.0 86.24,255.3 86.28,258.0 86.32,256.8 86.36,256.0 86.40,256.9 86.44,255.0 86.49,256.2 86.53,256.8 86.57,253.4 86.61,259.7 86.65,258.6 86.69,258.3 86.74,260.0 86.78,258.0 86.82,257.9 86.86,259.9 86.90,255.8 86.94,254.1 86.99,258.5 87.03,256.2 87.07,258.6 87.11,257.9 87.15,255.3 87.19,256.5 87.24,254.5 87.28,256.7 87.32,256.3 87.36,258.1 87.40,260.2 87.44,257.1 87.49,256.0 87.53,256.7 87.57,256.3 87.61,255.6 87.65,256.9 87.69,254.3 87.74,254.8 87.78,256.9 87.82,258.2 87.86,257.4 87.90,255.8 87.94,258.5 87.99,257.0 88.03,259.6 88.07,257.3 88.11,256.3 88.15,254.0 88.19,258.7 88.24,258.1 88.28,258.9 88.32,255.2 88.36,254.1 88.40,258.8 88.44,256.2 88.49,251.5 88.53,257.4 88.57,253.7 88.61,258.8 88.65,258.2 88.69,252.3 88.74,256.7 88.78,256.0 88.82,257.2 88.86,253.7 88.90,253.2 88.94,257.7 88.99,252.1 89.03,255.7 89.07,256.7 89.11,257.3 89.15,256.5 89.19,260.2 89.24,258.1 89.28,255.5 89.32,255.5 89.36,254.4 89.40,256.1 89.44,259.8 89.49,257.1 89.53,255.5 89.57,253.4 89.61,250.8 89.65,255.5 89.69,254.1 89.74,256.3 89.78,253.4 89.82,257.0 89.86,255.1 89.90,254.3 89.94,256.1 89.99,254.5 90.03,255.4 90.07,254.0 90.11,256.3 90.15,252.1 90.19,255.2 90.24,256.4 90.28,257.0 90.32,256.3 90.36,257.8 90.40,255.7 90.44,260.2 90.49,254.2 90.53,251.3 90.57,250.9 90.61,251.5 90.65,255.1 90.69,251.8 90.74,252.2 90.78,256.4 90.82,251.5 90.86,255.1 90.90,256.7 90.94,257.2 90.99,255.4 91.03,252.2 91.07,252.9 91.11,257.6 91.15,257.9 91.19,254.0 91.24,256.5 91.28,256.2 91.32,254.1 91.36,256.8 91.40,253.0 91.44,255.8 91.49,255.8 91.53,254.3 91.57,253.5 91.61,257.6 91.65,253.0 91.69,252.8 91.74,251.8 91.78,254.1 91.82,254.1 91.86,252.9 91.90,256.6 91.94,254.7 91.99,255.5 92.03,251.7 92.07,253.7 92.11,257.4 92.15,256.4 92.19,255.2 92.24,256.5 92.28,255.7 92.32,254.8 92.36,255.0 92.40,255.2 92.44,253.4 92.49,257.6 92.53,258.9 92.57,254.5 92.61,254.1 92.65,258.7 92.69,255.0 92.74,255.2 92.78,255.0 92.82,254.2 92.86,253.4 92.90,255.6 92.94,251.1 92.99,256.0 93.03,256.9 93.07,253.5 93.11,253.1 93.15,257.7 93.19,253.5 93.24,252.7 93.28,255.6 93.32,251.6 93.36,249.6 93.40,253.7 93.44,252.7 93.49,252.1 93.53,252.2 93.57,252.4 93.61,253.0 93.65,249.1 93.69,255.1 93.74,252.8 93.78,252.7 93.82,252.8 93.86,255.0 93.90,254.0 93.94,257.8 93.99,249.1 94.03,254.9 94.07,255.2 94.11,247.5 94.15,254.3 94.19,253.0 94.24,252.9 94.28,253.1 94.32,253.9 94.36,252.3 94.40,251.6 94.44,254.9 94.49,253.0 94.53,254.6 94.57,258.3 94.61,250.2 94.65,251.1 94.69,251.4 94.74,252.6 94.78,256.1 94.82,253.7 94.86,254.9 94.90,256.5 94.94,248.7 94.99,251.9 95.03,251.3 95.07,253.4 95.11,250.5 95.15,255.8 95.19,251.5 95.24,250.9 95.28,250.3 95.32,249.8 95.36,252.3 95.40,251.2 95.44,253.0 95.49,251.3 95.53,253.2 95.57,252.7 95.61,254.4 95.65,253.6 95.69,251.1 95.74,254.6 95.78,251.0 95.82,250.3 95.86,253.8 95.90,249.5 95.94,250.6 95.99,248.9 96.03,248.9 96.07,252.5 96.11,250.0 96.15,255.2 96.19,254.7 96.24,252.5 96.28,250.4 96.32,251.7 96.36,251.2 96.40,253.9 96.44,247.8 96.49,251.2 96.53,251.7 96.57,252.3 96.61,252.9 96.65,250.7 96.69,252.7 96.74,249.0 96.78,253.6 96.82,252.1 96.86,251.1 96.90,253.5 96.94,249.8 96.99,247.8 97.03,252.2 97.07,251.3 97.11,250.4 97.15,249.7 97.19,252.0 97.24,252.8 97.28,249.2 97.32,248.2 97.36,252.3 97.40,248.7 97.44,253.5 97.49,253.7 97.53,249.7 97.57,255.5 97.61,250.2 97.65,250.6 97.69,250.5 97.74,251.6 97.78,252.3 97.82,251.3 97.86,249.2 97.90,249.9 97.94,247.4 97.99,248.4 98.03,250.8 98.07,250.4 98.11,249.2 98.15,250.7 98.19,248.7 98.24,250.1 98.28,250.3 98.32,252.1 98.36,252.2 98.40,248.0 98.44,249.2 98.49,246.4 98.53,253.9 98.57,245.6 98.61,249.7 98.65,246.6 98.69,249.8 98.74,250.1 98.78,250.9 98.82,248.3 98.86,251.0 98.90,248.1 98.94,247.5 98.99,247.7 99.03,247.7 99.07,252.7 99.11,251.0 99.15,250.5 99.19,245.0 99.24,248.9 99.28,250.3 99.32,245.4 99.36,250.9 99.40,246.7 99.44,248.8 99.49,249.3 99.53,248.5 99.57,248.6 99.61,249.6 99.65,250.9 99.69,251.6 99.74,251.3 99.78,248.7 99.82,244.2 99.86,246.0 99.90,247.3 99.94,249.5 99.99,250.6 100.03,247.3 100.07,246.7 100.11,248.2 100.15,248.3 100.19,249.3 100.24,249.4 100.28,247.3 100.32,242.6 100.36,246.8 100.40,241.8 100.44,247.2 100.49,253.0 100.53,250.0 100.57,248.1 100.61,251.9 100.65,245.1 100.69,248.1 100.74,248.3 100.78,245.7 100.82,245.9 100.86,248.4 100.90,247.5 100.94,245.7 100.99,246.6 101.03,248.2 101.07,246.3 101.11,245.2 101.15,247.4 101.19,246.3 101.24,246.8 101.28,244.0 101.32,246.3 101.36,245.6 101.40,243.3 101.44,249.4 101.49,246.5 101.53,246.6 101.57,247.9 101.61,248.9 101.65,248.1 101.69,244.5 101.74,246.3 101.78,244.6 101.82,245.3 101.86,246.5 101.90,248.1 101.94,243.4 101.99,247.2 102.03,246.3 102.07,243.3 102.11,251.2 102.15,245.1 102.19,247.8 102.24,245.1 102.28,246.0 102.32,247.0 102.36,245.2 102.40,245.1 102.44,247.6 102.49,247.3 102.53,250.1 102.57,245.5 102.61,241.1 102.65,241.8 102.69,245.8 102.74,242.6 102.78,241.6 102.82,247.0 102.86,241.1 102.90,241.1 102.94,244.8 102.99,246.9 103.03,246.1 103.07,241.9 103.11,245.9 103.15,242.1 103.19,244.8 103.24,238.2 103.28,241.4 103.32,244.8 103.36,243.7 103.40,244.8 103.44,238.0 103.49,246.8 103.53,245.7 103.57,248.2 103.61,242.6 103.65,245.7 103.69,245.0 103.74,243.2 103.78,244.7 103.82,243.8 103.86,245.0 103.90,243.1 103.94,243.7 103.99,241.9 104.03,242.5 104.07,243.8 104.11,244.0 104.15,244.2 104.19,245.2 104.24,241.7 104.28,241.6 104.32,239.7 104.36,246.0 104.40,247.3 104.44,243.9 104.49,244.5 104.53,241.5 104.57,243.4 104.61,246.1 104.65,243.7 104.69,240.0 104.74,243.6 104.78,243.0 104.82,244.8 104.86,246.5 104.90,243.0 104.94,244.0 104.99,245.0 105.03,241.0 105.07,242.4 105.11,239.3 105.15,243.4 105.19,244.4 105.24,243.6 105.28,243.8 105.32,241.2 105.36,241.0 105.40,245.5 105.44,244.2 105.49,241.9 105.53,244.0 105.57,241.0 105.61,240.5 105.65,243.4 105.69,242.4 105.74,243.3 105.78,247.7 105.82,243.5 105.86,242.9 105.90,247.0 105.94,240.8 105.99,242.2 106.03,241.5 106.07,242.3 106.11,247.4 106.15,238.3 106.19,245.2 106.24,239.6 106.28,239.0 106.32,242.1 106.36,242.2 106.40,241.7 106.44,240.0 106.49,243.8 106.53,239.5 106.57,243.7 106.61,248.2 106.65,239.5 106.69,242.8 106.74,242.5 106.78,238.9 106.82,242.3 106.86,244.3 106.90,244.2 106.94,243.7 106.99,240.9 107.03,241.9 107.07,240.2 107.11,244.7 107.15,240.5 107.19,239.8 107.24,240.8 107.28,245.8 107.32,238.6 107.36,244.0 107.40,243.7 107.44,240.9 107.49,242.5 107.53,238.8 107.57,242.8 107.61,243.0 107.65,240.3 107.69,242.4 107.74,242.0 107.78,243.2 107.82,243.5 107.86,244.3 107.90,241.7 107.94,243.2 107.99,243.8 108.03,245.5 108.07,242.1 108.11,240.8 108.15,240.4 108.19,241.6 108.24,238.1 108.28,239.5 108.32,243.3 108.36,246.2 108.40,244.8 108.44,240.4 108.49,244.4 108.53,242.5 108.57,240.6 108.61,244.6 108.65,243.7 108.69,243.7 108.74,243.0 108.78,243.8 108.82,241.1 108.86,241.0 108.90,240.4 108.94,243.6 108.99,242.7 109.03,243.8 109.07,240.9 109.11,241.0 109.15,241.6 109.19,241.6 109.24,241.1 109.28,244.7 109.32,242.0 109.36,235.9 109.40,240.2 109.44,242.1 109.49,241.9 109.53,241.7 109.57,241.1 109.61,244.8 109.65,239.8 109.69,243.2 109.74,243.5 109.78,243.6 109.82,246.3 109.86,239.6 109.90,240.1 109.94,242.3 109.99,242.6 110.03,242.7 110.07,240.0 110.11,240.6 110.15,244.9 110.19,242.9 110.24,242.9 110.28,243.3 110.32,245.3 110.36,241.1 110.40,242.1 110.44,238.0 110.49,240.7 110.53,242.1 110.57,242.8 110.61,239.8 110.65,238.4 110.69,239.5 110.74,236.8 110.78,239.0 110.82,241.0 110.86,242.3 110.90,244.5 110.94,241.6 110.99,239.6 111.03,241.7 111.07,240.5 111.11,243.5 111.15,243.6 111.19,237.6 111.24,240.6 111.28,245.7 111.32,243.9 111.36,240.8 111.40,234.9 111.44,242.7 111.49,242.0 111.53,240.9 111.57,242.9 111.61,241.8 111.65,242.4 111.69,240.6 111.74,240.8 111.78,242.0 111.82,240.4 111.86,238.5 111.90,238.4 111.94,241.7 111.99,239.3 112.03,239.2 112.07,239.6 112.11,242.6 112.15,236.5 112.19,235.7 112.24,241.5 112.28,240.6 112.32,244.3 112.36,240.4 112.40,237.8 112.44,241.6 112.49,241.7 112.53,241.7 112.57,241.8 112.61,245.7 112.65,240.2 112.69,241.8 112.74,240.9 112.78,237.2 112.82,238.4 112.86,239.0 112.90,240.3 112.94,238.3 112.99,244.0 113.03,240.7 113.07,238.8 113.11,239.4 113.15,241.1 113.19,239.6 113.24,238.6 113.28,238.3 113.32,240.9 113.36,244.7 113.40,235.0 113.44,240.1 113.49,241.0 113.53,239.2 113.57,245.8 113.61,241.3 113.65,237.3 113.69,241.5 113.74,238.4 113.78,242.7 113.82,241.0 113.86,243.6 113.90,238.9 113.94,241.8 113.99,244.5 114.03,240.5 114.07,238.8 114.11,240.2 114.15,241.5 114.19,240.1 114.24,241.8 114.28,243.2 114.32,238.7 114.36,236.9 114.40,237.8 114.44,235.6 114.49,236.5 114.53,236.3 114.57,231.5 114.61,233.1 114.65,230.2 114.69,223.6 114.74,222.1 114.78,215.0 114.82,214.7 114.86,207.3 114.90,203.2 114.94,199.5 114.99,192.4 115.03,186.1 115.07,182.6 115.11,177.9 115.15,177.0 115.19,180.4 115.24,176.4 115.28,179.6 115.32,183.8 115.36,188.5 115.40,194.5 115.44,196.1 115.49,203.2 115.53,209.8 115.57,216.0 115.61,221.6 115.65,225.5 115.69,228.5 115.74,229.6 115.78,231.6 115.82,233.5 115.86,239.3 115.90,242.1 115.94,237.8 115.99,237.3 116.03,239.9 116.07,241.4 116.11,240.0 116.15,240.8 116.19,242.8 116.24,242.2 116.28,240.6 116.32,238.8 116.36,241.3 116.40,243.9 116.44,238.1 116.49,244.9 116.53,242.1 116.57,244.9 116.61,240.4 116.65,240.1 116.69,239.0 116.74,242.4 116.78,242.2 116.82,241.5 116.86,242.2 116.90,242.9 116.94,240.4 116.99,244.0 117.03,238.8 117.07,241.1 117.11,242.9 117.15,241.6 117.19,242.6 117.24,239.0 117.28,241.6 117.32,242.2 117.36,239.4 117.40,243.6 117.44,239.8 117.49,240.7 117.53,239.8 117.57,242.9 117.61,240.9 117.65,243.8 117.69,244.4 117.74,241.9 117.78,243.8 117.82,246.4 117.86,239.3 117.90,239.2 117.94,246.5 117.99,241.0 118.03,248.9 118.07,244.8 118.11,238.2 118.15,244.9 118.19,242.8 118.24,243.3 118.28,244.9 118.32,242.0 118.36,242.6 118.40,243.6 118.44,239.8 118.49,242.8 118.53,244.0 118.57,243.5 118.61,243.8 118.65,243.6 118.69,239.5 118.74,241.8 118.78,239.6 118.82,244.4 118.86,245.8 118.90,244.1 118.94,239.6 118.99,243.1 119.03,245.6 119.07,245.0 119.11,245.6 119.15,245.8 119.19,241.9 119.24,244.7 119.28,244.9 119.32,242.1 119.36,243.1 119.40,244.1 119.44,248.4 119.49,246.6 119.53,244.5 119.57,244.6 119.61,241.2 119.65,244.7 119.69,246.7 119.74,243.8 119.78,245.8 119.82,247.6 119.86,244.2 119.90,241.7 119.94,244.7 119.99,244.6 120.03,250.5 120.07,244.8 120.11,244.8 120.15,247.2 120.19,243.6 120.24,244.4 120.28,244.8 120.32,244.8 120.36,246.0 120.40,245.6 120.44,240.5 120.49,247.6 120.53,244.4 120.57,246.8 120.61,245.6 120.65,246.7 120.69,248.2 120.74,245.1 120.78,244.7 120.82,246.4 120.86,245.4 120.90,249.4 120.94,245.3 120.99,244.5 121.03,249.9 121.07,244.4 121.11,247.5 121.15,244.7 121.19,247.3 121.24,249.2 121.28,248.8 121.32,245.2 121.36,247.2 121.40,248.6 121.44,246.4 121.49,250.0 121.53,249.4 121.57,249.8 121.61,246.3 121.65,247.1 121.69,243.8 121.74,244.5 121.78,247.6 121.82,244.9 121.86,246.5 121.90,244.3 121.94,245.0 121.99,244.0 122.03,247.2 122.07,245.0 122.11,246.9 122.15,247.8 122.19,245.9 122.24,246.7 122.28,251.4 122.32,247.9 122.36,250.0 122.40,249.9 122.44,248.6 122.49,247.9 122.53,243.5 122.57,247.9 122.61,244.8 122.65,244.2 122.69,246.8 122.74,249.3 122.78,248.2 122.82,248.5 122.86,248.7 122.90,248.7 122.94,244.9 122.99,244.9 123.03,247.3 123.07,249.3 123.11,247.1 123.15,245.7 123.19,246.1 123.24,246.3 123.28,245.9 123.32,245.1 123.36,250.6 123.40,247.7 123.44,244.0 123.49,247.8 123.53,248.5 123.57,249.2 123.61,245.3 123.65,243.6 123.69,252.2 123.74,244.9 123.78,244.6 123.82,247.9 123.86,249.9 123.90,249.7 123.94,245.9 123.99,247.7 124.03,246.1 124.07,247.7 124.11,246.3 124.15,252.9 124.19,250.2 124.24,247.4 124.28,247.5 124.32,250.7 124.36,246.4 124.40,247.3 124.44,246.9 124.49,248.0 124.53,251.4 124.57,246.6 124.61,245.4 124.65,245.7 124.69,246.7 124.74,245.2 124.78,245.5 124.82,246.3 124.86,249.1 124.90,248.6 124.94,247.4 124.99,248.9 125.03,248.3 125.07,248.0 125.11,246.4 125.15,249.9 125.19,248.2 125.24,247.8 125.28,247.5 125.32,248.6 125.36,248.1 125.40,245.8 125.44,247.1 125.49,245.9 125.53,242.7 125.57,245.7 125.61,253.7 125.65,244.8 125.69,248.3 125.74,250.1 125.78,248.2 125.82,248.3 125.86,246.5 125.90,247.1 125.94,247.1 125.99,246.2 126.03,248.3 126.07,250.0 126.11,250.5 126.15,252.2 126.19,250.0 126.24,254.6 126.28,249.2 126.32,246.5 126.36,245.9 126.40,249.4 126.44,250.6 126.49,250.9 126.53,249.0 126.57,251.7 126.61,249.1 126.65,248.2 126.69,248.7 126.74,249.3 126.78,250.4 126.82,246.6 126.86,247.0 126.90,251.6 126.94,248.4 126.99,251.6 127.03,250.6 127.07,249.9 127.11,251.7 127.15,249.0 127.19,250.7 127.24,251.0 127.28,251.5 127.32,247.4 127.36,249.3 127.40,252.5 127.44,250.9 127.49,252.3 127.53,252.7 127.57,248.3 127.61,249.5 127.65,252.5 127.69,250.7 127.74,247.8 127.78,250.5 127.82,250.5 127.86,248.6 127.90,248.9 127.94,251.6 127.99,251.2 128.03,247.5 128.07,247.8 128.11,249.1 128.15,249.8 128.19,249.6 128.24,248.1 128.28,250.5 128.32,245.7 128.36,248.1 128.40,249.9 128.44,249.9 128.49,249.6 128.53,250.6 128.57,250.3 128.61,249.3 128.65,253.2 128.69,249.8 128.74,255.4 128.78,246.6 128.82,251.8 128.86,247.5 128.90,246.6 128.94,248.1 128.99,244.4 129.03,249.0 129.07,249.9 129.11,248.0 129.15,249.2 129.19,251.1 129.24,248.9 129.28,252.1 129.32,248.7 129.36,254.1 129.40,250.2 129.44,247.5 129.49,251.8 129.53,250.8 129.57,247.3 129.61,254.4 129.65,249.5 129.69,251.6 129.74,256.0 129.78,249.0 129.82,249.0 129.86,251.4 129.90,245.6 129.94,252.8 129.99,248.7 130.03,253.5 130.07,253.1 130.11,248.3 130.15,247.9 130.19,253.2 130.24,248.1 130.28,250.7 130.32,251.7 130.36,252.5 130.40,250.8 130.44,249.1 130.49,252.5 130.53,251.8 130.57,253.1 130.61,248.7 130.65,254.0 130.69,251.9 130.74,250.2 130.78,252.2 130.82,250.7 130.86,247.1 130.90,249.6 130.94,251.7 130.99,251.6 131.03,251.5 131.07,249.4 131.11,248.9 131.15,250.1 131.19,251.4 131.24,250.8 131.28,251.8 131.32,249.7 131.36,249.9 131.40,249.9 131.44,250.6 131.49,249.9 131.53,251.1 131.57,250.2 131.61,254.0 131.65,249.8 131.69,249.3 131.74,252.1 131.78,254.7 131.82,251.0 131.86,248.8 131.90,252.9 131.94,249.2 131.99,251.2 132.03,250.8 132.07,249.0 132.11,253.1 132.15,252.1 132.19,251.1 132.24,252.0 132.28,249.1 132.32,250.9 132.36,252.2 132.40,253.0 132.44,247.8 132.49,252.5 132.53,249.4 132.57,247.3 132.61,253.3 132.65,253.9 132.69,249.5 132.74,253.3 132.78,251.8 132.82,253.3 132.86,255.6 132.90,254.3 132.94,252.1 132.99,249.5 133.03,250.4 133.07,251.2 133.11,250.6 133.15,252.6 133.19,253.1 133.24,255.7 133.28,254.3 133.32,249.3 133.36,257.1 133.40,252.0 133.44,251.2 133.49,248.4 133.53,252.3 133.57,256.8 133.61,252.1 133.65,253.3 133.69,253.0 133.74,254.3 133.78,250.7 133.82,250.6 133.86,253.6 133.90,254.2 133.94,250.9 133.99,253.1 134.03,254.4 134.07,253.1 134.11,251.5 134.15,256.7 134.19,255.4 134.24,253.7 134.28,252.1 134.32,249.9 134.36,251.6 134.40,252.6 134.44,250.5 134.49,254.7 134.53,250.0 134.57,255.9 134.61,251.8 134.65,251.0 134.69,252.0 134.74,253.7 134.78,254.8 134.82,250.4 134.86,254.0 134.90,251.8 134.94,250.0 134.99,250.4 135.03,255.2 135.07,250.0 135.11,251.5 135.15,252.9 135.19,255.9 135.24,248.5 135.28,253.2 135.32,253.2 135.36,249.5 135.40,252.0 135.44,252.3 135.49,254.1 135.53,252.3 135.57,251.9 135.61,253.4 135.65,255.2 135.69,250.3 135.74,253.2 135.78,252.6 135.82,253.0 135.86,255.0 135.90,251.9 135.94,250.1 135.99,252.7 136.03,250.5 136.07,256.6 136.11,256.1 136.15,251.0 136.19,253.3 136.24,249.9 136.28,252.9 136.32,252.3 136.36,257.2 136.40,254.4 136.44,253.9 136.49,255.7 136.53,252.6 136.57,254.9 136.61,252.1 136.65,252.3 136.69,257.5 136.74,248.0 136.78,254.8 136.82,252.0 136.86,255.5 136.90,252.1 136.94,254.0 136.99,250.9 137.03,255.9 137.07,252.2 137.11,250.8 137.15,248.2 137.19,250.0 137.24,255.2 137.28,251.2 137.32,251.1 137.36,253.9 137.40,253.5 137.44,254.1 137.49,253.3 137.53,257.7 137.57,251.5 137.61,252.5 137.65,253.4 137.69,255.1 137.74,257.1 137.78,254.1 137.82,255.7 137.86,254.9 137.90,259.7 137.94,252.8 137.99,257.0 138.03,254.1 138.07,254.7 138.11,255.6 138.15,256.8 138.19,252.9 138.24,254.0 138.28,252.4 138.32,248.8 138.36,258.7 138.40,254.7 138.44,254.3 138.49,252.7 138.53,254.0 138.57,255.2 138.61,257.0 138.65,255.1 138.69,254.8 138.74,252.3 138.78,253.3 138.82,254.6 138.86,250.8 138.90,253.6 138.94,254.7 138.99,258.0 139.03,251.2 139.07,252.0 139.11,256.4 139.15,249.8 139.19,259.4 139.24,255.3 139.28,256.7 139.32,256.1 139.36,251.5 139.40,256.1 139.44,253.0 139.49,254.5 139.53,255.0 139.57,255.5 139.61,256.7 139.65,255.1 139.69,257.4 139.74,255.7 139.78,254.0 139.82,256.1 139.86,254.3 139.90,256.9 139.94,254.5 139.99,254.6 140.03,257.3 140.07,251.6 140.11,256.3 140.15,254.3 140.19,256.8 140.24,256.7 140.28,253.5 140.32,256.4 140.36,258.7 140.40,254.7 140.44,257.1 140.49,260.4 140.53,251.7 140.57,255.1 140.61,259.4 140.65,255.3 140.69,255.4 140.74,253.6 140.78,250.3 140.82,257.3 140.86,257.1 140.90,258.4 140.94,257.0 140.99,253.8 141.03,251.9 141.07,256.4 141.11,258.8 141.15,256.7 141.19,257.0 141.24,259.5 141.28,255.0 141.32,255.6 141.36,257.9 141.40,255.2 141.44,254.6 141.49,255.2 141.53,257.5 141.57,254.6 141.61,255.5 141.65,256.8 141.69,254.4 141.74,255.1 141.78,256.7 141.82,256.8 141.86,254.7 141.90,255.2 141.94,258.2 141.99,255.4 142.03,256.3 142.07,256.1 142.11,255.1 142.15,257.9 142.19,255.9 142.24,253.0 142.28,259.8 142.32,256.0 142.36,256.8 142.40,257.2 142.44,255.7 142.49,254.4 142.53,254.8 142.57,255.5 142.61,258.0 142.65,256.1 142.69,257.7 142.74,252.1 142.78,254.8 142.82,257.0 142.86,254.6 142.90,258.3 142.94,256.4 142.99,256.3 143.03,254.9 143.07,256.6 143.11,254.0 143.15,258.8 143.19,257.6 143.24,256.4 143.28,254.9 143.32,257.9 143.36,255.4 143.40,259.1 143.44,258.5 143.49,255.7 143.53,256.8 143.57,260.7 143.61,258.5 143.65,259.2 143.69,256.2 143.74,258.8 143.78,254.7 143.82,258.6 143.86,259.3 143.90,256.9 143.94,258.3 143.99,256.7 144.03,256.9 144.07,258.0 144.11,258.4 144.15,257.8 144.19,258.5 144.24,255.6 144.28,254.7 144.32,258.5 144.36,252.9 144.40,254.4 144.44,255.0 144.49,259.2 144.53,259.0 144.57,263.3 144.61,257.2 144.65,257.1 144.69,257.6 144.74,255.1 144.78,259.8 144.82,256.1 144.86,256.3 144.90,258.3 144.94,256.9 144.99,259.0 145.03,259.4 145.07,259.6 145.11,258.0 145.15,256.4 145.19,258.1 145.24,255.9 145.28,255.1 145.32,255.1 145.36,260.1 145.40,255.4 145.44,260.5 145.49,258.1 145.53,257.6 145.57,258.4 145.61,261.4 145.65,255.5 145.69,259.2 145.74,257.4 145.78,256.3 145.82,254.3 145.86,256.5 145.90,256.5 145.94,258.5 145.99,260.2 146.03,259.3 146.07,258.0 146.11,261.9 146.15,257.4 146.19,258.7 146.24,258.0 146.28,260.0 146.32,259.6 146.36,258.7 146.40,259.9 146.44,259.3 146.49,257.5 146.53,260.7 146.57,257.9 146.61,257.6 146.65,260.3 146.69,258.0 146.74,259.0 146.78,264.0 146.82,260.7 146.86,258.0 146.90,258.0 146.94,261.0 146.99,259.8 147.03,257.3 147.07,260.4 147.11,256.0 147.15,261.7 147.19,261.7 147.24,262.4 147.28,256.7 147.32,260.5 147.36,263.2 147.40,260.2 147.44,259.0 147.49,261.9 147.53,256.6 147.57,259.2 147.61,260.3 147.65,258.6 147.69,259.6 147.74,261.3 147.78,261.1 147.82,259.4 147.86,257.2 147.90,256.6 147.94,257.8 147.99,258.6 148.03,258.2 148.07,265.0 148.11,259.3 148.15,259.4 148.19,260.9 148.24,257.2 148.28,258.6 148.32,260.9 148.36,258.4 148.40,261.7 148.44,258.6 148.49,260.3 148.53,262.7 148.57,262.0 148.61,260.2 148.65,260.2 148.69,261.3 148.74,259.2 148.78,257.9 148.82,261.9 148.86,262.2 148.90,260.6 148.94,259.6 148.99,257.9 149.03,258.9 149.07,259.4 149.11,260.6 149.15,261.8 149.19,260.3 149.24,260.9 149.28,257.7 149.32,260.4 149.36,262.5 149.40,259.0 149.44,256.7 149.49,261.6 149.53,263.2 149.57,261.7 149.61,259.4 149.65,261.5 149.69,256.4 149.74,260.5 149.78,259.0 149.82,262.6 149.86,258.5 149.90,264.3 149.94,265.1 149.99,264.2 150.03,262.4 150.07,259.1 150.11,260.0 150.15,262.4 150.19,261.3 150.24,259.4 150.28,260.2 150.32,259.1 150.36,261.4 150.40,260.5 150.44,263.1 150.49,262.1 150.53,260.0 150.57,263.4 150.61,256.4 150.65,258.0 150.69,259.6 150.74,261.8 150.78,264.4 150.82,262.4 150.86,261.4 150.90,260.9 150.94,257.5 150.99,259.8 151.03,263.0 151.07,261.6 151.11,259.8 151.15,260.9 151.19,259.7 151.24,257.4 151.28,260.6 151.32,259.8 151.36,258.7 151.40,260.7 151.44,260.5 151.49,261.4 151.53,261.1 151.57,261.5 151.61,260.7 151.65,259.7 151.69,261.0 151.74,261.2 151.78,263.0 151.82,261.3 151.86,259.9 151.90,262.8 151.94,261.2 151.99,262.8 152.03,265.4 152.07,262.8 152.11,258.9 152.15,259.6 152.19,262.3 152.24,258.3 152.28,260.5 152.32,261.8 152.36,260.5 152.40,259.8 152.44,261.4 152.49,260.8 152.53,260.5 152.57,262.5 152.61,260.3 152.65,261.1 152.69,263.9 152.74,263.2 152.78,261.6 152.82,261.2 152.86,262.1 152.90,262.1 152.94,259.2 152.99,260.2 153.03,263.8 153.07,259.9 153.11,264.9 153.15,263.1 153.19,261.7 153.24,260.9 153.28,262.1 153.32,263.4 153.36,262.7 153.40,264.4 153.44,262.8 153.49,260.7 153.53,263.0 153.57,263.4 153.61,261.8 153.65,260.3 153.69,260.6 153.74,263.1 153.78,260.4 153.82,265.4 153.86,263.5 153.90,258.7 153.94,260.1 153.99,262.3 154.03,259.8 154.07,261.9 154.11,263.9 154.15,263.4 154.19,260.2 154.24,263.7 154.28,264.1 154.32,260.9 154.36,263.5 154.40,261.1 154.44,259.8 154.49,264.6 154.53,264.5 154.57,260.6 154.61,257.4 154.65,264.3 154.69,261.3 154.74,263.1 154.78,260.0 154.82,263.4 154.86,264.5 154.90,262.8 154.94,264.0 154.99,263.1 155.03,264.4 155.07,261.5 155.11,261.5 155.15,258.9 155.19,261.8 155.24,262.0 155.28,260.5 155.32,264.5 155.36,262.1 155.40,268.0 155.44,263.8 155.49,261.2 155.53,262.7 155.57,264.1 155.61,264.8 155.65,265.6 155.69,261.9 155.74,264.7 155.78,262.7 155.82,264.6 155.86,262.6 155.90,262.8 155.94,263.5 155.99,261.7 156.03,262.9 156.07,263.7 156.11,259.5 156.15,262.0 156.19,262.1 156.24,264.9 156.28,263.3 156.32,263.0 156.36,261.7 156.40,263.9 156.44,262.5 156.49,264.9 156.53,262.6 156.57,263.0 156.61,264.2 156.65,263.9 156.69,260.1 156.74,263.3 156.78,262.6 156.82,259.1 156.86,260.0 156.90,263.7 156.94,262.2 156.99,260.2 157.03,262.2 157.07,256.5 157.11,261.7 157.15,257.3 157.19,260.5 157.24,256.4 157.28,255.8 157.32,257.0 157.36,255.9 157.40,258.4 157.44,258.3 157.49,256.6 157.53,257.5 157.57,258.5 157.61,262.5 157.65,259.9 157.69,262.6 157.74,261.2 157.78,260.3 157.82,259.2 157.86,263.1 157.90,263.8 157.94,263.6 157.99,265.7 158.03,264.8 158.07,266.9 158.11,264.7 158.15,261.9 158.19,265.7 158.24,261.7 158.28,263.4 158.32,261.3 158.36,265.4 158.40,266.4 158.44,261.2 158.49,262.1 158.53,262.4 158.57,260.2 158.61,263.5 158.65,263.2 158.69,261.1 158.74,259.5 158.78,261.0 158.82,264.2 158.86,260.9 158.90,263.7 158.94,264.2 158.99,265.1 159.03,263.6 159.07,264.2 159.11,266.5 159.15,262.7 159.19,263.8 159.24,266.2 159.28,261.7 159.32,265.0 159.36,259.0 159.40,260.9 159.44,260.9 159.49,263.5 159.53,263.9 159.57,259.6 159.61,267.4 159.65,267.9 159.69,266.3 159.74,263.6 159.78,264.9 159.82,262.7 159.86,263.0 159.90,262.6 159.94,264.6 159.99,263.1 160.03,263.2 160.07,267.4 160.11,263.5 160.15,265.3 160.19,264.9 160.24,263.3 160.28,263.4 160.32,266.3 160.36,263.2 160.40,265.5 160.44,263.4 160.49,263.5 160.53,267.0 160.57,261.0 160.61,262.9 160.65,263.1 160.69,265.0 160.74,263.0 160.78,264.5 160.82,265.5 160.86,267.9 160.90,266.1 160.94,261.7 160.99,267.5 161.03,264.3 161.07,262.5 161.11,264.8 161.15,262.5 161.19,263.6 161.24,262.7 161.28,263.4 161.32,259.7 161.36,266.7 161.40,264.5 161.44,265.9 161.49,265.1 161.53,264.2 161.57,266.9 161.61,266.8 161.65,263.7 161.69,265.9 161.74,263.8 161.78,263.5 161.82,265.2 161.86,264.6 161.90,264.2 161.94,260.7 161.99,262.9 162.03,264.6 162.07,265.8 162.11,265.7 162.15,263.4 162.19,265.4 162.24,262.2 162.28,265.3 162.32,267.9 162.36,264.1 162.40,262.6 162.44,266.5 162.49,264.3 162.53,264.5 162.57,265.5 162.61,263.9 162.65,265.9 162.69,263.2 162.74,263.1 162.78,265.1 162.82,265.4 162.86,265.0 162.90,265.8 162.94,264.5 162.99,263.4 163.03,265.5 163.07,261.7 163.11,264.6 163.15,266.4 163.19,265.7 163.24,266.7 163.28,264.2 163.32,264.2 163.36,263.8 163.40,263.7 163.44,265.0 163.49,266.5 163.53,264.6 163.57,267.6 163.61,265.6 163.65,260.9 163.69,265.9 163.74,263.8 163.78,264.9 163.82,263.4 163.86,263.7 163.90,268.5 163.94,266.7 163.99,264.1 164.03,263.4 164.07,264.1 164.11,263.6 164.15,265.9 164.19,266.9 164.24,261.9 164.28,265.6 164.32,264.7 164.36,264.3 164.40,266.3 164.44,263.4 164.49,263.3 164.53,264.7 164.57,263.5 164.61,263.9 164.65,266.4 164.69,262.5 164.74,267.2 164.78,267.4 164.82,264.3 164.86,266.1 164.90,263.0 164.94,264.4 164.99,264.1 165.03,263.4 165.07,266.7 165.11,265.7 165.15,266.8 165.19,262.1 165.24,264.8 165.28,264.2 165.32,262.2 165.36,267.0 165.40,265.2 165.44,265.7 165.49,267.8 165.53,264.1 165.57,268.0 165.61,261.7 165.65,267.7 165.69,266.6 165.74,262.9 165.78,262.8 165.82,269.9 165.86,264.0 165.90,267.4 165.94,265.9 165.99,265.4 166.03,264.9 166.07,262.9 166.11,263.0 166.15,263.7 166.19,266.9 166.24,261.6 166.28,263.2 166.32,265.9 166.36,265.0 166.40,264.2 166.44,263.3 166.49,261.9 166.53,263.7 166.57,263.0 166.61,264.2 166.65,263.3 166.69,262.3 166.74,267.6 166.78,261.2 166.82,266.6 166.86,264.3 166.90,264.0 166.94,262.8 166.99,263.3 167.03,264.3 167.07,261.2 167.11,267.0 167.15,265.4 167.19,265.0 167.24,265.0 167.28,267.1 167.32,265.0 167.36,266.5 167.40,263.9 167.44,268.3 167.49,263.9 167.53,263.1 167.57,263.8 167.61,266.8 167.65,268.0 167.69,265.8 167.74,269.0 167.78,263.2 167.82,263.7 167.86,264.2 167.90,267.5 167.94,263.4 167.99,265.1 168.03,262.9 168.07,265.5 168.11,263.5 168.15,270.4 168.19,266.6 168.24,264.2 168.28,266.7 168.32,265.0 168.36,264.0 168.40,266.1 168.44,262.4 168.49,267.9 168.53,267.5 168.57,263.1 168.61,264.9 168.65,261.6 168.69,266.2 168.74,265.7 168.78,265.6 168.82,264.2 168.86,265.1 168.90,263.9 168.94,264.7 168.99,263.9 169.03,264.0 169.07,263.9 169.11,260.4 169.15,263.7 169.19,266.8 169.24,267.9 169.28,264.1 169.32,265.3 169.36,267.6 169.40,262.2 169.44,265.9 169.49,262.0 169.53,265.9 169.57,264.8 169.61,265.0 169.65,264.8 169.69,268.8 169.74,260.3 169.78,262.6 169.82,265.6 169.86,265.7 169.90,263.8 169.94,265.9 169.99,265.2 170.03,265.4 170.07,267.4 170.11,263.6 170.15,265.6 170.19,267.0 170.24,264.2 170.28,267.6 170.32,263.6 170.36,262.1 170.40,263.2 170.44,265.4 170.49,267.2 170.53,264.5 170.57,265.2 170.61,265.2 170.65,266.4 170.69,263.4 170.74,265.0 170.78,263.5 170.82,266.1 170.86,266.8 170.90,261.0 170.94,265.7 170.99,264.9 171.03,266.6 171.07,263.9 171.11,265.3 171.15,263.0 171.19,266.8 171.24,269.6 171.28,265.8 171.32,268.2 171.36,268.2 171.40,264.8 171.44,265.5 171.49,265.6 171.53,267.3 171.57,264.1 171.61,266.7 171.65,263.8 171.69,266.6 171.74,265.3 171.78,262.2 171.82,264.6 171.86,266.3 171.90,265.1 171.94,265.8 171.99,269.6 172.03,263.0 172.07,264.0 172.11,263.9 172.15,265.4 172.19,264.5 172.24,265.0 172.28,263.8 172.32,264.0 172.36,269.0 172.40,270.1 172.44,265.1 172.49,265.6 172.53,262.3 172.57,264.7 172.61,266.8 172.65,266.2 172.69,265.0 172.74,268.9 172.78,270.7 172.82,265.1 172.86,263.5 172.90,266.6 172.94,267.1 172.99,263.9 173.03,265.4 173.07,267.5 173.11,266.2 173.15,263.9 173.19,267.2 173.24,263.9 173.28,268.4 173.32,265.5 173.36,262.0 173.40,263.9 173.44,267.0 173.49,268.9 173.53,266.2 173.57,265.0 173.61,269.8 173.65,263.1 173.69,267.5 173.74,262.7 173.78,262.3 173.82,263.5 173.86,267.1 173.90,266.0 173.94,265.2 173.99,266.3 174.03,264.2 174.07,268.4 174.11,265.8 174.15,266.6 174.19,263.1 174.24,265.4 174.28,263.3 174.32,266.9 174.36,262.5 174.40,267.0 174.44,267.6 174.49,266.7 174.53,268.0 174.57,268.5 174.61,265.0 174.65,264.7 174.69,264.7 174.74,265.6 174.78,265.2 174.82,265.2 174.86,268.8 174.90,265.8 174.94,264.8 174.99,268.4 175.03,263.5 175.07,265.5 175.11,266.7 175.15,266.9 175.19,263.3 175.24,263.1 175.28,263.4 175.32,264.1 175.36,267.8 175.40,265.5 175.44,266.3 175.49,264.1 175.53,264.7 175.57,266.8 175.61,266.3 175.65,265.1 175.69,267.5 175.74,264.6 175.78,264.6 175.82,264.8 175.86,264.5 175.90,267.2 175.94,262.9 175.99,266.5 176.03,262.2 176.07,262.4 176.11,265.7 176.15,266.2 176.19,265.4 176.24,261.9 176.28,267.9 176.32,267.7 176.36,264.1 176.40,268.1 176.44,264.6 176.49,265.8 176.53,264.2 176.57,263.8 176.61,262.9 176.65,265.2 176.69,266.9 176.74,265.0 176.78,266.9 176.82,267.3 176.86,268.5 176.90,267.6 176.94,265.8 176.99,266.2 177.03,265.5 177.07,264.2 177.11,263.5 177.15,268.9 177.19,264.1 177.24,266.8 177.28,268.5 177.32,266.2 177.36,264.8 177.40,266.5 177.44,268.7 177.49,264.1 177.53,264.2 177.57,264.9 177.61,267.3 177.65,267.3 177.69,264.8 177.74,266.0 177.78,267.5 177.82,263.6 177.86,265.6 177.90,266.6 177.94,267.1 177.99,267.1 178.03,263.2 178.07,265.7 178.11,264.8 178.15,266.3 178.19,266.7 178.24,265.7 178.28,266.3 178.32,269.9 178.36,269.3 178.40,267.6 178.44,266.0 178.49,269.7 178.53,264.7 178.57,262.6 178.61,265.5 178.65,264.2 178.69,261.6 178.74,263.9 178.78,265.1 178.82,265.1 178.86,266.6 178.90,267.0 178.94,267.0 178.99,263.8 179.03,267.3 179.07,268.9 179.11,265.5 179.15,265.5 179.19,266.8 179.24,267.0 179.28,266.0 179.32,266.7 179.36,264.2 179.40,262.6 179.44,264.8 179.49,265.2 179.53,265.8 179.57,264.9 179.61,264.2 179.65,266.3 179.69,266.8 179.74,265.4 179.78,265.2 179.82,266.0 179.86,264.9 179.90,266.8 179.94,264.9 179.99,262.4 180.03,269.3 180.07,266.7 180.11,267.6 180.15,265.6 180.19,265.7 180.24,266.1 180.28,266.2 180.32,265.7 180.36,264.4 180.40,267.1 180.44,266.1 180.49,269.6 180.53,264.5 180.57,265.3 180.61,265.9 180.65,262.5 180.69,264.4 180.74,262.4 180.78,264.8 180.82,266.3 180.86,266.3 180.90,268.0 180.94,266.5 180.99,267.9 181.03,267.0 181.07,262.0 181.11,266.3 181.15,263.2 181.19,267.3 181.24,268.4 181.28,268.6 181.32,266.7 181.36,266.1 181.40,263.6 181.44,267.5 181.49,266.5 181.53,265.6 181.57,263.7 181.61,263.6 181.65,265.2 181.69,267.6 181.74,266.1 181.78,264.5 181.82,267.6 181.86,268.1 181.90,266.6 181.94,265.7 181.99,266.6 182.03,265.9 182.07,267.1 182.11,264.1 182.15,268.4 182.19,266.2 182.24,270.4 182.28,262.3 182.32,264.6 182.36,263.4 182.40,266.2 182.44,266.9 182.49,265.1 182.53,266.5 182.57,266.5 182.61,264.7 182.65,266.1 182.69,264.0 182.74,265.3 182.78,265.1 182.82,264.9 182.86,264.2 182.90,266.8 182.94,266.1 182.99,269.4 183.03,262.3 183.07,266.0 183.11,266.3 183.15,267.2 183.19,266.6 183.24,270.4 183.28,264.8 183.32,263.2 183.36,267.2 183.40,264.6 183.44,266.5 183.49,265.6 183.53,270.0 183.57,264.4 183.61,269.1 183.65,267.0 183.69,266.6 183.74,266.4 183.78,264.3 183.82,266.3 183.86,266.5 183.90,265.6 183.94,263.9 183.99,265.2 184.03,265.8 184.07,265.9 184.11,263.6 184.15,266.5 184.19,268.3 184.24,266.0 184.28,268.9 184.32,266.8 184.36,265.4 184.40,264.4 184.44,264.0 184.49,264.9 184.53,265.9 184.57,264.3 184.61,265.8 184.65,269.5 184.69,262.7 184.74,266.8 184.78,266.5 184.82,267.0 184.86,266.9 184.90,266.3 184.94,265.7 184.99,265.9 185.03,264.6 185.07,265.0 185.11,266.5 185.15,266.4 185.19,266.6 185.24,265.0 185.28,264.1 185.32,270.2 185.36,267.2 185.40,268.0 185.44,266.8 185.49,267.7 185.53,268.2 185.57,268.9 185.61,266.3 185.65,267.3 185.69,267.9 185.74,263.5 185.78,266.4 185.82,267.1 185.86,264.7 185.90,265.3 185.94,268.5 185.99,267.2 186.03,266.3 186.07,265.4 186.11,266.7 186.15,271.5 186.19,266.7 186.24,264.6 186.28,263.4 186.32,268.4 186.36,267.3 186.40,264.7 186.44,269.0 186.49,268.8 186.53,265.1 186.57,265.1 186.61,267.2 186.65,266.4 186.69,267.4 186.74,268.4 186.78,265.4 186.82,267.0 186.86,264.1 186.90,267.6 186.94,268.4 186.99,261.4 187.03,264.3 187.07,267.1 187.11,263.5 187.15,266.5 187.19,267.5 187.24,266.7 187.28,267.7 187.32,266.3 187.36,268.4 187.40,265.9 187.44,265.6 187.49,264.8 187.53,263.2 187.57,266.2 187.61,266.5 187.65,266.1 187.69,264.7 187.74,265.7 187.78,268.3 187.82,266.8 187.86,268.7 187.90,267.3 187.94,265.7 187.99,270.5 188.03,264.8 188.07,263.5 188.11,265.3 188.15,266.9 188.19,267.9 188.24,267.0 188.28,265.5 188.32,269.1 188.36,267.2 188.40,266.9 188.44,265.7 188.49,269.7 188.53,268.9 188.57,265.0 188.61,268.8 188.65,267.1 188.69,266.1 188.74,268.7 188.78,265.4 188.82,266.8 188.86,268.9 188.90,267.0 188.94,264.1 188.99,265.4 189.03,267.1 189.07,265.3 189.11,266.7 189.15,267.9 189.19,265.6 189.24,264.3 189.28,267.3 189.32,269.7 189.36,266.4 189.40,267.4 189.44,267.7 189.49,267.3 189.53,264.4 189.57,267.5 189.61,267.7 189.65,265.3 189.69,267.5 189.74,265.2 189.78,264.7 189.82,265.1 189.86,268.7 189.90,268.3 189.94,267.0 189.99,269.7 190.03,265.3 190.07,268.3 190.11,265.9 190.15,262.9 190.19,268.2 190.24,267.2 190.28,264.1 190.32,266.0 190.36,267.6 190.40,266.0 190.44,268.1 190.49,263.9 190.53,270.7 190.57,266.4 190.61,265.3 190.65,265.7 190.69,265.5 190.74,263.7 190.78,264.6 190.82,267.0 190.86,268.2 190.90,264.5 190.94,267.4 190.99,265.9 191.03,270.7 191.07,267.8 191.11,268.1 191.15,267.3 191.19,267.6 191.24,266.3 191.28,265.3 191.32,269.7 191.36,269.3 191.40,268.6 191.44,264.7 191.49,266.6 191.53,267.8 191.57,266.5 191.61,263.0 191.65,265.9 191.69,263.2 191.74,263.2 191.78,265.7 191.82,259.0 191.86,265.6 191.90,260.9 191.94,261.2 191.99,261.1 192.03,260.1 192.07,259.8 192.11,258.5 192.15,260.0 192.19,257.8 192.24,259.8 192.28,260.3 192.32,260.4 192.36,263.7 192.40,261.9 192.44,261.9 192.49,267.5 192.53,266.9 192.57,265.9 192.61,264.8 192.65,268.5 192.69,266.6 192.74,266.0 192.78,266.2 192.82,268.2 192.86,267.2 192.90,265.6 192.94,262.8 192.99,268.1 193.03,266.9 193.07,268.3 193.11,267.2 193.15,268.6 193.19,267.7 193.24,266.7 193.28,266.5 193.32,263.3 193.36,264.0 193.40,270.5 193.44,265.2 193.49,265.5 193.53,270.5 193.57,267.3 193.61,263.1 193.65,262.1 193.69,263.6 193.74,266.0 193.78,268.3 193.82,267.6 193.86,265.8 193.90,268.3 193.94,264.2 193.99,266.1 194.03,268.8 194.07,271.8 194.11,265.5 194.15,264.8 194.19,267.2 194.24,267.2 194.28,268.2 194.32,267.8 194.36,269.8 194.40,270.3 194.44,268.1 194.49,265.0 194.53,266.4 194.57,267.2 194.61,266.4 194.65,269.1 194.69,268.1 194.74,267.4 194.78,266.9 194.82,268.6 194.86,265.5 194.90,264.7 194.94,266.1 194.99,265.0 195.03,265.9 195.07,262.4 195.11,266.7 195.15,265.6 195.19,268.2 195.24,268.6 195.28,267.9 195.32,264.0 195.36,267.2 195.40,267.4 195.44,264.8 195.49,267.7 195.53,265.3 195.57,264.1 195.61,267.6 195.65,265.9 195.69,270.7 195.74,267.3 195.78,265.9 195.82,267.1 195.86,266.9 195.90,266.6 195.94,265.2 195.99,265.4 196.03,269.7 196.07,265.4 196.11,269.9 196.15,265.4 196.19,268.4 196.24,266.9 196.28,269.4 196.32,267.1 196.36,267.0 196.40,265.9 196.44,267.3 196.49,268.0 196.53,268.5 196.57,266.6 196.61,266.8 196.65,266.6 196.69,263.1 196.74,267.3 196.78,264.7 196.82,267.0 196.86,265.9 196.90,266.0 196.94,266.8 196.99,264.6 197.03,266.9 197.07,269.8 197.11,269.8 197.15,270.2 197.19,269.1 197.24,267.7 197.28,270.5 197.32,266.9 197.36,268.6 197.40,268.0 197.44,267.3 197.49,265.4 197.53,267.5 197.57,270.4 197.61,267.6 197.65,266.4 197.69,267.4 197.74,266.3 197.78,266.9 197.82,265.5 197.86,268.4 197.90,266.4 197.94,266.7 197.99,266.9 198.03,264.1 198.07,269.7 198.11,270.1 198.15,265.8 198.19,271.7 198.24,267.1 198.28,266.2 198.32,267.5 198.36,267.8 198.40,266.0 198.44,267.8 198.49,264.7 198.53,268.4 198.57,265.8 198.61,264.3 198.65,266.9 198.69,264.7 198.74,268.7 198.78,269.8 198.82,264.9 198.86,266.1 198.90,264.8 198.94,264.8 198.99,265.3 199.03,266.8 199.07,264.3 199.11,268.4 199.15,271.1 199.19,265.1 199.24,267.0 199.28,266.0 199.32,262.3 199.36,263.4 199.40,270.2 199.44,266.9 199.49,269.9 199.53,267.1 199.57,268.6 199.61,269.0 199.65,266.1 199.69,269.6 199.74,269.4 199.78,266.5 199.82,267.1 199.86,264.9 199.90,270.0 199.94,265.3 199.99,267.1 200.03,266.0 200.07,266.2 200.11,268.7 200.15,267.4 200.19,269.1 200.24,267.0 200.28,269.1 200.32,265.1 200.36,265.7 200.40,261.9 200.44,269.3 200.49,268.9 200.53,264.6 200.57,265.3 200.61,266.8 200.65,265.1 200.69,269.4 200.74,270.2 200.78,267.5 200.82,267.6 200.86,266.6 200.90,264.6 200.94,264.2 200.99,265.7 201.03,266.8 201.07,269.2 201.11,265.7 201.15,267.8 201.19,270.6 201.24,270.5 201.28,268.9 201.32,268.8 201.36,262.6 201.40,266.2 201.44,267.5 201.49,267.1 201.53,268.5 201.57,268.9 201.61,268.1 201.65,265.1 201.69,266.2 201.74,265.3 201.78,269.1 201.82,267.8 201.86,269.4 201.90,267.4 201.94,265.1 201.99,266.8 202.03,265.2 202.07,264.4 202.11,264.1 202.15,268.8 202.19,266.5 202.24,265.1 202.28,265.9 202.32,267.0 202.36,266.7 202.40,266.5 202.44,266.0 202.49,268.4 202.53,266.3 202.57,270.3 202.61,265.4 202.65,261.9 202.69,265.4 202.74,268.0 202.78,267.6 202.82,268.3 202.86,268.5 202.90,270.3 202.94,266.1 202.99,269.1 203.03,267.4 203.07,266.7 203.11,270.0 203.15,269.8 203.19,264.2 203.24,268.8 203.28,268.7 203.32,264.8 203.36,265.8 203.40,266.7 203.44,266.8 203.49,269.0 203.53,269.3 203.57,264.7 203.61,262.2 203.65,265.6 203.69,267.8 203.74,267.7 203.78,269.7 203.82,269.5 203.86,269.3 203.90,265.1 203.94,269.7 203.99,265.5 204.03,270.2 204.07,269.0 204.11,268.2 204.15,268.6 204.19,268.3 204.24,266.9 204.28,264.7 204.32,268.8 204.36,268.3 204.40,268.3 204.44,266.7 204.49,269.0 204.53,266.1 204.57,264.8 204.61,269.2 204.65,266.7 204.69,266.0 204.74,266.4 204.78,270.0 204.82,267.8 204.86,266.4 204.90,265.3 204.94,265.6 204.99,266.9 205.03,264.5 205.07,266.5 205.11,266.6 205.15,264.9 205.19,266.4 205.24,265.5 205.28,267.3 205.32,270.0 205.36,270.5 205.40,265.3 205.44,266.9 205.49,268.2 205.53,266.5 205.57,264.4 205.61,265.8 205.65,265.4 205.69,265.1 205.74,267.4 205.78,267.0 205.82,265.5 205.86,270.0 205.90,266.7 205.94,270.2 205.99,266.5 206.03,267.5 206.07,266.4 206.11,266.7 206.15,265.3 206.19,264.7 206.24,265.3 206.28,268.4 206.32,268.6 206.36,268.6 206.40,264.7 206.44,269.8 206.49,267.9 206.53,265.3 206.57,266.6 206.61,266.9 206.65,267.5 206.69,263.4 206.74,264.3 206.78,268.2 206.82,268.0 206.86,265.4 206.90,266.9 206.94,268.7 206.99,267.2 207.03,266.5 207.07,263.9 207.11,265.0 207.15,267.9 207.19,267.1 207.24,267.8 207.28,265.1 207.32,262.7 207.36,265.9 207.40,266.2 207.44,266.5 207.49,269.6 207.53,269.5 207.57,267.7 207.61,267.2 207.65,267.7 207.69,266.8 207.74,269.1 207.78,264.2 207.82,268.6 207.86,267.7 207.90,266.6 207.94,264.2 207.99,267.7 208.03,265.1 208.07,264.9 208.11,266.8 208.15,266.7 208.19,267.0 208.24,265.7 208.28,267.0 208.32,270.2 208.36,267.1 208.40,265.4 208.44,265.6 208.49,265.9 208.53,269.7 208.57,268.0 208.61,269.7 208.65,267.8 208.69,270.1 208.74,263.8 208.78,264.2 208.82,267.5 208.86,268.0 208.90,265.0 208.94,266.4 208.99,266.2 209.03,268.3 209.07,265.5 209.11,265.1 209.15,266.0 209.19,265.6 209.24,267.3 209.28,267.0 209.32,268.6 209.36,266.0 209.40,266.4 209.44,265.5 209.49,270.9 209.53,265.7 209.57,268.2 209.61,268.1 209.65,265.3 209.69,268.5 209.74,267.9 209.78,265.7 209.82,264.3 209.86,266.4 209.90,266.2 209.94,265.3 209.99,265.5 210.03,267.9 210.07,265.7 210.11,265.1 210.15,267.3 210.19,269.6 210.24,265.2 210.28,265.0 210.32,269.6 210.36,263.3 210.40,266.5 210.44,269.5 210.49,266.9 210.53,266.0 210.57,267.2 210.61,268.3 210.65,265.8 210.69,267.1 210.74,266.2 210.78,267.9 210.82,267.6 210.86,265.9 210.90,266.9 210.94,267.5 210.99,269.4 211.03,267.1 211.07,265.7 211.11,267.3 211.15,270.8 211.19,269.5 211.24,269.7 211.28,264.7 211.32,270.8 211.36,268.1 211.40,267.8 211.44,267.3 211.49,268.2 211.53,263.6 211.57,269.0 211.61,264.7 211.65,270.3 211.69,267.8 211.74,266.0 211.78,265.4 211.82,266.8 211.86,270.0 211.90,267.2 211.94,267.4 211.99,265.7 212.03,270.0 212.07,266.7 212.11,266.0 212.15,267.9 212.19,266.1 212.24,266.8 212.28,264.2 212.32,264.3 212.36,268.2 212.40,265.7 212.44,268.1 212.49,268.0 212.53,268.5 212.57,268.4 212.61,269.2 212.65,266.9 212.69,266.6 212.74,269.1 212.78,265.2 212.82,265.5 212.86,264.9 212.90,265.8 212.94,269.5 212.99,269.7 213.03,266.4 213.07,264.6 213.11,265.8 213.15,267.6 213.19,270.1 213.24,266.8 213.28,269.0 213.32,268.7 213.36,264.6 213.40,269.3 213.44,269.6 213.49,268.3 213.53,267.1 213.57,269.5 213.61,268.3 213.65,267.6 213.69,268.1 213.74,270.0 213.78,265.5 213.82,266.9 213.86,266.4 213.90,267.8 213.94,267.6 213.99,266.6 214.03,267.8 214.07,267.1 214.11,269.6 214.15,269.3 214.19,267.2 214.24,267.4 214.28,266.6 214.32,265.6 214.36,267.8 214.40,268.7 214.44,263.3 214.49,264.7 214.53,268.2 214.57,268.5 214.61,263.9 214.65,263.2 214.69,262.2 214.74,266.3 214.78,264.3 214.82,263.5 214.86,262.0 214.90,264.7 214.94,262.5 214.99,265.9 215.03,263.2 215.07,265.4 215.11,265.2 215.15,264.9 215.19,264.5 215.24,268.6 215.28,268.1 215.32,264.4 215.36,269.5 215.40,264.3 215.44,267.9 215.49,268.3 215.53,267.1 215.57,265.4 215.61,265.6 215.65,268.9 215.69,265.9 215.74,267.4 215.78,267.7 215.82,266.2 215.86,265.4 215.90,265.1 215.94,266.6 215.99,269.2 216.03,267.2 216.07,266.9 216.11,270.5 216.15,269.9 216.19,268.9 216.24,268.2 216.28,268.4 216.32,269.2 216.36,267.9 216.40,269.1 216.44,267.8 216.49,269.2 216.53,264.9 216.57,265.5 216.61,270.1 216.65,269.8 216.69,265.9 216.74,265.5 216.78,269.3 216.82,267.0 216.86,267.6 216.90,269.9 216.94,268.4 216.99,267.6 217.03,269.8 217.07,264.4 217.11,266.3 217.15,272.5 217.19,268.8 217.24,270.3 217.28,265.9 217.32,271.0 217.36,265.1 217.40,268.5 217.44,268.0 217.49,265.8 217.53,268.5 217.57,262.3 217.61,268.9 217.65,267.4 217.69,266.2 217.74,264.8 217.78,265.0 217.82,265.3 217.86,265.5 217.90,267.4 217.94,264.7 217.99,266.1 218.03,264.1 218.07,271.1 218.11,268.3 218.15,262.6 218.19,268.6 218.24,272.3 218.28,267.9 218.32,268.3 218.36,268.4 218.40,270.9 218.44,271.4 218.49,268.0 218.53,263.8 218.57,267.3 218.61,264.4 218.65,264.8 218.69,269.3 218.74,267.1 218.78,266.7 218.82,268.4 218.86,268.9 218.90,265.9 218.94,270.2 218.99,265.9 219.03,268.7 219.07,266.9 219.11,267.2 219.15,266.9 219.19,269.3 219.24,269.1 219.28,267.5 219.32,269.6 219.36,265.0 219.40,268.3 219.44,265.0 219.49,262.4 219.53,264.5 219.57,269.0 219.61,267.2 219.65,267.7 219.69,265.9 219.74,266.1 219.78,265.3 219.82,267.2 219.86,267.8 219.90,267.4 219.94,267.4 219.99,267.1 220.03,267.6 220.07,268.7 220.11,265.9 220.15,268.4 220.19,269.5 220.24,265.0 220.28,266.1 220.32,266.8 220.36,265.6 220.40,266.6 220.44,266.4 220.49,270.5 220.53,268.0 220.57,270.3 220.61,267.2 220.65,267.5 220.69,267.3 220.74,267.1 220.78,272.4 220.82,269.8 220.86,267.8 220.90,263.7 220.94,266.7 220.99,269.3 221.03,268.1 221.07,267.0 221.11,269.1 221.15,268.1 221.19,266.2 221.24,267.9 221.28,268.9 221.32,268.9 221.36,267.3 221.40,266.5 221.44,267.4 221.49,268.7 221.53,268.1 221.57,269.6 221.61,266.9 221.65,267.5 221.69,267.2 221.74,268.3 221.78,265.6 221.82,269.9 221.86,267.1 221.90,270.2 221.94,270.2 221.99,265.1 222.03,268.1 222.07,268.6 222.11,267.5 222.15,268.7 222.19,266.0 222.24,269.4 222.28,268.1 222.32,267.2 222.36,263.1 222.40,269.1 222.44,265.0 222.49,270.2 222.53,269.5 222.57,265.2 222.61,264.9 222.65,268.4 222.69,270.0 222.74,268.1 222.78,268.1 222.82,267.9 222.86,270.7 222.90,268.6 222.94,265.4 222.99,270.2 223.03,269.5 223.07,267.6 223.11,267.3 223.15,270.3 223.19,268.8 223.24,267.3 223.28,269.9 223.32,267.0 223.36,267.3 223.40,264.5 223.44,267.0 223.49,272.6 223.53,264.7 223.57,265.2 223.61,269.5 223.65,266.3 223.69,269.4 223.74,270.8 223.78,267.1 223.82,266.6 223.86,269.7 223.90,268.7 223.94,270.5 223.99,267.3 224.03,268.6 224.07,266.5 224.11,265.6 224.15,265.8 224.19,265.9 224.24,270.6 224.28,269.4 224.32,267.9 224.36,267.5 224.40,267.4 224.44,270.0 224.49,267.7 224.53,264.6 224.57,267.4 224.61,264.3 224.65,266.8 224.69,266.2 224.74,264.4 224.78,264.5 224.82,267.6 224.86,268.6 224.90,268.5 224.94,266.0 224.99,266.0 225.03,267.9 225.07,269.4 225.11,269.4 225.15,267.8 225.19,265.9 225.24,268.9 225.28,268.3 225.32,266.7 225.36,265.7 225.40,266.7 225.44,269.8 225.49,270.1 225.53,267.1 225.57,268.1 225.61,270.6 225.65,265.2 225.69,266.8 225.74,267.3 225.78,268.3 225.82,264.7 225.86,268.5 225.90,265.0 225.94,269.3 225.99,267.5 226.03,266.8 226.07,269.3 226.11,267.8 226.15,266.0 226.19,269.4 226.24,267.2 226.28,268.2 226.32,270.1 226.36,265.1 226.40,269.0 226.44,269.3 226.49,271.7 226.53,264.3 226.57,269.2 226.61,271.8 226.65,268.4 226.69,267.8 226.74,267.1 226.78,264.6 226.82,270.2 226.86,265.4 226.90,264.3 226.94,269.2 226.99,269.6 227.03,269.3 227.07,269.3 227.11,266.0 227.15,267.6 227.19,267.1 227.24,266.1 227.28,268.4 227.32,265.8 227.36,267.4 227.40,270.4 227.44,267.5 227.49,267.4 227.53,269.2 227.57,265.5 227.61,268.3 227.65,269.9 227.69,268.8 227.74,266.4 227.78,269.3 227.82,267.0 227.86,269.2 227.90,265.9 227.94,265.7 227.99,270.6 228.03,267.4 228.07,267.4 228.11,265.4 228.15,266.8 228.19,270.4 228.24,268.7 228.28,267.7 228.32,264.3 228.36,269.2 228.40,268.5 228.44,269.9 228.49,266.9 228.53,268.7 228.57,266.7 228.61,265.1 228.65,264.2 228.69,269.1 228.74,267.1 228.78,267.6 228.82,264.8 228.86,270.8 228.90,266.7 228.94,264.4 228.99,265.3 229.03,266.6 229.07,269.5 229.11,268.5 229.15,268.6 229.19,266.4 229.24,269.2 229.28,267.7 229.32,269.6 229.36,266.3 229.40,266.6 229.44,266.1 229.49,266.5 229.53,266.2 229.57,268.7 229.61,266.9 229.65,264.9 229.69,266.9 229.74,266.5 229.78,264.6 229.82,268.0 229.86,268.0 229.90,267.7 229.94,270.4 229.99,264.9 230.03,268.9 230.07,268.2 230.11,265.9 230.15,270.1 230.19,265.6 230.24,268.1 230.28,268.8 230.32,267.1 230.36,266.5 230.40,269.4 230.44,269.9 230.49,266.8 230.53,270.1 230.57,268.4 230.61,265.6 230.65,269.2 230.69,267.6 230.74,267.0 230.78,268.5 230.82,268.5 230.86,266.4 230.90,266.8 230.94,269.0 230.99,269.2 231.03,271.0 231.07,267.8 231.11,268.1 231.15,266.4 231.19,271.5 231.24,268.3 231.28,268.7 231.32,270.2 231.36,269.2 231.40,266.5 231.44,267.3 231.49,270.0 231.53,268.5 231.57,267.0 231.61,267.5 231.65,269.9 231.69,265.7 231.74,267.6 231.78,270.0 231.82,269.8 231.86,266.0 231.90,267.7 231.94,268.6 231.99,268.4 232.03,267.5 232.07,266.9 232.11,267.4 232.15,268.2 232.19,268.0 232.24,271.0 232.28,268.6 232.32,269.3 232.36,269.1 232.40,267.4 232.44,269.5 232.49,266.9 232.53,269.9 232.57,269.2 232.61,267.0 232.65,269.5 232.69,267.2 232.74,269.4 232.78,266.1 232.82,268.4 232.86,270.4 232.90,267.0 232.94,264.4 232.99,266.5 233.03,268.9 233.07,267.8 233.11,265.1 233.15,267.0 233.19,267.1 233.24,264.3 233.28,267.1 233.32,267.7 233.36,267.1 233.40,267.1 233.44,270.3 233.49,265.4 233.53,266.9 233.57,270.0 233.61,268.2 233.65,265.4 233.69,268.7 233.74,263.4 233.78,267.0 233.82,268.9 233.86,265.5 233.90,269.2 233.94,268.1 233.99,267.9 234.03,272.7 234.07,269.4 234.11,268.2 234.15,264.9 234.19,265.2 234.24,267.2 234.28,268.1 234.32,269.1 234.36,266.2 234.40,267.1 234.44,268.9 234.49,265.2 234.53,267.8 234.57,269.7 234.61,267.3 234.65,268.3 234.69,268.2 234.74,268.8 234.78,268.8 234.82,267.7 234.86,267.3 234.90,267.4 234.94,269.1 234.99,266.4 235.03,270.4 235.07,263.4 235.11,269.0 235.15,271.1 235.19,268.3 235.24,269.2 235.28,268.7 235.32,273.1 235.36,269.8 235.40,270.8 235.44,267.1 235.49,268.2 235.53,267.3 235.57,267.5 235.61,266.9 235.65,268.3 235.69,266.5 235.74,269.6 235.78,268.3 235.82,269.3 235.86,266.9 235.90,268.9 235.94,272.6 235.99,269.8 236.03,269.3 236.07,269.8 236.11,270.5 236.15,270.7 236.19,267.2 236.24,267.5 236.28,268.7 236.32,270.9 236.36,269.9 236.40,267.4 236.44,269.3 236.49,269.2 236.53,267.5 236.57,267.1 236.61,264.9 236.65,265.6 236.69,266.4 236.74,271.3 236.78,268.5 236.82,270.1 236.86,268.7 236.90,267.9 236.94,271.1 236.99,268.0 237.03,269.7 237.07,268.7 237.11,267.0 237.15,267.3 237.19,269.3 237.24,267.5 237.28,270.5 237.32,267.6 237.36,269.4 237.40,268.3 237.44,268.1 237.49,269.1 237.53,267.7 237.57,267.1 237.61,267.1 237.65,268.6 237.69,268.6 237.74,270.4 237.78,268.9 237.82,269.8 237.86,269.9 237.90,268.0 237.94,270.2 237.99,267.3 238.03,264.9 238.07,263.2 238.11,267.9 238.15,270.2 238.19,267.5 238.24,263.2 238.28,270.7 238.32,270.7 238.36,266.8 238.40,269.0 238.44,270.7 238.49,267.0 238.53,267.0 238.57,268.8 238.61,269.7 238.65,268.2 238.69,269.0 238.74,268.9 238.78,269.1 238.82,269.0 238.86,266.6 238.90,264.8 238.94,267.4 238.99,266.8 239.03,264.5 239.07,270.7 239.11,267.0 239.15,269.9 239.19,266.8 239.24,268.8 239.28,268.8 239.32,268.9 239.36,267.9 239.40,267.8 239.44,268.2 239.49,273.2 239.53,270.7 239.57,266.9 239.61,268.0 239.65,266.1 239.69,271.3 239.74,269.8 239.78,267.9 239.82,266.2 239.86,266.5 239.90,267.5 239.94,267.4 239.99,267.6 240.03,267.8 240.07,266.0 240.11,268.5 240.15,267.9 240.19,269.1 240.24,265.4 240.28,269.0 240.32,269.3 240.36,267.8 240.40,265.4 240.44,265.1 240.49,266.1 240.53,266.5 240.57,266.6 240.61,265.6 240.65,262.4 240.69,264.8 240.74,265.3 240.78,264.5 240.82,266.3 240.86,267.8 240.90,264.0 240.94,267.3 240.99,265.2 241.03,265.3 241.07,266.8 241.11,270.9 241.15,268.8 241.19,267.5 241.24,270.1 241.28,268.3 241.32,269.0 241.36,266.3 241.40,266.4 241.44,265.6 241.49,269.9 241.53,265.8 241.57,270.8 241.61,265.8 241.65,268.3 241.69,268.7 241.74,266.2 241.78,264.7 241.82,267.3 241.86,271.2 241.90,270.9 241.94,265.9 241.99,268.4 242.03,267.9 242.07,270.4 242.11,269.0 242.15,266.7 242.19,272.4 242.24,269.8 242.28,266.9 242.32,270.5 242.36,269.9 242.40,270.6 242.44,266.3 242.49,268.7 242.53,267.1 242.57,268.1 242.61,268.0 242.65,269.1 242.69,266.6 242.74,270.3 242.78,267.6 242.82,269.1 242.86,268.2 242.90,268.9 242.94,269.8 242.99,267.7 243.03,270.0 243.07,267.6 243.11,269.1 243.15,268.2 243.19,267.2 243.24,264.3 243.28,266.9 243.32,267.2 243.36,267.5 243.40,270.7 243.44,266.6 243.49,269.5 243.53,273.2 243.57,266.8 243.61,269.2 243.65,269.8 243.69,268.5 243.74,268.8 243.78,269.7 243.82,272.9 243.86,267.2 243.90,269.4 243.94,268.8 243.99,272.3 244.03,271.3 244.07,272.0 244.11,269.5 244.15,269.2 244.19,268.6 244.24,267.8 244.28,267.1 244.32,269.2 244.36,269.9 244.40,269.1 244.44,265.7 244.49,269.5 244.53,273.5 244.57,268.4 244.61,266.6 244.65,270.9 244.69,266.7 244.74,268.8 244.78,269.1 244.82,267.6 244.86,266.9 244.90,269.1 244.94,266.5 244.99,269.2 245.03,269.4 245.07,266.5 245.11,269.9 245.15,266.3 245.19,269.0 245.24,267.2 245.28,266.4 245.32,267.6 245.36,268.8 245.40,269.8 245.44,269.7 245.49,267.0 245.53,268.4 245.57,263.8 245.61,270.0 245.65,268.5 245.69,268.3 245.74,268.1 245.78,265.1 245.82,269.1 245.86,268.8 245.90,268.4 245.94,270.4 245.99,268.3 246.03,267.6 246.07,270.6 246.11,268.2 246.15,267.0 246.19,264.6 246.24,267.8 246.28,267.8 246.32,266.6 246.36,269.4 246.40,265.6 246.44,268.4 246.49,268.7 246.53,270.4 246.57,268.6 246.61,268.1 246.65,270.4 246.69,271.1 246.74,269.0 246.78,267.0 246.82,269.5 246.86,266.5 246.90,270.9 246.94,269.1 246.99,267.0 247.03,272.0"/><polyline fill="none" stroke="#4a4a4a" stroke-width="0.6" points="46.24,315.9 46.28,319.5 46.32,315.9 46.36,320.7 46.40,320.7 46.44,317.5 46.49,321.7 46.53,319.6 46.57,320.1 46.61,320.8 46.65,317.7 46.69,319.3 46.74,317.3 46.78,320.6 46.82,317.8 46.86,322.4 46.90,321.8 46.94,318.2 46.99,319.4 47.03,319.4 47.07,322.6 47.11,320.8 47.15,320.2 47.19,324.6 47.24,320.1 47.28,320.3 47.32,319.8 47.36,320.7 47.40,317.5 47.44,322.9 47.49,317.8 47.53,316.8 47.57,322.0 47.61,322.7 47.65,320.2 47.69,318.6 47.74,315.4 47.78,321.9 47.82,318.2 47.86,320.9 47.90,319.0 47.94,322.0 47.99,318.7 48.03,321.0 48.07,319.3 48.11,319.6 48.15,318.4 48.19,322.8 48.24,316.4 48.28,321.9 48.32,318.3 48.36,319.5 48.40,322.6 48.44,317.6 48.49,322.6 48.53,319.5 48.57,322.3 48.61,322.3 48.65,322.8 48.69,319.8 48.74,321.3 48.78,319.3 48.82,320.9 48.86,319.9 48.90,322.5 48.94,326.5 48.99,322.8 49.03,318.6 49.07,320.8 49.11,320.5 49.15,317.9 49.19,318.6 49.24,322.0 49.28,318.0 49.32,325.5 49.36,317.4 49.40,320.7 49.44,324.6 49.49,322.0 49.53,323.0 49.57,316.9 49.61,320.2 49.65,318.0 49.69,319.7 49.74,321.6 49.78,319.3 49.82,323.1 49.86,319.1 49.90,321.5 49.94,320.2 49.99,319.2 50.03,318.8 50.07,320.1 50.11,324.2 50.15,318.7 50.19,322.3 50.24,316.7 50.28,322.7 50.32,319.7 50.36,320.6 50.40,322.3 50.44,321.3 50.49,322.3 50.53,321.2 50.57,322.0 50.61,318.6 50.65,320.6 50.69,320.9 50.74,318.5 50.78,322.4 50.82,322.2 50.86,319.4 50.90,321.5 50.94,322.5 50.99,320.6 51.03,322.8 51.07,323.1 51.11,319.4 51.15,323.6 51.19,324.8 51.24,320.3 51.28,323.2 51.32,318.0 51.36,317.0 51.40,321.9 51.44,319.7 51.49,323.7 51.53,325.7 51.57,321.4 51.61,320.7 51.65,323.4 51.69,323.5 51.74,323.4 51.78,320.3 51.82,323.3 51.86,322.5 51.90,319.2 51.94,321.1 51.99,324.2 52.03,321.1 52.07,318.7 52.11,323.6 52.15,324.0 52.19,321.3 52.24,322.0 52.28,323.0 52.32,320.4 52.36,322.8 52.40,325.3 52.44,324.0 52.49,322.7 52.53,321.6 52.57,327.3 52.61,318.9 52.65,322.3 52.69,321.1 52.74,320.7 52.78,322.2 52.82,322.0 52.86,325.7 52.90,326.2 52.94,325.3 52.99,324.1 53.03,321.9 53.07,321.8 53.11,326.2 53.15,324.1 53.19,319.0 53.24,321.9 53.28,320.0 53.32,323.2 53.36,325.1 53.40,325.8 53.44,322.9 53.49,323.1 53.53,322.7 53.57,319.8 53.61,322.0 53.65,322.9 53.69,323.8 53.74,324.3 53.78,323.0 53.82,324.3 53.86,320.0 53.90,323.6 53.94,323.2 53.99,327.2 54.03,322.1 54.07,325.9 54.11,323.2 54.15,323.8 54.19,324.2 54.24,325.3 54.28,320.4 54.32,319.5 54.36,326.2 54.40,325.3 54.44,326.2 54.49,323.0 54.53,326.5 54.57,319.8 54.61,319.2 54.65,318.8 54.69,326.3 54.74,324.2 54.78,324.9 54.82,322.8 54.86,321.9 54.90,324.9 54.94,321.7 54.99,323.6 55.03,324.0 55.07,327.4 55.11,326.4 55.15,324.8 55.19,324.7 55.24,320.4 55.28,325.9 55.32,325.1 55.36,325.5 55.40,324.0 55.44,324.0 55.49,325.8 55.53,323.9 55.57,322.9 55.61,324.6 55.65,324.5 55.69,323.2 55.74,321.4 55.78,326.8 55.82,320.9 55.86,327.4 55.90,324.7 55.94,324.6 55.99,324.1 56.03,324.0 56.07,322.9 56.11,324.1 56.15,323.3 56.19,326.3 56.24,321.3 56.28,323.3 56.32,323.5 56.36,328.4 56.40,326.1 56.44,325.6 56.49,327.6 56.53,323.7 56.57,323.1 56.61,326.6 56.65,324.5 56.69,327.1 56.74,329.8 56.78,325.8 56.82,327.4 56.86,325.1 56.90,324.9 56.94,325.9 56.99,328.7 57.03,326.0 57.07,328.4 57.11,325.2 57.15,324.3 57.19,324.5 57.24,326.3 57.28,325.1 57.32,324.2 57.36,326.1 57.40,325.3 57.44,328.0 57.49,324.3 57.53,328.9 57.57,327.9 57.61,328.3 57.65,327.4 57.69,329.4 57.74,326.4 57.78,324.8 57.82,322.6 57.86,327.9 57.90,328.1 57.94,327.0 57.99,326.0 58.03,327.4 58.07,327.0 58.11,324.2 58.15,328.9 58.19,326.1 58.24,325.9 58.28,327.1 58.32,329.8 58.36,325.2 58.40,326.0 58.44,325.5 58.49,324.5 58.53,322.7 58.57,327.8 58.61,325.2 58.65,327.3 58.69,329.8 58.74,326.8 58.78,326.6 58.82,325.1 58.86,326.8 58.90,324.1 58.94,323.4 58.99,324.8 59.03,326.6 59.07,325.7 59.11,326.1 59.15,325.1 59.19,324.8 59.24,327.8 59.28,328.5 59.32,328.8 59.36,328.2 59.40,326.5 59.44,321.4 59.49,326.4 59.53,328.6 59.57,323.6 59.61,323.0 59.65,327.0 59.69,325.6 59.74,325.5 59.78,328.7 59.82,327.1 59.86,326.0 59.90,325.5 59.94,325.5 59.99,328.5 60.03,326.9 60.07,329.3 60.11,323.1 60.15,328.3 60.19,326.9 60.24,327.0 60.28,328.5 60.32,324.9 60.36,326.6 60.40,326.9 60.44,328.3 60.49,327.2 60.53,327.1 60.57,323.7 60.61,326.6 60.65,326.9 60.69,328.0 60.74,323.6 60.78,328.0 60.82,329.1 60.86,328.4 60.90,327.9 60.94,327.8 60.99,326.7 61.03,324.0 61.07,326.2 61.11,327.6 61.15,326.0 61.19,328.6 61.24,328.6 61.28,324.2 61.32,328.5 61.36,330.9 61.40,325.7 61.44,328.5 61.49,329.3 61.53,325.1 61.57,328.1 61.61,329.3 61.65,326.4 61.69,328.5 61.74,328.2 61.78,329.4 61.82,325.9 61.86,328.7 61.90,331.4 61.94,324.6 61.99,329.0 62.03,331.4 62.07,328.9 62.11,329.1 62.15,329.0 62.19,326.3 62.24,324.8 62.28,325.9 62.32,327.7 62.36,328.6 62.40,326.7 62.44,329.7 62.49,330.1 62.53,326.9 62.57,327.4 62.61,323.2 62.65,327.6 62.69,328.2 62.74,332.1 62.78,326.8 62.82,330.7 62.86,329.7 62.90,329.2 62.94,329.7 62.99,330.0 63.03,328.3 63.07,330.1 63.11,324.1 63.15,328.5 63.19,328.6 63.24,331.3 63.28,329.5 63.32,327.7 63.36,327.2 63.40,326.9 63.44,330.3 63.49,327.1 63.53,328.3 63.57,324.7 63.61,326.6 63.65,326.9 63.69,331.6 63.74,328.5 63.78,326.9 63.82,328.0 63.86,333.3 63.90,328.1 63.94,330.5 63.99,326.7 64.03,327.8 64.07,327.2 64.11,327.3 64.15,332.0 64.19,327.5 64.24,329.8 64.28,326.7 64.32,327.4 64.36,328.0 64.40,329.6 64.44,328.5 64.49,326.2 64.53,327.2 64.57,328.7 64.61,326.8 64.65,330.1 64.69,326.2 64.74,326.0 64.78,329.2 64.82,332.4 64.86,332.8 64.90,331.5 64.94,327.4 64.99,330.0 65.03,324.7 65.07,327.4 65.11,333.8 65.15,330.2 65.19,329.4 65.24,328.9 65.28,329.6 65.32,329.2 65.36,325.6 65.40,333.6 65.44,329.0 65.49,328.3 65.53,327.5 65.57,327.2 65.61,329.1 65.65,329.7 65.69,326.6 65.74,328.8 65.78,326.7 65.82,332.9 65.86,331.5 65.90,327.9 65.94,329.3 65.99,329.7 66.03,326.9 66.07,331.8 66.11,330.0 66.15,326.9 66.19,328.1 66.24,328.8 66.28,327.6 66.32,327.0 66.36,327.3 66.40,326.2 66.44,331.5 66.49,329.4 66.53,325.5 66.57,327.5 66.61,329.1 66.65,329.8 66.69,331.2 66.74,329.7 66.78,331.9 66.82,330.9 66.86,330.0 66.90,328.7 66.94,333.7 66.99,330.4 67.03,329.3 67.07,329.8 67.11,330.3 67.15,330.9 67.19,329.7 67.24,325.9 67.28,330.3 67.32,326.7 67.36,330.7 67.40,331.4 67.44,330.2 67.49,329.7 67.53,328.3 67.57,327.7 67.61,326.2 67.65,330.7 67.69,331.3 67.74,328.4 67.78,330.9 67.82,330.7 67.86,329.6 67.90,326.3 67.94,330.5 67.99,329.4 68.03,333.2 68.07,330.2 68.11,328.5 68.15,332.7 68.19,329.6 68.24,328.8 68.28,328.8 68.32,329.5 68.36,330.3 68.40,328.8 68.44,329.2 68.49,327.9 68.53,327.9 68.57,329.7 68.61,328.8 68.65,330.2 68.69,328.9 68.74,327.5 68.78,328.7 68.82,329.9 68.86,332.3 68.90,329.8 68.94,327.5 68.99,329.8 69.03,326.2 69.07,330.7 69.11,325.8 69.15,332.6 69.19,330.6 69.24,330.8 69.28,330.8 69.32,328.5 69.36,330.6 69.40,332.0 69.44,330.3 69.49,328.5 69.53,332.1 69.57,331.5 69.61,329.3 69.65,332.8 69.69,331.7 69.74,330.2 69.78,327.1 69.82,331.8 69.86,327.6 69.90,330.3 69.94,326.9 69.99,327.3 70.03,330.6 70.07,324.9 70.11,331.0 70.15,333.7 70.19,330.6 70.24,329.2 70.28,327.9 70.32,328.4 70.36,331.7 70.40,330.2 70.44,329.5 70.49,332.5 70.53,329.8 70.57,329.2 70.61,327.4 70.65,331.5 70.69,327.4 70.74,330.1 70.78,329.5 70.82,331.8 70.86,332.9 70.90,333.4 70.94,329.9 70.99,328.1 71.03,326.2 71.07,334.1 71.11,331.6 71.15,329.4 71.19,332.1 71.24,328.5 71.28,331.2 71.32,328.6 71.36,327.6 71.40,329.5 71.44,329.9 71.49,332.0 71.53,329.4 71.57,333.6 71.61,330.0 71.65,329.9 71.69,327.4 71.74,330.0 71.78,331.6 71.82,328.6 71.86,329.4 71.90,329.2 71.94,331.6 71.99,333.1 72.03,328.9 72.07,330.6 72.11,330.3 72.15,326.9 72.19,331.7 72.24,329.3 72.28,330.4 72.32,328.0 72.36,331.3 72.40,326.8 72.44,331.7 72.49,332.7 72.53,329.8 72.57,327.6 72.61,332.6 72.65,329.2 72.69,328.7 72.74,334.3 72.78,328.1 72.82,328.9 72.86,329.7 72.90,330.0 72.94,327.6 72.99,333.5 73.03,326.7 73.07,328.6 73.11,330.3 73.15,330.4 73.19,328.3 73.24,327.9 73.28,329.4 73.32,328.1 73.36,330.1 73.40,327.5 73.44,329.0 73.49,331.9 73.53,330.4 73.57,332.0 73.61,332.1 73.65,331.5 73.69,329.9 73.74,329.9 73.78,328.0 73.82,334.1 73.86,333.2 73.90,325.9 73.94,332.7 73.99,328.3 74.03,327.7 74.07,329.1 74.11,328.5 74.15,328.6 74.19,327.4 74.24,333.8 74.28,331.3 74.32,332.9 74.36,330.2 74.40,329.1 74.44,330.1 74.49,324.5 74.53,326.8 74.57,326.4 74.61,328.7 74.65,333.8 74.69,330.6 74.74,331.4 74.78,331.9 74.82,330.0 74.86,329.1 74.90,325.8 74.94,328.6 74.99,328.5 75.03,329.1 75.07,331.1 75.11,328.2 75.15,331.2 75.19,330.7 75.24,331.3 75.28,328.5 75.32,334.2 75.36,330.0 75.40,329.0 75.44,333.0 75.49,332.4 75.53,330.9 75.57,329.9 75.61,329.4 75.65,330.1 75.69,331.6 75.74,329.0 75.78,332.2 75.82,328.8 75.86,330.8 75.90,331.3 75.94,329.5 75.99,331.3 76.03,330.9 76.07,328.4 76.11,328.4 76.15,330.0 76.19,332.7 76.24,333.4 76.28,328.1 76.32,330.3 76.36,332.2 76.40,330.2 76.44,332.4 76.49,329.1 76.53,328.4 76.57,329.1 76.61,329.3 76.65,330.0 76.69,324.4 76.74,327.6 76.78,329.5 76.82,328.9 76.86,333.1 76.90,329.8 76.94,328.9 76.99,330.7 77.03,333.0 77.07,326.5 77.11,329.2 77.15,329.1 77.19,329.6 77.24,331.9 77.28,330.3 77.32,331.0 77.36,331.4 77.40,328.7 77.44,327.2 77.49,329.2 77.53,329.5 77.57,328.8 77.61,328.8 77.65,329.2 77.69,330.0 77.74,330.5 77.78,331.8 77.82,330.2 77.86,329.2 77.90,329.3 77.94,329.7 77.99,329.7 78.03,330.3 78.07,331.5 78.11,328.4 78.15,331.2 78.19,326.7 78.24,330.8 78.28,331.6 78.32,327.9 78.36,331.6 78.40,330.1 78.44,329.9 78.49,329.9 78.53,330.7 78.57,327.5 78.61,329.9 78.65,327.3 78.69,328.4 78.74,330.6 78.78,326.4 78.82,331.1 78.86,330.7 78.90,327.9 78.94,328.3 78.99,328.4 79.03,329.3 79.07,332.3 79.11,333.3 79.15,328.9 79.19,328.2 79.24,328.3 79.28,329.6 79.32,329.4 79.36,330.7 79.40,332.9 79.44,327.4 79.49,329.8 79.53,325.2 79.57,328.4 79.61,328.4 79.65,326.7 79.69,331.1 79.74,327.9 79.78,329.5 79.82,329.5 79.86,330.3 79.90,328.2 79.94,326.1 79.99,332.1 80.03,329.3 80.07,328.4 80.11,332.3 80.15,326.1 80.19,330.0 80.24,325.9 80.28,330.2 80.32,330.3 80.36,327.4 80.40,327.4 80.44,329.3 80.49,329.7 80.53,330.0 80.57,329.0 80.61,329.1 80.65,329.7 80.69,330.8 80.74,333.6 80.78,329.1 80.82,330.8 80.86,328.8 80.90,328.6 80.94,333.1 80.99,329.0 81.03,332.8 81.07,330.9 81.11,331.8 81.15,327.3 81.19,326.6 81.24,333.0 81.28,328.8 81.32,328.5 81.36,329.2 81.40,329.4 81.44,326.2 81.49,332.2 81.53,329.1 81.57,331.1 81.61,332.9 81.65,330.4 81.69,327.5 81.74,330.7 81.78,328.7 81.82,329.7 81.86,329.6 81.90,329.5 81.94,327.2 81.99,325.9 82.03,330.4 82.07,327.8 82.11,330.2 82.15,328.1 82.19,328.6 82.24,331.5 82.28,326.3 82.32,328.2 82.36,329.7 82.40,329.7 82.44,327.9 82.49,328.7 82.53,326.0 82.57,332.5 82.61,327.5 82.65,330.2 82.69,326.8 82.74,328.0 82.78,327.7 82.82,327.4 82.86,327.4 82.90,330.3 82.94,328.3 82.99,326.3 83.03,331.1 83.07,330.7 83.11,329.5 83.15,329.8 83.19,329.5 83.24,327.2 83.28,330.7 83.32,329.7 83.36,329.3 83.40,330.1 83.44,329.4 83.49,327.5 83.53,330.6 83.57,327.4 83.61,326.2 83.65,331.1 83.69,327.6 83.74,329.0 83.78,331.4 83.82,329.1 83.86,329.8 83.90,327.3 83.94,327.1 83.99,326.7 84.03,329.6 84.07,328.0 84.11,327.7 84.15,329.6 84.19,326.4 84.24,329.9 84.28,330.9 84.32,330.6 84.36,331.5 84.40,328.9 84.44,327.4 84.49,328.9 84.53,327.9 84.57,326.4 84.61,330.5 84.65,328.3 84.69,330.1 84.74,330.9 84.78,323.6 84.82,326.7 84.86,327.6 84.90,329.2 84.94,327.1 84.99,329.6 85.03,329.1 85.07,328.0 85.11,328.9 85.15,326.1 85.19,326.6 85.24,329.6 85.28,326.3 85.32,329.0 85.36,329.3 85.40,326.9 85.44,326.0 85.49,330.5 85.53,331.2 85.57,332.7 85.61,329.6 85.65,330.3 85.69,326.3 85.74,327.4 85.78,329.6 85.82,327.2 85.86,328.9 85.90,331.2 85.94,327.9 85.99,328.2 86.03,327.9 86.07,329.4 86.11,329.8 86.15,329.3 86.19,326.8 86.24,326.5 86.28,330.5 86.32,332.8 86.36,330.6 86.40,333.2 86.44,327.2 86.49,329.3 86.53,324.9 86.57,330.6 86.61,329.2 86.65,326.8 86.69,326.2 86.74,327.1 86.78,329.0 86.82,327.7 86.86,327.5 86.90,326.6 86.94,328.6 86.99,328.3 87.03,328.0 87.07,325.3 87.11,330.5 87.15,325.9 87.19,328.4 87.24,328.6 87.28,327.6 87.32,327.3 87.36,330.0 87.40,325.8 87.44,330.3 87.49,324.7 87.53,326.5 87.57,328.7 87.61,330.9 87.65,333.5 87.69,324.4 87.74,326.1 87.78,328.9 87.82,330.0 87.86,328.3 87.90,331.8 87.94,328.8 87.99,326.5 88.03,325.1 88.07,326.2 88.11,328.8 88.15,328.4 88.19,322.3 88.24,327.4 88.28,327.5 88.32,326.9 88.36,327.4 88.40,324.1 88.44,328.3 88.49,323.3 88.53,325.8 88.57,331.4 88.61,325.6 88.65,325.1 88.69,328.2 88.74,328.4 88.78,331.8 88.82,326.0 88.86,328.3 88.90,324.6 88.94,328.2 88.99,328.0 89.03,326.2 89.07,329.7 89.11,328.0 89.15,328.9 89.19,327.5 89.24,327.5 89.28,327.0 89.32,327.8 89.36,329.2 89.40,324.8 89.44,327.4 89.49,327.4 89.53,325.3 89.57,325.6 89.61,331.7 89.65,327.0 89.69,326.3 89.74,327.3 89.78,329.1 89.82,322.3 89.86,324.3 89.90,326.2 89.94,328.2 89.99,327.2 90.03,326.1 90.07,325.4 90.11,325.1 90.15,327.7 90.19,323.7 90.24,322.2 90.28,323.8 90.32,326.5 90.36,329.1 90.40,324.6 90.44,325.6 90.49,323.8 90.53,326.4 90.57,325.9 90.61,327.8 90.65,324.5 90.69,324.9 90.74,327.0 90.78,324.7 90.82,324.6 90.86,328.1 90.90,325.1 90.94,327.8 90.99,323.3 91.03,326.7 91.07,327.3 91.11,323.3 91.15,325.5 91.19,322.0 91.24,329.0 91.28,325.2 91.32,324.2 91.36,323.8 91.40,328.8 91.44,326.4 91.49,327.6 91.53,326.4 91.57,325.4 91.61,326.2 91.65,325.2 91.69,326.1 91.74,322.1 91.78,325.6 91.82,326.5 91.86,324.9 91.90,326.0 91.94,326.2 91.99,323.0 92.03,324.4 92.07,327.2 92.11,319.7 92.15,326.3 92.19,327.6 92.24,325.7 92.28,328.5 92.32,326.0 92.36,326.7 92.40,327.3 92.44,324.8 92.49,321.3 92.53,324.6 92.57,327.0 92.61,323.5 92.65,322.7 92.69,322.6 92.74,328.1 92.78,323.9 92.82,322.8 92.86,323.3 92.90,325.2 92.94,323.8 92.99,325.6 93.03,323.8 93.07,324.0 93.11,325.0 93.15,327.6 93.19,322.7 93.24,321.1 93.28,327.5 93.32,327.0 93.36,323.6 93.40,325.8 93.44,324.5 93.49,325.6 93.53,321.2 93.57,324.6 93.61,327.8 93.65,323.3 93.69,322.1 93.74,324.5 93.78,322.3 93.82,326.3 93.86,321.6 93.90,319.1 93.94,325.5 93.99,324.8 94.03,326.3 94.07,322.2 94.11,322.4 94.15,323.0 94.19,326.7 94.24,322.2 94.28,323.7 94.32,324.5 94.36,322.7 94.40,325.1 94.44,325.5 94.49,319.5 94.53,326.9 94.57,323.5 94.61,323.9 94.65,326.1 94.69,322.8 94.74,325.6 94.78,325.7 94.82,322.1 94.86,325.8 94.90,325.8 94.94,322.4 94.99,324.3 95.03,324.2 95.07,318.8 95.11,321.0 95.15,323.0 95.19,321.2 95.24,324.4 95.28,320.6 95.32,322.4 95.36,321.0 95.40,324.1 95.44,324.1 95.49,322.3 95.53,323.4 95.57,325.3 95.61,322.3 95.65,324.2 95.69,324.8 95.74,320.6 95.78,320.2 95.82,319.4 95.86,323.1 95.90,322.3 95.94,325.8 95.99,321.5 96.03,323.7 96.07,322.4 96.11,320.2 96.15,321.5 96.19,325.1 96.24,318.0 96.28,324.7 96.32,321.4 96.36,321.9 96.40,320.7 96.44,322.8 96.49,322.3 96.53,321.9 96.57,321.2 96.61,316.1 96.65,321.9 96.69,321.7 96.74,322.6 96.78,324.0 96.82,321.5 96.86,322.7 96.90,322.6 96.94,323.3 96.99,324.4 97.03,324.0 97.07,322.3 97.11,319.9 97.15,324.8 97.19,323.2 97.24,324.4 97.28,319.4 97.32,319.3 97.36,318.3 97.40,322.2 97.44,320.4 97.49,324.4 97.53,320.0 97.57,322.2 97.61,322.7 97.65,321.0 97.69,322.2 97.74,321.6 97.78,320.8 97.82,322.1 97.86,319.0 97.90,323.0 97.94,321.8 97.99,323.2 98.03,317.3 98.07,321.0 98.11,319.9 98.15,320.3 98.19,317.4 98.24,319.0 98.28,319.9 98.32,321.4 98.36,319.2 98.40,317.6 98.44,319.9 98.49,319.1 98.53,319.3 98.57,320.3 98.61,321.3 98.65,318.2 98.69,321.0 98.74,322.2 98.78,319.6 98.82,321.3 98.86,318.7 98.90,318.7 98.94,319.4 98.99,317.4 99.03,318.3 99.07,317.6 99.11,318.9 99.15,319.5 99.19,321.4 99.24,318.8 99.28,318.6 99.32,321.1 99.36,320.8 99.40,317.7 99.44,317.5 99.49,318.0 99.53,319.3 99.57,319.4 99.61,315.2 99.65,318.8 99.69,318.0 99.74,320.5 99.78,317.6 99.82,315.6 99.86,320.1 99.90,321.4 99.94,322.1 99.99,317.7 100.03,318.6 100.07,317.8 100.11,315.7 100.15,320.1 100.19,323.2 100.24,319.9 100.28,316.5 100.32,319.5 100.36,318.3 100.40,319.9 100.44,316.4 100.49,315.6 100.53,315.9 100.57,318.7 100.61,313.5 100.65,313.1 100.69,316.3 100.74,317.9 100.78,318.4 100.82,316.6 100.86,315.5 100.90,318.8 100.94,317.2 100.99,313.8 101.03,317.1 101.07,315.3 101.11,314.3 101.15,317.1 101.19,318.5 101.24,313.3 101.28,316.0 101.32,317.2 101.36,320.1 101.40,314.6 101.44,317.1 101.49,315.9 101.53,319.8 101.57,318.6 101.61,318.2 101.65,315.3 101.69,319.9 101.74,316.8 101.78,314.3 101.82,312.8 101.86,316.3 101.90,315.0 101.94,317.5 101.99,317.4 102.03,317.7 102.07,319.3 102.11,314.3 102.15,314.7 102.19,312.9 102.24,313.5 102.28,314.2 102.32,312.3 102.36,318.9 102.40,313.5 102.44,316.2 102.49,314.4 102.53,313.2 102.57,317.8 102.61,314.7 102.65,315.9 102.69,316.4 102.74,314.3 102.78,317.0 102.82,313.5 102.86,315.8 102.90,313.9 102.94,316.1 102.99,313.9 103.03,315.2 103.07,314.4 103.11,316.7 103.15,313.1 103.19,315.7 103.24,313.2 103.28,314.0 103.32,314.5 103.36,312.7 103.40,315.7 103.44,311.0 103.49,315.8 103.53,315.7 103.57,320.0 103.61,313.2 103.65,312.6 103.69,315.0 103.74,314.3 103.78,314.6 103.82,312.8 103.86,315.5 103.90,316.4 103.94,315.6 103.99,314.1 104.03,314.0 104.07,316.6 104.11,318.5 104.15,316.6 104.19,314.1 104.24,315.6 104.28,313.5 104.32,317.0 104.36,311.9 104.40,310.8 104.44,317.5 104.49,313.5 104.53,317.8 104.57,314.0 104.61,310.8 104.65,314.8 104.69,313.5 104.74,315.1 104.78,312.8 104.82,313.5 104.86,313.1 104.90,311.2 104.94,315.6 104.99,313.9 105.03,316.1 105.07,313.1 105.11,315.4 105.15,315.6 105.19,312.1 105.24,313.0 105.28,316.3 105.32,309.3 105.36,314.0 105.40,312.3 105.44,312.1 105.49,315.3 105.53,315.5 105.57,314.9 105.61,315.2 105.65,310.3 105.69,314.0 105.74,310.6 105.78,315.0 105.82,314.7 105.86,313.9 105.90,314.9 105.94,308.8 105.99,314.4 106.03,315.5 106.07,307.1 106.11,313.7 106.15,314.7 106.19,314.5 106.24,311.8 106.28,311.6 106.32,313.7 106.36,312.3 106.40,308.8 106.44,312.7 106.49,314.3 106.53,314.8 106.57,312.9 106.61,313.3 106.65,311.3 106.69,314.2 106.74,314.5 106.78,312.5 106.82,314.1 106.86,312.4 106.90,310.7 106.94,314.7 106.99,314.3 107.03,310.6 107.07,313.3 107.11,311.0 107.15,313.7 107.19,312.8 107.24,308.4 107.28,312.6 107.32,308.8 107.36,310.8 107.40,312.3 107.44,311.0 107.49,309.0 107.53,310.4 107.57,313.1 107.61,314.4 107.65,310.1 107.69,313.2 107.74,312.6 107.78,310.0 107.82,310.5 107.86,309.7 107.90,314.4 107.94,306.6 107.99,311.7 108.03,311.6 108.07,310.4 108.11,311.4 108.15,311.7 108.19,314.3 108.24,313.8 108.28,312.0 108.32,314.1 108.36,309.5 108.40,315.5 108.44,313.3 108.49,310.7 108.53,308.7 108.57,313.9 108.61,311.3 108.65,317.3 108.69,314.8 108.74,309.5 108.78,312.2 108.82,310.9 108.86,313.3 108.90,311.7 108.94,311.7 108.99,312.5 109.03,316.2 109.07,312.5 109.11,315.1 109.15,311.4 109.19,312.7 109.24,310.8 109.28,312.0 109.32,311.1 109.36,312.4 109.40,308.2 109.44,312.5 109.49,314.4 109.53,309.7 109.57,311.5 109.61,313.1 109.65,312.0 109.69,313.5 109.74,312.7 109.78,311.5 109.82,313.0 109.86,316.7 109.90,312.6 109.94,313.7 109.99,312.9 110.03,311.8 110.07,311.3 110.11,307.4 110.15,314.7 110.19,310.9 110.24,313.2 110.28,309.6 110.32,310.8 110.36,312.4 110.40,312.5 110.44,314.4 110.49,308.8 110.53,310.1 110.57,313.5 110.61,308.0 110.65,313.8 110.69,312.8 110.74,310.6 110.78,310.1 110.82,311.9 110.86,310.1 110.90,312.7 110.94,309.8 110.99,311.5 111.03,312.5 111.07,311.9 111.11,313.3 111.15,311.4 111.19,314.1 111.24,309.8 111.28,313.2 111.32,311.3 111.36,306.8 111.40,316.0 111.44,309.1 111.49,311.9 111.53,310.3 111.57,310.3 111.61,309.5 111.65,313.2 111.69,307.8 111.74,309.2 111.78,310.9 111.82,310.5 111.86,305.6 111.90,310.4 111.94,310.9 111.99,311.5 112.03,307.9 112.07,311.8 112.11,308.6 112.15,311.3 112.19,311.3 112.24,306.9 112.28,308.8 112.32,309.1 112.36,306.8 112.40,313.5 112.44,309.0 112.49,311.5 112.53,309.8 112.57,308.1 112.61,312.6 112.65,311.4 112.69,308.4 112.74,310.2 112.78,312.2 112.82,308.5 112.86,312.4 112.90,310.7 112.94,313.5 112.99,314.5 113.03,308.6 113.07,312.8 113.11,311.7 113.15,308.9 113.19,313.4 113.24,308.7 113.28,311.5 113.32,310.7 113.36,306.1 113.40,311.1 113.44,311.5 113.49,311.9 113.53,309.0 113.57,310.2 113.61,312.5 113.65,312.6 113.69,312.4 113.74,313.5 113.78,309.2 113.82,310.2 113.86,310.8 113.90,312.0 113.94,312.3 113.99,313.2 114.03,311.8 114.07,311.4 114.11,309.0 114.15,311.3 114.19,309.0 114.24,309.0 114.28,309.9 114.32,311.8 114.36,313.8 114.40,308.5 114.44,308.3 114.49,313.6 114.53,315.0 114.57,308.9 114.61,309.8 114.65,308.8 114.69,306.9 114.74,302.5 114.78,302.9 114.82,299.1 114.86,296.1 114.90,297.6 114.94,291.9 114.99,289.7 115.03,286.9 115.07,287.7 115.11,284.1 115.15,283.9 115.19,284.1 115.24,284.6 115.28,285.5 115.32,287.2 115.36,288.8 115.40,288.6 115.44,295.4 115.49,295.0 115.53,297.8 115.57,298.4 115.61,301.6 115.65,303.3 115.69,306.2 115.74,306.0 115.78,308.4 115.82,305.2 115.86,312.3 115.90,313.6 115.94,309.2 115.99,308.8 116.03,314.0 116.07,311.5 116.11,306.5 116.15,314.8 116.19,309.1 116.24,314.0 116.28,316.5 116.32,313.0 116.36,311.8 116.40,311.0 116.44,309.5 116.49,313.1 116.53,311.8 116.57,310.5 116.61,313.9 116.65,312.8 116.69,311.6 116.74,314.3 116.78,309.8 116.82,313.4 116.86,311.8 116.90,312.4 116.94,311.9 116.99,315.2 117.03,316.2 117.07,310.9 117.11,314.8 117.15,314.5 117.19,313.6 117.24,316.1 117.28,317.5 117.32,310.1 117.36,314.1 117.40,315.0 117.44,313.5 117.49,311.3 117.53,313.5 117.57,310.9 117.61,314.1 117.65,315.6 117.69,317.6 117.74,312.9 117.78,314.9 117.82,314.5 117.86,313.9 117.90,316.7 117.94,312.8 117.99,315.1 118.03,317.2 118.07,315.5 118.11,311.2 118.15,313.8 118.19,315.8 118.24,314.3 118.28,313.2 118.32,313.4 118.36,312.7 118.40,316.4 118.44,313.3 118.49,315.8 118.53,315.6 118.57,317.0 118.61,318.4 118.65,313.6 118.69,312.0 118.74,314.6 118.78,317.9 118.82,315.8 118.86,314.3 118.90,318.3 118.94,315.0 118.99,314.6 119.03,319.2 119.07,313.2 119.11,314.5 119.15,317.0 119.19,314.5 119.24,314.8 119.28,315.2 119.32,313.7 119.36,313.7 119.40,318.0 119.44,315.3 119.49,311.1 119.53,315.2 119.57,313.0 119.61,313.1 119.65,318.3 119.69,316.6 119.74,315.6 119.78,314.9 119.82,312.5 119.86,314.2 119.90,315.9 119.94,316.1 119.99,310.9 120.03,313.9 120.07,314.0 120.11,316.0 120.15,313.1 120.19,314.7 120.24,311.3 120.28,312.6 120.32,315.3 120.36,315.7 120.40,315.3 120.44,314.5 120.49,312.0 120.53,313.7 120.57,314.5 120.61,314.3 120.65,314.1 120.69,316.5 120.74,314.0 120.78,314.7 120.82,315.6 120.86,316.7 120.90,317.2 120.94,312.3 120.99,317.3 121.03,315.9 121.07,316.4 121.11,316.7 121.15,313.6 121.19,315.3 121.24,319.4 121.28,319.9 121.32,310.0 121.36,310.0 121.40,319.0 121.44,313.9 121.49,314.5 121.53,316.9 121.57,316.5 121.61,313.0 121.65,316.8 121.69,316.1 121.74,311.3 121.78,314.1 121.82,316.5 121.86,317.5 121.90,313.9 121.94,316.2 121.99,315.4 122.03,313.2 122.07,316.7 122.11,315.1 122.15,315.5 122.19,312.7 122.24,313.0 122.28,316.2 122.32,314.8 122.36,318.6 122.40,317.5 122.44,317.0 122.49,316.1 122.53,316.8 122.57,315.6 122.61,316.3 122.65,319.1 122.69,320.0 122.74,319.8 122.78,314.6 122.82,313.7 122.86,315.5 122.90,317.7 122.94,316.8 122.99,316.6 123.03,319.4 123.07,314.1 123.11,317.8 123.15,315.9 123.19,315.5 123.24,317.6 123.28,314.4 123.32,316.4 123.36,314.5 123.40,314.0 123.44,318.7 123.49,315.5 123.53,319.5 123.57,314.3 123.61,315.4 123.65,315.6 123.69,317.2 123.74,312.7 123.78,315.2 123.82,312.9 123.86,313.7 123.90,316.5 123.94,316.5 123.99,319.5 124.03,320.1 124.07,317.2 124.11,316.3 124.15,319.1 124.19,316.7 124.24,318.4 124.28,315.7 124.32,312.0 124.36,317.4 124.40,314.6 124.44,317.4 124.49,317.3 124.53,317.8 124.57,317.4 124.61,317.6 124.65,316.0 124.69,318.8 124.74,317.1 124.78,314.5 124.82,316.6 124.86,319.7 124.90,317.9 124.94,318.6 124.99,317.9 125.03,315.5 125.07,321.4 125.11,318.4 125.15,320.8 125.19,314.1 125.24,313.7 125.28,316.5 125.32,319.9 125.36,320.1 125.40,319.2 125.44,319.1 125.49,317.9 125.53,316.2 125.57,318.0 125.61,317.2 125.65,318.6 125.69,318.9 125.74,316.0 125.78,316.2 125.82,321.0 125.86,315.0 125.90,318.1 125.94,315.5 125.99,317.8 126.03,318.7 126.07,315.6 126.11,318.0 126.15,318.1 126.19,315.6 126.24,321.1 126.28,317.5 126.32,321.3 126.36,314.6 126.40,314.5 126.44,316.8 126.49,319.6 126.53,318.4 126.57,318.3 126.61,316.0 126.65,317.6 126.69,319.1 126.74,319.7 126.78,317.5 126.82,316.9 126.86,318.0 126.90,321.5 126.94,320.0 126.99,318.2 127.03,315.9 127.07,318.2 127.11,317.3 127.15,316.8 127.19,312.2 127.24,321.3 127.28,315.8 127.32,318.2 127.36,317.8 127.40,318.6 127.44,315.6 127.49,317.0 127.53,316.5 127.57,320.9 127.61,316.5 127.65,315.2 127.69,315.4 127.74,319.9 127.78,319.2 127.82,313.7 127.86,316.5 127.90,317.8 127.94,315.8 127.99,319.2 128.03,318.9 128.07,321.9 128.11,316.8 128.15,319.3 128.19,323.7 128.24,319.8 128.28,319.0 128.32,321.3 128.36,322.0 128.40,318.4 128.44,320.6 128.49,322.7 128.53,318.3 128.57,317.9 128.61,320.6 128.65,319.9 128.69,320.3 128.74,319.1 128.78,318.3 128.82,318.5 128.86,319.2 128.90,315.2 128.94,320.2 128.99,323.2 129.03,317.9 129.07,316.6 129.11,322.1 129.15,320.6 129.19,320.2 129.24,317.2 129.28,316.6 129.32,320.9 129.36,321.4 129.40,318.3 129.44,320.9 129.49,321.0 129.53,319.7 129.57,317.8 129.61,318.4 129.65,317.1 129.69,315.0 129.74,314.9 129.78,319.9 129.82,320.7 129.86,318.2 129.90,319.1 129.94,323.1 129.99,320.0 130.03,321.7 130.07,322.6 130.11,317.3 130.15,321.5 130.19,316.6 130.24,320.8 130.28,317.6 130.32,321.6 130.36,317.5 130.40,318.3 130.44,321.7 130.49,318.9 130.53,319.2 130.57,322.1 130.61,321.3 130.65,319.0 130.69,321.2 130.74,321.5 130.78,319.7 130.82,320.9 130.86,320.9 130.90,320.8 130.94,321.8 130.99,323.2 131.03,320.0 131.07,323.7 131.11,321.6 131.15,319.2 131.19,320.0 131.24,322.3 131.28,322.3 131.32,324.3 131.36,319.9 131.40,319.6 131.44,317.7 131.49,318.2 131.53,318.8 131.57,321.7 131.61,319.0 131.65,321.7 131.69,319.2 131.74,319.6 131.78,323.0 131.82,322.0 131.86,320.0 131.90,323.2 131.94,318.5 131.99,321.0 132.03,318.1 132.07,322.6 132.11,321.8 132.15,320.0 132.19,320.0 132.24,323.3 132.28,321.0 132.32,319.2 132.36,317.6 132.40,323.4 132.44,323.9 132.49,323.1 132.53,322.3 132.57,321.3 132.61,320.5 132.65,319.2 132.69,322.3 132.74,320.8 132.78,322.2 132.82,321.1 132.86,321.3 132.90,322.9 132.94,321.4 132.99,326.6 133.03,323.9 133.07,320.6 133.11,321.5 133.15,323.9 133.19,325.9 133.24,318.5 133.28,321.2 133.32,317.8 133.36,322.0 133.40,320.9 133.44,321.9 133.49,323.4 133.53,319.0 133.57,320.2 133.61,322.0 133.65,320.5 133.69,320.5 133.74,318.9 133.78,317.6 133.82,321.4 133.86,324.9 133.90,325.0 133.94,326.8 133.99,323.7 134.03,321.3 134.07,318.5 134.11,322.5 134.15,320.6 134.19,320.9 134.24,319.1 134.28,319.4 134.32,323.5 134.36,320.7 134.40,321.4 134.44,322.8 134.49,324.3 134.53,319.7 134.57,325.8 134.61,321.9 134.65,321.3 134.69,322.9 134.74,318.4 134.78,321.1 134.82,322.2 134.86,321.3 134.90,320.7 134.94,323.1 134.99,322.3 135.03,321.2 135.07,321.0 135.11,321.8 135.15,320.9 135.19,324.7 135.24,323.6 135.28,320.1 135.32,321.5 135.36,320.0 135.40,323.5 135.44,323.4 135.49,322.1 135.53,322.5 135.57,323.3 135.61,322.8 135.65,325.2 135.69,322.5 135.74,324.6 135.78,326.4 135.82,320.2 135.86,321.0 135.90,320.0 135.94,321.6 135.99,322.6 136.03,323.5 136.07,319.4 136.11,322.6 136.15,322.1 136.19,325.0 136.24,320.8 136.28,323.5 136.32,325.7 136.36,323.9 136.40,323.7 136.44,320.4 136.49,321.0 136.53,319.6 136.57,326.0 136.61,323.3 136.65,323.9 136.69,323.9 136.74,326.2 136.78,322.5 136.82,324.2 136.86,321.2 136.90,326.0 136.94,322.5 136.99,320.8 137.03,322.2 137.07,318.8 137.11,321.2 137.15,322.8 137.19,322.3 137.24,323.1 137.28,322.6 137.32,321.4 137.36,325.3 137.40,320.6 137.44,321.7 137.49,322.1 137.53,324.5 137.57,323.8 137.61,322.3 137.65,322.5 137.69,325.7 137.74,326.4 137.78,323.5 137.82,322.0 137.86,324.2 137.90,327.0 137.94,322.5 137.99,324.5 138.03,321.7 138.07,323.6 138.11,325.4 138.15,324.5 138.19,322.2 138.24,323.2 138.28,323.1 138.32,325.0 138.36,321.7 138.40,323.7 138.44,326.2 138.49,326.4 138.53,324.7 138.57,326.6 138.61,325.1 138.65,325.5 138.69,327.8 138.74,322.6 138.78,325.8 138.82,320.6 138.86,322.8 138.90,324.4 138.94,324.4 138.99,327.1 139.03,324.7 139.07,327.8 139.11,323.0 139.15,324.5 139.19,323.4 139.24,320.2 139.28,323.7 139.32,324.8 139.36,323.3 139.40,323.1 139.44,323.2 139.49,322.7 139.53,323.6 139.57,321.6 139.61,325.0 139.65,319.6 139.69,321.0 139.74,324.1 139.78,325.5 139.82,324.1 139.86,321.9 139.90,324.3 139.94,321.9 139.99,325.6 140.03,328.0 140.07,325.5 140.11,322.9 140.15,326.0 140.19,327.5 140.24,322.9 140.28,326.5 140.32,324.2 140.36,325.9 140.40,326.4 140.44,323.3 140.49,322.5 140.53,329.9 140.57,328.4 140.61,328.1 140.65,326.2 140.69,325.9 140.74,326.5 140.78,324.8 140.82,325.3 140.86,326.4 140.90,326.5 140.94,325.1 140.99,324.6 141.03,328.6 141.07,325.0 141.11,324.2 141.15,325.8 141.19,324.7 141.24,322.2 141.28,323.1 141.32,320.5 141.36,322.3 141.40,327.8 141.44,325.2 141.49,320.3 141.53,324.4 141.57,328.3 141.61,322.8 141.65,327.7 141.69,323.6 141.74,324.8 141.78,325.0 141.82,327.3 141.86,324.4 141.90,325.3 141.94,324.0 141.99,327.7 142.03,326.4 142.07,323.3 142.11,324.2 142.15,325.1 142.19,325.5 142.24,325.7 142.28,326.6 142.32,326.0 142.36,328.3 142.40,324.5 142.44,326.9 142.49,328.9 142.53,327.7 142.57,327.6 142.61,325.9 142.65,324.4 142.69,323.2 142.74,325.1 142.78,324.9 142.82,329.1 142.86,324.3 142.90,327.5 142.94,326.9 142.99,330.3 143.03,324.7 143.07,329.4 143.11,324.0 143.15,328.0 143.19,329.6 143.24,325.7 143.28,327.5 143.32,328.8 143.36,325.3 143.40,324.9 143.44,324.0 143.49,326.9 143.53,324.9 143.57,330.4 143.61,327.1 143.65,329.3 143.69,327.2 143.74,331.3 143.78,329.8 143.82,326.7 143.86,327.3 143.90,323.2 143.94,327.8 143.99,325.3 144.03,328.9 144.07,328.9 144.11,325.8 144.15,329.3 144.19,325.1 144.24,325.7 144.28,323.7 144.32,326.2 144.36,326.1 144.40,328.6 144.44,329.2 144.49,326.9 144.53,329.6 144.57,330.1 144.61,323.3 144.65,326.9 144.69,327.2 144.74,331.1 144.78,329.2 144.82,328.4 144.86,326.5 144.90,328.8 144.94,330.4 144.99,327.6 145.03,325.9 145.07,329.8 145.11,324.9 145.15,327.3 145.19,329.8 145.24,326.2 145.28,327.7 145.32,325.4 145.36,331.3 145.40,328.0 145.44,329.2 145.49,327.1 145.53,331.9 145.57,331.0 145.61,328.5 145.65,329.3 145.69,325.0 145.74,328.8 145.78,330.8 145.82,327.4 145.86,327.8 145.90,327.7 145.94,329.3 145.99,328.9 146.03,325.2 146.07,329.9 146.11,327.7 146.15,328.5 146.19,327.8 146.24,327.4 146.28,329.0 146.32,326.3 146.36,326.0 146.40,328.3 146.44,330.9 146.49,328.0 146.53,328.2 146.57,328.4 146.61,328.9 146.65,328.0 146.69,331.7 146.74,329.5 146.78,329.0 146.82,329.7 146.86,330.4 146.90,331.2 146.94,328.8 146.99,329.3 147.03,329.6 147.07,328.0 147.11,327.9 147.15,328.8 147.19,329.9 147.24,329.1 147.28,324.5 147.32,326.9 147.36,329.5 147.40,328.4 147.44,329.2 147.49,328.3 147.53,331.3 147.57,330.2 147.61,330.8 147.65,327.1 147.69,331.5 147.74,328.1 147.78,333.1 147.82,328.7 147.86,329.2 147.90,326.0 147.94,330.0 147.99,327.8 148.03,328.3 148.07,331.1 148.11,333.9 148.15,328.6 148.19,327.2 148.24,325.5 148.28,328.4 148.32,330.4 148.36,327.1 148.40,327.8 148.44,332.4 148.49,331.9 148.53,332.1 148.57,327.8 148.61,328.4 148.65,327.8 148.69,329.2 148.74,329.4 148.78,330.8 148.82,331.3 148.86,331.0 148.90,331.6 148.94,331.9 148.99,329.4 149.03,329.5 149.07,328.8 149.11,334.1 149.15,329.9 149.19,328.5 149.24,328.6 149.28,329.5 149.32,330.2 149.36,330.0 149.40,330.4 149.44,333.4 149.49,329.0 149.53,330.5 149.57,332.9 149.61,327.8 149.65,328.4 149.69,332.5 149.74,328.3 149.78,331.2 149.82,328.7 149.86,331.9 149.90,333.9 149.94,329.2 149.99,328.7 150.03,330.6 150.07,328.5 150.11,328.2 150.15,329.0 150.19,330.1 150.24,333.7 150.28,332.2 150.32,332.8 150.36,332.5 150.40,330.2 150.44,328.6 150.49,332.1 150.53,329.1 150.57,333.3 150.61,330.2 150.65,329.4 150.69,331.8 150.74,331.5 150.78,331.9 150.82,329.9 150.86,331.6 150.90,328.3 150.94,331.8 150.99,328.1 151.03,331.5 151.07,331.7 151.11,333.1 151.15,331.9 151.19,329.2 151.24,330.5 151.28,332.7 151.32,332.7 151.36,330.1 151.40,332.1 151.44,333.9 151.49,329.8 151.53,332.2 151.57,332.2 151.61,331.0 151.65,331.9 151.69,334.1 151.74,332.2 151.78,331.7 151.82,331.2 151.86,330.7 151.90,329.1 151.94,329.5 151.99,328.6 152.03,331.0 152.07,329.6 152.11,328.3 152.15,333.6 152.19,331.1 152.24,333.3 152.28,334.1 152.32,334.4 152.36,331.5 152.40,327.1 152.44,332.5 152.49,331.5 152.53,328.8 152.57,326.9 152.61,333.7 152.65,333.8 152.69,334.2 152.74,334.5 152.78,334.1 152.82,332.8 152.86,332.6 152.90,333.8 152.94,332.9 152.99,332.2 153.03,333.1 153.07,331.0 153.11,330.5 153.15,335.7 153.19,336.3 153.24,334.4 153.28,330.6 153.32,331.4 153.36,334.0 153.40,333.1 153.44,331.9 153.49,335.5 153.53,332.3 153.57,332.2 153.61,332.3 153.65,331.0 153.69,334.1 153.74,329.1 153.78,332.4 153.82,333.7 153.86,335.4 153.90,333.6 153.94,330.2 153.99,333.9 154.03,333.9 154.07,332.6 154.11,331.4 154.15,330.1 154.19,331.8 154.24,332.9 154.28,337.6 154.32,333.5 154.36,332.9 154.40,329.3 154.44,330.3 154.49,331.4 154.53,332.3 154.57,332.4 154.61,334.6 154.65,335.5 154.69,335.1 154.74,331.4 154.78,331.9 154.82,331.1 154.86,329.9 154.90,330.3 154.94,333.5 154.99,331.2 155.03,334.0 155.07,332.3 155.11,331.9 155.15,332.9 155.19,333.0 155.24,338.0 155.28,331.6 155.32,333.5 155.36,330.3 155.40,332.2 155.44,335.7 155.49,334.1 155.53,336.5 155.57,329.8 155.61,331.4 155.65,333.3 155.69,331.0 155.74,331.8 155.78,330.5 155.82,334.4 155.86,332.3 155.90,333.0 155.94,330.7 155.99,332.4 156.03,336.4 156.07,334.6 156.11,333.2 156.15,331.6 156.19,332.7 156.24,333.4 156.28,336.9 156.32,333.6 156.36,332.8 156.40,332.9 156.44,331.2 156.49,333.7 156.53,331.3 156.57,331.8 156.61,332.3 156.65,337.1 156.69,336.2 156.74,332.4 156.78,334.3 156.82,332.9 156.86,333.5 156.90,331.9 156.94,333.3 156.99,334.8 157.03,331.2 157.07,333.4 157.11,330.7 157.15,332.0 157.19,328.1 157.24,331.1 157.28,328.3 157.32,328.3 157.36,329.9 157.40,334.0 157.44,330.5 157.49,332.3 157.53,331.4 157.57,330.0 157.61,328.6 157.65,329.3 157.69,328.1 157.74,332.6 157.78,332.0 157.82,332.7 157.86,333.6 157.90,336.7 157.94,332.5 157.99,333.9 158.03,334.5 158.07,335.0 158.11,333.3 158.15,336.3 158.19,332.7 158.24,334.0 158.28,330.6 158.32,334.3 158.36,333.7 158.40,333.3 158.44,332.7 158.49,335.0 158.53,335.6 158.57,338.9 158.61,333.0 158.65,335.3 158.69,335.3 158.74,336.7 158.78,333.2 158.82,333.0 158.86,334.2 158.90,333.1 158.94,334.3 158.99,332.9 159.03,334.4 159.07,336.3 159.11,334.4 159.15,335.1 159.19,335.8 159.24,335.8 159.28,335.0 159.32,331.3 159.36,332.2 159.40,337.1 159.44,332.9 159.49,334.1 159.53,336.3 159.57,332.7 159.61,330.5 159.65,332.7 159.69,335.9 159.74,336.2 159.78,335.6 159.82,338.7 159.86,336.7 159.90,330.8 159.94,331.0 159.99,334.1 160.03,331.0 160.07,336.2 160.11,330.6 160.15,334.5 160.19,332.5 160.24,335.5 160.28,338.3 160.32,334.6 160.36,329.7 160.40,333.2 160.44,332.9 160.49,334.6 160.53,337.3 160.57,333.7 160.61,333.2 160.65,331.8 160.69,331.5 160.74,332.1 160.78,334.2 160.82,335.7 160.86,334.9 160.90,333.5 160.94,335.2 160.99,333.2 161.03,336.5 161.07,332.1 161.11,331.5 161.15,334.8 161.19,333.4 161.24,337.2 161.28,333.5 161.32,335.3 161.36,335.3 161.40,337.0 161.44,337.1 161.49,332.2 161.53,331.0 161.57,333.3 161.61,335.9 161.65,336.3 161.69,333.6 161.74,338.3 161.78,334.5 161.82,337.4 161.86,334.7 161.90,332.2 161.94,333.8 161.99,336.5 162.03,336.8 162.07,335.1 162.11,338.9 162.15,335.5 162.19,336.2 162.24,336.1 162.28,334.5 162.32,332.8 162.36,335.3 162.40,334.8 162.44,334.3 162.49,335.7 162.53,334.6 162.57,337.1 162.61,336.8 162.65,334.3 162.69,337.9 162.74,335.1 162.78,332.3 162.82,332.8 162.86,334.3 162.90,336.3 162.94,334.1 162.99,337.4 163.03,339.3 163.07,333.5 163.11,335.5 163.15,333.7 163.19,337.7 163.24,331.9 163.28,336.9 163.32,334.5 163.36,335.5 163.40,335.8 163.44,334.1 163.49,333.7 163.53,338.8 163.57,336.4 163.61,336.1 163.65,338.1 163.69,334.0 163.74,337.0 163.78,335.0 163.82,332.3 163.86,334.0 163.90,335.6 163.94,333.7 163.99,333.5 164.03,336.6 164.07,335.6 164.11,334.4 164.15,332.4 164.19,336.5 164.24,337.5 164.28,335.6 164.32,336.6 164.36,335.1 164.40,337.6 164.44,337.4 164.49,336.0 164.53,337.2 164.57,335.3 164.61,338.3 164.65,337.5 164.69,335.2 164.74,337.8 164.78,336.0 164.82,335.2 164.86,335.9 164.90,334.6 164.94,336.6 164.99,335.3 165.03,335.6 165.07,339.3 165.11,331.0 165.15,334.8 165.19,338.0 165.24,334.1 165.28,333.1 165.32,338.0 165.36,338.7 165.40,334.8 165.44,336.0 165.49,334.8 165.53,333.8 165.57,336.6 165.61,336.8 165.65,335.6 165.69,333.6 165.74,335.9 165.78,334.5 165.82,334.5 165.86,335.9 165.90,335.6 165.94,333.0 165.99,337.0 166.03,334.7 166.07,334.9 166.11,333.4 166.15,334.2 166.19,332.8 166.24,335.3 166.28,334.0 166.32,334.7 166.36,337.6 166.40,334.2 166.44,337.1 166.49,333.9 166.53,335.4 166.57,332.4 166.61,335.7 166.65,336.6 166.69,330.1 166.74,333.8 166.78,336.2 166.82,335.8 166.86,334.3 166.90,335.1 166.94,336.4 166.99,336.0 167.03,332.4 167.07,336.8 167.11,334.0 167.15,335.7 167.19,335.7 167.24,334.9 167.28,337.7 167.32,336.7 167.36,336.3 167.40,338.7 167.44,334.7 167.49,335.3 167.53,337.2 167.57,335.4 167.61,333.9 167.65,336.4 167.69,336.8 167.74,333.1 167.78,336.7 167.82,334.4 167.86,335.5 167.90,335.9 167.94,338.1 167.99,336.1 168.03,337.6 168.07,335.1 168.11,336.2 168.15,334.5 168.19,338.0 168.24,335.7 168.28,334.6 168.32,337.5 168.36,337.1 168.40,336.5 168.44,336.3 168.49,336.3 168.53,336.2 168.57,335.6 168.61,335.0 168.65,336.4 168.69,334.9 168.74,338.4 168.78,335.8 168.82,335.6 168.86,332.5 168.90,335.0 168.94,335.5 168.99,332.4 169.03,334.5 169.07,334.3 169.11,335.5 169.15,337.1 169.19,332.4 169.24,336.5 169.28,337.7 169.32,337.6 169.36,335.5 169.40,332.8 169.44,336.8 169.49,335.9 169.53,336.9 169.57,337.0 169.61,335.4 169.65,333.1 169.69,334.4 169.74,333.0 169.78,336.3 169.82,335.0 169.86,331.9 169.90,331.9 169.94,336.5 169.99,333.0 170.03,332.4 170.07,337.5 170.11,335.2 170.15,334.3 170.19,335.5 170.24,338.1 170.28,335.5 170.32,338.0 170.36,336.8 170.40,335.4 170.44,337.1 170.49,333.7 170.53,333.2 170.57,334.4 170.61,337.6 170.65,334.3 170.69,335.1 170.74,334.0 170.78,335.7 170.82,334.6 170.86,336.8 170.90,334.2 170.94,335.6 170.99,337.2 171.03,334.0 171.07,333.6 171.11,333.7 171.15,332.4 171.19,337.5 171.24,335.8 171.28,337.2 171.32,334.8 171.36,335.8 171.40,337.5 171.44,336.3 171.49,338.2 171.53,335.4 171.57,332.0 171.61,333.4 171.65,333.9 171.69,335.3 171.74,334.1 171.78,333.6 171.82,334.7 171.86,333.1 171.90,335.7 171.94,335.5 171.99,336.7 172.03,338.3 172.07,335.4 172.11,338.8 172.15,334.8 172.19,334.7 172.24,334.8 172.28,334.0 172.32,337.9 172.36,332.0 172.40,336.4 172.44,336.4 172.49,336.1 172.53,335.5 172.57,336.9 172.61,338.1 172.65,335.2 172.69,336.0 172.74,337.9 172.78,332.1 172.82,337.5 172.86,334.2 172.90,335.1 172.94,337.6 172.99,337.1 173.03,335.9 173.07,335.1 173.11,334.7 173.15,336.0 173.19,337.1 173.24,337.8 173.28,336.4 173.32,336.2 173.36,337.8 173.40,335.1 173.44,335.7 173.49,336.3 173.53,335.4 173.57,337.4 173.61,335.5 173.65,335.4 173.69,340.4 173.74,334.6 173.78,337.4 173.82,336.5 173.86,334.6 173.90,336.6 173.94,333.8 173.99,333.8 174.03,336.5 174.07,332.0 174.11,332.5 174.15,334.6 174.19,334.6 174.24,336.3 174.28,332.4 174.32,336.5 174.36,334.8 174.40,335.6 174.44,333.9 174.49,334.0 174.53,340.8 174.57,336.4 174.61,335.7 174.65,339.2 174.69,338.2 174.74,330.9 174.78,335.8 174.82,337.3 174.86,334.7 174.90,335.0 174.94,337.2 174.99,335.2 175.03,335.3 175.07,333.8 175.11,335.4 175.15,335.3 175.19,336.0 175.24,337.6 175.28,335.3 175.32,331.7 175.36,333.4 175.40,337.4 175.44,334.4 175.49,335.2 175.53,337.5 175.57,340.2 175.61,332.5 175.65,338.7 175.69,336.7 175.74,335.8 175.78,332.6 175.82,333.6 175.86,337.9 175.90,332.4 175.94,339.9 175.99,336.6 176.03,335.8 176.07,331.9 176.11,336.0 176.15,337.8 176.19,336.8 176.24,336.9 176.28,336.5 176.32,336.9 176.36,337.7 176.40,339.7 176.44,334.7 176.49,335.8 176.53,337.7 176.57,335.1 176.61,332.9 176.65,336.3 176.69,334.9 176.74,338.3 176.78,338.6 176.82,338.3 176.86,338.9 176.90,338.4 176.94,335.8 176.99,334.1 177.03,337.3 177.07,340.2 177.11,337.2 177.15,338.9 177.19,337.9 177.24,337.1 177.28,334.0 177.32,336.5 177.36,338.5 177.40,336.0 177.44,336.1 177.49,334.4 177.53,333.6 177.57,334.9 177.61,333.6 177.65,338.1 177.69,339.0 177.74,333.6 177.78,337.6 177.82,336.9 177.86,335.3 177.90,336.3 177.94,339.5 177.99,336.0 178.03,337.3 178.07,335.2 178.11,336.1 178.15,331.9 178.19,336.0 178.24,337.3 178.28,333.0 178.32,335.9 178.36,332.3 178.40,337.5 178.44,335.7 178.49,337.0 178.53,333.0 178.57,336.6 178.61,336.6 178.65,333.9 178.69,337.9 178.74,339.4 178.78,335.6 178.82,334.8 178.86,337.2 178.90,340.2 178.94,335.7 178.99,334.4 179.03,336.3 179.07,334.4 179.11,336.1 179.15,334.0 179.19,334.1 179.24,339.6 179.28,337.2 179.32,335.2 179.36,335.3 179.40,339.3 179.44,335.4 179.49,338.1 179.53,337.2 179.57,338.2 179.61,337.4 179.65,334.9 179.69,334.5 179.74,336.5 179.78,335.9 179.82,338.1 179.86,335.6 179.90,333.4 179.94,335.9 179.99,340.0 180.03,333.7 180.07,336.1 180.11,337.9 180.15,339.5 180.19,337.0 180.24,339.4 180.28,335.8 180.32,337.1 180.36,335.9 180.40,333.3 180.44,337.0 180.49,332.5 180.53,339.8 180.57,340.6 180.61,338.7 180.65,334.9 180.69,335.9 180.74,337.4 180.78,338.7 180.82,336.0 180.86,335.7 180.90,337.0 180.94,339.1 180.99,335.7 181.03,339.4 181.07,336.8 181.11,335.6 181.15,336.2 181.19,335.4 181.24,337.1 181.28,336.0 181.32,335.0 181.36,337.1 181.40,335.4 181.44,336.4 181.49,338.4 181.53,338.3 181.57,336.7 181.61,336.8 181.65,336.5 181.69,331.5 181.74,335.6 181.78,336.0 181.82,338.1 181.86,338.9 181.90,335.8 181.94,335.1 181.99,334.2 182.03,337.4 182.07,337.8 182.11,335.5 182.15,338.6 182.19,338.5 182.24,336.4 182.28,336.0 182.32,335.9 182.36,336.9 182.40,332.6 182.44,333.4 182.49,336.2 182.53,337.2 182.57,338.6 182.61,332.4 182.65,339.3 182.69,333.2 182.74,337.5 182.78,337.1 182.82,334.1 182.86,337.2 182.90,336.2 182.94,336.3 182.99,337.0 183.03,334.4 183.07,334.6 183.11,333.4 183.15,337.7 183.19,337.6 183.24,334.9 183.28,334.7 183.32,336.7 183.36,335.0 183.40,337.4 183.44,338.0 183.49,334.4 183.53,336.9 183.57,335.7 183.61,338.3 183.65,333.3 183.69,338.8 183.74,336.3 183.78,336.9 183.82,335.8 183.86,333.0 183.90,337.2 183.94,338.6 183.99,338.3 184.03,336.6 184.07,334.3 184.11,334.0 184.15,338.2 184.19,336.6 184.24,337.3 184.28,336.0 184.32,335.4 184.36,337.6 184.40,334.4 184.44,338.5 184.49,337.4 184.53,338.2 184.57,337.8 184.61,339.2 184.65,336.7 184.69,338.2 184.74,337.7 184.78,337.6 184.82,336.9 184.86,334.4 184.90,338.8 184.94,340.0 184.99,337.6 185.03,338.9 185.07,336.3 185.11,334.3 185.15,340.5 185.19,337.0 185.24,335.2 185.28,337.8 185.32,335.2 185.36,338.4 185.40,338.3 185.44,336.6 185.49,337.9 185.53,334.6 185.57,338.5 185.61,336.8 185.65,335.4 185.69,337.4 185.74,336.5 185.78,337.4 185.82,338.5 185.86,337.7 185.90,336.8 185.94,336.7 185.99,336.9 186.03,338.7 186.07,334.2 186.11,338.1 186.15,337.6 186.19,333.7 186.24,336.0 186.28,337.0 186.32,339.6 186.36,337.4 186.40,336.0 186.44,337.7 186.49,338.0 186.53,337.8 186.57,341.7 186.61,337.6 186.65,334.6 186.69,339.1 186.74,335.6 186.78,340.5 186.82,338.2 186.86,336.8 186.90,337.2 186.94,337.5 186.99,339.3 187.03,338.6 187.07,337.5 187.11,335.3 187.15,337.5 187.19,338.7 187.24,337.5 187.28,336.7 187.32,335.1 187.36,340.8 187.40,337.3 187.44,337.3 187.49,337.2 187.53,336.4 187.57,335.9 187.61,341.5 187.65,335.4 187.69,336.4 187.74,334.7 187.78,336.7 187.82,337.8 187.86,336.5 187.90,340.1 187.94,339.0 187.99,336.2 188.03,335.5 188.07,340.6 188.11,336.6 188.15,336.9 188.19,339.6 188.24,339.1 188.28,337.3 188.32,337.7 188.36,337.4 188.40,337.4 188.44,336.4 188.49,338.9 188.53,337.6 188.57,337.9 188.61,336.8 188.65,335.4 188.69,339.2 188.74,337.8 188.78,336.2 188.82,337.6 188.86,334.1 188.90,337.1 188.94,339.1 188.99,338.1 189.03,336.7 189.07,337.0 189.11,336.6 189.15,336.9 189.19,337.0 189.24,334.7 189.28,335.6 189.32,337.3 189.36,337.4 189.40,338.8 189.44,338.0 189.49,337.6 189.53,335.1 189.57,338.6 189.61,334.5 189.65,336.4 189.69,337.6 189.74,335.8 189.78,339.2 189.82,339.4 189.86,335.4 189.90,335.5 189.94,337.8 189.99,337.3 190.03,341.2 190.07,338.7 190.11,341.5 190.15,334.9 190.19,335.3 190.24,335.8 190.28,335.0 190.32,335.1 190.36,340.4 190.40,338.1 190.44,339.1 190.49,338.6 190.53,337.4 190.57,336.3 190.61,339.1 190.65,340.4 190.69,334.4 190.74,339.8 190.78,338.5 190.82,335.9 190.86,335.2 190.90,337.4 190.94,336.8 190.99,338.4 191.03,337.2 191.07,335.2 191.11,337.6 191.15,336.5 191.19,339.4 191.24,339.4 191.28,338.1 191.32,339.3 191.36,337.3 191.40,337.0 191.44,341.0 191.49,334.0 191.53,338.9 191.57,340.6 191.61,339.2 191.65,335.5 191.69,338.5 191.74,336.5 191.78,337.0 191.82,335.0 191.86,335.0 191.90,337.6 191.94,333.8 191.99,332.9 192.03,333.1 192.07,332.3 192.11,335.5 192.15,337.3 192.19,337.8 192.24,330.9 192.28,333.4 192.32,336.0 192.36,336.0 192.40,335.1 192.44,337.6 192.49,337.4 192.53,335.4 192.57,332.8 192.61,336.0 192.65,337.9 192.69,337.8 192.74,338.5 192.78,338.1 192.82,333.4 192.86,335.1 192.90,340.2 192.94,339.1 192.99,339.4 193.03,339.5 193.07,337.2 193.11,339.4 193.15,336.2 193.19,338.8 193.24,337.6 193.28,335.2 193.32,334.3 193.36,335.5 193.40,338.5 193.44,337.9 193.49,337.3 193.53,337.4 193.57,337.7 193.61,340.7 193.65,337.0 193.69,335.8 193.74,337.2 193.78,335.9 193.82,339.1 193.86,338.1 193.90,338.1 193.94,339.2 193.99,335.4 194.03,336.1 194.07,337.0 194.11,335.6 194.15,337.8 194.19,335.5 194.24,335.5 194.28,335.7 194.32,339.5 194.36,339.5 194.40,339.7 194.44,338.7 194.49,338.5 194.53,337.1 194.57,337.2 194.61,337.8 194.65,339.4 194.69,334.1 194.74,339.5 194.78,339.5 194.82,337.6 194.86,340.9 194.90,339.0 194.94,338.1 194.99,338.0 195.03,339.2 195.07,336.1 195.11,340.4 195.15,334.1 195.19,336.4 195.24,337.7 195.28,336.5 195.32,334.5 195.36,339.5 195.40,332.9 195.44,339.2 195.49,337.3 195.53,338.2 195.57,338.7 195.61,335.2 195.65,336.4 195.69,333.1 195.74,333.8 195.78,338.0 195.82,341.4 195.86,338.2 195.90,336.5 195.94,339.2 195.99,338.6 196.03,339.7 196.07,340.3 196.11,339.1 196.15,338.1 196.19,334.8 196.24,336.8 196.28,337.0 196.32,336.9 196.36,338.5 196.40,338.0 196.44,336.5 196.49,339.1 196.53,338.0 196.57,336.4 196.61,338.4 196.65,337.0 196.69,338.8 196.74,340.3 196.78,334.9 196.82,338.1 196.86,337.2 196.90,338.4 196.94,340.1 196.99,341.4 197.03,337.8 197.07,336.4 197.11,341.3 197.15,339.5 197.19,338.4 197.24,339.9 197.28,335.9 197.32,339.3 197.36,338.8 197.40,338.1 197.44,336.0 197.49,338.7 197.53,342.4 197.57,335.1 197.61,340.7 197.65,338.5 197.69,339.1 197.74,337.1 197.78,342.1 197.82,338.1 197.86,336.9 197.90,336.9 197.94,339.8 197.99,340.1 198.03,334.5 198.07,335.4 198.11,336.9 198.15,333.2 198.19,336.3 198.24,336.5 198.28,339.2 198.32,340.1 198.36,337.4 198.40,339.6 198.44,332.8 198.49,336.7 198.53,336.4 198.57,338.7 198.61,337.5 198.65,340.3 198.69,337.2 198.74,337.6 198.78,335.1 198.82,340.3 198.86,335.5 198.90,341.0 198.94,338.0 198.99,341.5 199.03,339.6 199.07,335.3 199.11,337.3 199.15,336.6 199.19,336.4 199.24,338.0 199.28,338.1 199.32,336.7 199.36,336.5 199.40,339.1 199.44,337.5 199.49,337.3 199.53,341.7 199.57,338.2 199.61,337.1 199.65,338.6 199.69,339.4 199.74,339.4 199.78,338.1 199.82,335.5 199.86,338.2 199.90,341.4 199.94,337.9 199.99,337.9 200.03,335.9 200.07,336.7 200.11,337.3 200.15,336.1 200.19,338.9 200.24,336.8 200.28,335.4 200.32,335.6 200.36,337.5 200.40,332.8 200.44,340.9 200.49,339.5 200.53,338.2 200.57,336.2 200.61,336.1 200.65,337.0 200.69,340.9 200.74,338.8 200.78,339.5 200.82,340.0 200.86,335.9 200.90,334.8 200.94,337.4 200.99,335.5 201.03,338.6 201.07,337.7 201.11,338.1 201.15,337.2 201.19,336.1 201.24,338.8 201.28,336.2 201.32,338.3 201.36,335.2 201.40,336.1 201.44,336.7 201.49,339.8 201.53,341.0 201.57,338.3 201.61,339.8 201.65,338.3 201.69,340.9 201.74,335.1 201.78,337.6 201.82,338.9 201.86,340.1 201.90,336.9 201.94,336.2 201.99,337.7 202.03,336.4 202.07,335.5 202.11,335.2 202.15,336.6 202.19,339.2 202.24,338.7 202.28,338.4 202.32,338.7 202.36,337.0 202.40,340.2 202.44,335.8 202.49,336.7 202.53,337.8 202.57,334.3 202.61,338.0 202.65,341.0 202.69,337.9 202.74,339.4 202.78,336.6 202.82,337.7 202.86,336.3 202.90,336.7 202.94,333.9 202.99,340.0 203.03,340.0 203.07,338.4 203.11,338.6 203.15,338.3 203.19,338.9 203.24,339.5 203.28,340.2 203.32,337.5 203.36,337.8 203.40,339.8 203.44,338.4 203.49,339.4 203.53,338.8 203.57,339.4 203.61,337.0 203.65,337.5 203.69,337.5 203.74,337.8 203.78,340.1 203.82,338.2 203.86,339.2 203.90,339.0 203.94,339.6 203.99,342.2 204.03,337.9 204.07,336.4 204.11,336.6 204.15,337.9 204.19,339.9 204.24,336.8 204.28,338.5 204.32,337.6 204.36,335.7 204.40,335.4 204.44,335.8 204.49,337.3 204.53,338.8 204.57,337.1 204.61,341.1 204.65,337.5 204.69,337.3 204.74,336.0 204.78,338.1 204.82,338.7 204.86,339.6 204.90,338.3 204.94,338.1 204.99,337.9 205.03,340.0 205.07,336.3 205.11,335.7 205.15,335.8 205.19,336.8 205.24,340.1 205.28,338.8 205.32,339.5 205.36,339.3 205.40,337.8 205.44,340.7 205.49,336.2 205.53,338.0 205.57,337.5 205.61,336.4 205.65,337.4 205.69,338.6 205.74,339.0 205.78,340.4 205.82,336.0 205.86,337.2 205.90,339.3 205.94,338.0 205.99,339.6 206.03,335.1 206.07,339.0 206.11,337.9 206.15,338.1 206.19,339.4 206.24,337.5 206.28,335.5 206.32,337.1 206.36,336.0 206.40,341.6 206.44,334.6 206.49,338.8 206.53,335.6 206.57,339.0 206.61,336.7 206.65,335.1 206.69,337.1 206.74,339.5 206.78,340.9 206.82,341.3 206.86,342.0 206.90,338.5 206.94,339.1 206.99,338.6 207.03,338.1 207.07,336.9 207.11,337.7 207.15,338.4 207.19,336.3 207.24,336.9 207.28,336.4 207.32,338.6 207.36,338.1 207.40,338.6 207.44,338.5 207.49,339.3 207.53,335.7 207.57,337.2 207.61,338.1 207.65,341.5 207.69,335.3 207.74,337.9 207.78,335.0 207.82,340.3 207.86,337.3 207.90,338.2 207.94,338.4 207.99,338.3 208.03,339.4 208.07,339.9 208.11,340.0 208.15,335.6 208.19,335.8 208.24,338.2 208.28,338.4 208.32,339.3 208.36,336.2 208.40,337.8 208.44,337.0 208.49,338.8 208.53,337.2 208.57,341.5 208.61,338.4 208.65,337.6 208.69,338.5 208.74,340.6 208.78,337.3 208.82,336.0 208.86,338.8 208.90,338.6 208.94,337.5 208.99,339.2 209.03,339.9 209.07,338.4 209.11,342.6 209.15,337.3 209.19,337.7 209.24,335.3 209.28,341.1 209.32,339.9 209.36,339.7 209.40,336.6 209.44,341.9 209.49,342.5 209.53,338.1 209.57,334.9 209.61,339.1 209.65,336.3 209.69,337.7 209.74,340.5 209.78,337.5 209.82,339.5 209.86,339.0 209.90,339.6 209.94,339.5 209.99,338.3 210.03,337.8 210.07,338.0 210.11,335.0 210.15,339.8 210.19,336.8 210.24,337.2 210.28,335.7 210.32,337.8 210.36,336.6 210.40,338.9 210.44,336.9 210.49,339.1 210.53,337.8 210.57,338.6 210.61,335.9 210.65,338.5 210.69,335.7 210.74,338.2 210.78,334.9 210.82,338.1 210.86,338.1 210.90,339.5 210.94,338.4 210.99,339.3 211.03,339.2 211.07,336.6 211.11,337.3 211.15,333.5 211.19,339.5 211.24,340.9 211.28,335.7 211.32,337.9 211.36,338.1 211.40,336.6 211.44,336.9 211.49,339.9 211.53,337.4 211.57,338.8 211.61,337.0 211.65,336.8 211.69,340.4 211.74,336.2 211.78,338.2 211.82,338.7 211.86,338.0 211.90,342.9 211.94,336.8 211.99,338.5 212.03,336.2 212.07,338.4 212.11,334.0 212.15,336.2 212.19,335.9 212.24,339.2 212.28,337.2 212.32,340.2 212.36,333.1 212.40,338.2 212.44,336.3 212.49,337.5 212.53,339.5 212.57,338.5 212.61,338.8 212.65,336.7 212.69,337.0 212.74,338.9 212.78,336.4 212.82,337.9 212.86,338.9 212.90,338.7 212.94,336.7 212.99,338.0 213.03,337.2 213.07,336.7 213.11,339.2 213.15,338.2 213.19,339.5 213.24,341.5 213.28,338.2 213.32,340.8 213.36,338.4 213.40,337.6 213.44,339.7 213.49,338.3 213.53,337.6 213.57,339.8 213.61,337.4 213.65,338.6 213.69,339.6 213.74,337.0 213.78,337.9 213.82,337.3 213.86,335.5 213.90,337.7 213.94,336.0 213.99,335.2 214.03,338.1 214.07,337.1 214.11,337.9 214.15,337.8 214.19,339.5 214.24,340.3 214.28,339.1 214.32,338.1 214.36,338.6 214.40,334.5 214.44,338.2 214.49,337.8 214.53,337.3 214.57,335.6 214.61,337.5 214.65,338.3 214.69,333.7 214.74,336.1 214.78,333.6 214.82,332.0 214.86,335.0 214.90,335.6 214.94,335.4 214.99,335.0 215.03,336.0 215.07,336.8 215.11,333.6 215.15,333.4 215.19,336.0 215.24,338.0 215.28,338.7 215.32,335.5 215.36,335.8 215.40,339.9 215.44,339.1 215.49,338.0 215.53,337.5 215.57,338.0 215.61,336.6 215.65,343.0 215.69,337.3 215.74,336.4 215.78,337.9 215.82,339.9 215.86,337.8 215.90,335.3 215.94,339.9 215.99,337.8 216.03,339.8 216.07,337.1 216.11,338.8 216.15,340.7 216.19,339.5 216.24,340.4 216.28,337.9 216.32,339.2 216.36,338.6 216.40,337.2 216.44,340.2 216.49,338.8 216.53,335.7 216.57,336.2 216.61,340.1 216.65,339.0 216.69,337.2 216.74,339.7 216.78,337.5 216.82,337.8 216.86,339.2 216.90,339.7 216.94,341.8 216.99,341.1 217.03,338.9 217.07,337.2 217.11,339.1 217.15,338.6 217.19,341.6 217.24,340.0 217.28,337.3 217.32,336.7 217.36,340.2 217.40,340.8 217.44,338.6 217.49,336.3 217.53,337.6 217.57,338.4 217.61,337.2 217.65,336.0 217.69,336.3 217.74,340.3 217.78,336.0 217.82,339.3 217.86,336.1 217.90,335.1 217.94,336.3 217.99,339.4 218.03,341.0 218.07,337.0 218.11,334.7 218.15,341.9 218.19,339.7 218.24,340.8 218.28,336.1 218.32,339.7 218.36,336.5 218.40,340.8 218.44,337.8 218.49,337.0 218.53,336.4 218.57,340.0 218.61,336.7 218.65,336.4 218.69,337.8 218.74,337.8 218.78,336.7 218.82,341.2 218.86,340.3 218.90,340.2 218.94,334.7 218.99,335.2 219.03,335.5 219.07,338.1 219.11,338.2 219.15,340.2 219.19,338.0 219.24,342.3 219.28,338.1 219.32,341.1 219.36,337.2 219.40,336.1 219.44,338.7 219.49,339.2 219.53,338.6 219.57,339.4 219.61,339.7 219.65,338.7 219.69,337.8 219.74,340.6 219.78,337.5 219.82,338.2 219.86,338.1 219.90,335.4 219.94,338.5 219.99,336.8 220.03,337.9 220.07,337.8 220.11,338.9 220.15,341.0 220.19,340.1 220.24,338.9 220.28,340.6 220.32,335.9 220.36,339.9 220.40,341.3 220.44,336.6 220.49,339.8 220.53,336.8 220.57,337.7 220.61,338.6 220.65,338.5 220.69,338.1 220.74,335.8 220.78,337.5 220.82,339.7 220.86,338.4 220.90,338.9 220.94,334.9 220.99,337.0 221.03,341.3 221.07,341.2 221.11,338.4 221.15,336.0 221.19,338.0 221.24,340.6 221.28,338.4 221.32,339.9 221.36,336.0 221.40,339.0 221.44,339.5 221.49,337.5 221.53,337.2 221.57,340.8 221.61,338.1 221.65,338.0 221.69,337.9 221.74,338.5 221.78,336.2 221.82,337.6 221.86,341.3 221.90,337.9 221.94,340.1 221.99,339.0 222.03,338.4 222.07,339.8 222.11,339.9 222.15,339.9 222.19,337.5 222.24,338.6 222.28,339.9 222.32,337.7 222.36,342.3 222.40,335.6 222.44,336.6 222.49,336.6 222.53,339.4 222.57,337.7 222.61,340.1 222.65,337.9 222.69,337.4 222.74,337.4 222.78,338.9 222.82,341.1 222.86,338.0 222.90,339.1 222.94,337.4 222.99,337.9 223.03,339.5 223.07,339.9 223.11,337.1 223.15,337.4 223.19,341.1 223.24,336.0 223.28,339.4 223.32,337.0 223.36,339.7 223.40,341.6 223.44,337.2 223.49,339.5 223.53,336.6 223.57,339.4 223.61,339.4 223.65,338.7 223.69,339.8 223.74,339.0 223.78,339.3 223.82,338.5 223.86,333.8 223.90,335.9 223.94,338.9 223.99,339.3 224.03,338.6 224.07,341.0 224.11,338.1 224.15,337.6 224.19,337.8 224.24,340.7 224.28,339.9 224.32,342.5 224.36,340.2 224.40,341.2 224.44,337.3 224.49,341.0 224.53,338.0 224.57,339.2 224.61,338.8 224.65,339.1 224.69,338.6 224.74,338.3 224.78,337.2 224.82,338.7 224.86,340.9 224.90,340.1 224.94,337.4 224.99,341.7 225.03,338.3 225.07,335.8 225.11,336.7 225.15,334.9 225.19,340.0 225.24,338.7 225.28,337.9 225.32,338.9 225.36,338.7 225.40,341.7 225.44,337.1 225.49,338.6 225.53,338.3 225.57,341.3 225.61,336.8 225.65,339.0 225.69,339.7 225.74,337.4 225.78,338.5 225.82,337.6 225.86,341.1 225.90,337.4 225.94,340.9 225.99,338.1 226.03,336.3 226.07,338.9 226.11,336.6 226.15,336.8 226.19,339.9 226.24,339.8 226.28,341.9 226.32,338.5 226.36,338.2 226.40,337.4 226.44,340.5 226.49,337.6 226.53,338.4 226.57,339.0 226.61,335.3 226.65,338.3 226.69,339.0 226.74,339.5 226.78,337.2 226.82,339.4 226.86,334.1 226.90,337.8 226.94,339.1 226.99,340.2 227.03,341.5 227.07,339.9 227.11,338.5 227.15,339.9 227.19,341.6 227.24,339.2 227.28,340.3 227.32,340.7 227.36,336.7 227.40,338.0 227.44,338.8 227.49,336.7 227.53,338.2 227.57,341.1 227.61,339.1 227.65,338.5 227.69,338.0 227.74,339.4 227.78,338.5 227.82,336.8 227.86,339.4 227.90,336.2 227.94,337.0 227.99,340.8 228.03,338.6 228.07,339.9 228.11,338.4 228.15,336.2 228.19,338.7 228.24,335.5 228.28,342.9 228.32,336.1 228.36,339.6 228.40,338.3 228.44,336.4 228.49,340.2 228.53,338.2 228.57,337.0 228.61,334.3 228.65,338.1 228.69,342.0 228.74,341.2 228.78,336.0 228.82,340.8 228.86,339.1 228.90,339.5 228.94,340.7 228.99,336.5 229.03,337.5 229.07,341.9 229.11,338.0 229.15,338.2 229.19,336.3 229.24,338.5 229.28,340.2 229.32,342.0 229.36,340.1 229.40,338.7 229.44,338.3 229.49,340.4 229.53,338.7 229.57,338.2 229.61,335.3 229.65,337.3 229.69,338.4 229.74,338.3 229.78,338.5 229.82,340.8 229.86,334.8 229.90,339.4 229.94,338.5 229.99,335.6 230.03,339.3 230.07,338.6 230.11,335.5 230.15,338.9 230.19,339.5 230.24,338.2 230.28,339.8 230.32,337.6 230.36,339.0 230.40,338.7 230.44,339.7 230.49,336.7 230.53,343.1 230.57,336.1 230.61,341.4 230.65,339.0 230.69,338.9 230.74,340.8 230.78,337.4 230.82,336.3 230.86,340.8 230.90,342.4 230.94,343.5 230.99,340.0 231.03,334.3 231.07,339.8 231.11,340.4 231.15,339.5 231.19,340.2 231.24,340.6 231.28,340.1 231.32,338.6 231.36,336.4 231.40,337.7 231.44,340.1 231.49,341.1 231.53,341.5 231.57,339.7 231.61,337.1 231.65,340.0 231.69,336.9 231.74,340.0 231.78,337.1 231.82,340.3 231.86,340.1 231.90,337.9 231.94,339.8 231.99,339.9 232.03,338.3 232.07,339.2 232.11,338.8 232.15,335.9 232.19,338.1 232.24,343.3 232.28,339.9 232.32,335.7 232.36,339.7 232.40,340.0 232.44,339.4 232.49,340.2 232.53,340.9 232.57,342.6 232.61,341.6 232.65,339.4 232.69,335.9 232.74,335.9 232.78,340.3 232.82,339.5 232.86,338.9 232.90,341.5 232.94,336.9 232.99,336.8 233.03,337.6 233.07,339.3 233.11,337.0 233.15,339.0 233.19,338.4 233.24,338.7 233.28,338.5 233.32,336.2 233.36,340.1 233.40,340.6 233.44,335.7 233.49,337.9 233.53,339.7 233.57,339.3 233.61,336.1 233.65,338.9 233.69,337.6 233.74,341.3 233.78,340.2 233.82,341.6 233.86,337.6 233.90,340.1 233.94,337.7 233.99,340.1 234.03,338.7 234.07,337.1 234.11,337.7 234.15,338.6 234.19,340.4 234.24,336.5 234.28,343.4 234.32,339.7 234.36,339.3 234.40,339.5 234.44,338.2 234.49,338.8 234.53,341.4 234.57,336.4 234.61,339.6 234.65,340.7 234.69,341.3 234.74,336.1 234.78,339.6 234.82,335.7 234.86,338.0 234.90,339.2 234.94,339.1 234.99,338.4 235.03,340.1 235.07,340.6 235.11,339.4 235.15,337.6 235.19,338.3 235.24,339.7 235.28,340.2 235.32,339.2 235.36,336.7 235.40,338.1 235.44,339.4 235.49,336.5 235.53,338.5 235.57,338.1 235.61,340.5 235.65,340.9 235.69,337.2 235.74,341.5 235.78,341.8 235.82,338.1 235.86,338.6 235.90,337.9 235.94,337.6 235.99,336.3 236.03,334.1 236.07,339.2 236.11,341.9 236.15,336.8 236.19,340.0 236.24,337.8 236.28,339.2 236.32,338.6 236.36,339.8 236.40,339.9 236.44,340.1 236.49,340.4 236.53,341.4 236.57,337.1 236.61,338.0 236.65,341.0 236.69,337.3 236.74,340.8 236.78,339.3 236.82,341.1 236.86,339.4 236.90,338.9 236.94,339.1 236.99,336.0 237.03,339.9 237.07,339.2 237.11,340.9 237.15,340.0 237.19,337.3 237.24,339.0 237.28,339.9 237.32,339.1 237.36,340.8 237.40,339.2 237.44,339.4 237.49,336.4 237.53,340.4 237.57,341.2 237.61,338.0 237.65,337.4 237.69,338.5 237.74,342.4 237.78,342.4 237.82,339.4 237.86,337.3 237.90,337.8 237.94,336.9 237.99,337.4 238.03,340.0 238.07,339.6 238.11,338.2 238.15,339.8 238.19,339.9 238.24,342.2 238.28,337.7 238.32,342.1 238.36,341.2 238.40,337.9 238.44,340.2 238.49,338.3 238.53,341.3 238.57,339.9 238.61,338.4 238.65,341.3 238.69,339.7 238.74,337.7 238.78,339.1 238.82,341.0 238.86,339.7 238.90,338.2 238.94,338.8 238.99,340.5 239.03,341.8 239.07,338.3 239.11,340.3 239.15,340.6 239.19,341.1 239.24,341.9 239.28,337.4 239.32,339.2 239.36,339.7 239.40,340.4 239.44,341.0 239.49,340.7 239.53,337.7 239.57,337.2 239.61,339.2 239.65,340.2 239.69,336.6 239.74,338.6 239.78,339.7 239.82,339.3 239.86,340.9 239.90,337.4 239.94,339.7 239.99,338.8 240.03,342.6 240.07,336.0 240.11,341.0 240.15,336.1 240.19,339.6 240.24,338.9 240.28,336.3 240.32,336.9 240.36,338.6 240.40,339.6 240.44,338.4 240.49,335.5 240.53,336.6 240.57,340.2 240.61,336.9 240.65,333.3 240.69,335.7 240.74,334.6 240.78,334.8 240.82,339.3 240.86,336.3 240.90,336.5 240.94,337.9 240.99,337.2 241.03,337.0 241.07,335.3 241.11,336.9 241.15,339.4 241.19,339.4 241.24,337.7 241.28,336.6 241.32,337.2 241.36,339.7 241.40,338.0 241.44,338.7 241.49,340.6 241.53,336.7 241.57,337.5 241.61,337.5 241.65,341.6 241.69,338.3 241.74,338.4 241.78,336.2 241.82,340.4 241.86,339.3 241.90,339.2 241.94,338.7 241.99,335.8 242.03,339.7 242.07,341.0 242.11,338.2 242.15,339.2 242.19,340.2 242.24,337.8 242.28,339.2 242.32,341.5 242.36,336.8 242.40,342.4 242.44,340.8 242.49,336.4 242.53,336.6 242.57,339.9 242.61,339.4 242.65,337.8 242.69,341.5 242.74,341.0 242.78,340.8 242.82,336.1 242.86,338.4 242.90,342.9 242.94,336.5 242.99,339.6 243.03,340.1 243.07,340.5 243.11,338.3 243.15,336.1 243.19,338.3 243.24,341.0 243.28,340.6 243.32,338.2 243.36,340.1 243.40,340.7 243.44,337.8 243.49,337.7 243.53,338.9 243.57,339.5 243.61,342.5 243.65,339.8 243.69,338.7 243.74,341.5 243.78,338.1 243.82,337.3 243.86,339.1 243.90,337.1 243.94,334.8 243.99,339.7 244.03,337.2 244.07,337.4 244.11,339.3 244.15,341.3 244.19,339.2 244.24,338.5 244.28,336.5 244.32,338.2 244.36,339.2 244.40,340.8 244.44,340.9 244.49,340.7 244.53,338.5 244.57,337.5 244.61,337.4 244.65,339.7 244.69,336.8 244.74,338.7 244.78,340.3 244.82,339.7 244.86,339.2 244.90,337.2 244.94,339.8 244.99,339.8 245.03,340.3 245.07,338.6 245.11,338.4 245.15,337.0 245.19,336.6 245.24,339.3 245.28,339.0 245.32,338.6 245.36,337.5 245.40,341.7 245.44,336.7 245.49,340.1 245.53,338.3 245.57,339.3 245.61,339.2 245.65,337.7 245.69,340.5 245.74,339.2 245.78,339.3 245.82,339.1 245.86,337.6 245.90,343.7 245.94,338.4 245.99,338.1 246.03,343.3 246.07,337.2 246.11,340.3 246.15,343.2 246.19,339.9 246.24,339.9 246.28,339.8 246.32,336.3 246.36,340.6 246.40,341.2 246.44,339.3 246.49,337.6 246.53,340.2 246.57,341.6 246.61,339.6 246.65,337.8 246.69,339.6 246.74,337.8 246.78,336.1 246.82,340.2 246.86,337.7 246.90,335.9 246.94,339.7 246.99,339.0 247.03,339.4"/></g>
<g><text transform="translate(123.6,117.6) rotate(-90)" class="pa">25.6</text><text transform="translate(159.2,150.2) rotate(-90)" class="pa">38.2</text><text transform="translate(195.6,154.1) rotate(-90)" class="pa">48.6</text><text transform="translate(124.1,208.1) rotate(-90)" class="pa">25.6</text><text transform="translate(162.1,245.1) rotate(-90)" class="pa">38.2</text><text transform="translate(194.0,253.5) rotate(-90)" class="pa">48.6</text><text transform="translate(215.5,257.0) rotate(-90)" class="pa">55.4</text><text transform="translate(239.7,257.0) rotate(-90)" class="pa">63.1</text><text transform="translate(127.3,296.2) rotate(-90)" class="pa">25.6</text><text transform="translate(160.5,321.5) rotate(-90)" class="pa">38.2</text><text transform="translate(194.7,329.1) rotate(-90)" class="pa">48.6</text><text transform="translate(216.3,328.0) rotate(-90)" class="pa">55.4</text><text transform="translate(242.6,330.2) rotate(-90)" class="pa">63.1</text><text transform="translate(320.6,57.6) rotate(-90)" class="pb">142</text><text transform="translate(323.9,130.3) rotate(-90)" class="pb">196</text><text transform="translate(336.5,131.9) rotate(-90)" class="pb">247</text><text transform="translate(355.3,131.0) rotate(-90)" class="pb">319</text><text transform="translate(374.0,129.2) rotate(-90)" class="pb">395</text><text transform="translate(406.2,128.0) rotate(-90)" class="pb">515</text><text transform="translate(437.8,122.8) rotate(-90)" class="pb">637</text><text transform="translate(323.4,170.9) rotate(-90)" class="pb">142</text><text transform="translate(324.6,240.0) rotate(-90)" class="pb">196</text><text transform="translate(375.5,237.9) rotate(-90)" class="pb">396</text><text transform="translate(406.3,237.4) rotate(-90)" class="pb">515</text><text transform="translate(437.9,233.4) rotate(-90)" class="pb">637</text><text transform="translate(319.7,271.5) rotate(-90)" class="pb">142</text><text transform="translate(324.6,328.8) rotate(-90)" class="pb">196</text><text transform="translate(375.5,326.8) rotate(-90)" class="pb">395</text><text transform="translate(406.3,327.0) rotate(-90)" class="pb">515</text><text transform="translate(437.9,323.4) rotate(-90)" class="pb">637</text></g>
<g stroke="#ff6b6b" stroke-width="1"><line x1="296.7" y1="143.3" x2="527.3" y2="143.3"/><line x1="296.7" y1="250.2" x2="527.3" y2="250.2"/><line x1="296.7" y1="338.0" x2="527.3" y2="338.0"/></g>
<polyline fill="none" stroke="#3a3a3a" stroke-width="1.5" stroke-linejoin="round" points="296.76,335.29 297.53,334.81 298.30,334.13 299.06,333.15 299.83,331.79 300.60,329.96 301.36,327.57 302.13,324.54 302.90,320.76 303.67,316.06 304.43,310.03 305.20,301.69 305.97,289.01 306.73,270.61 307.50,258.49 308.27,270.61 309.03,289.01 309.80,301.69 310.57,310.03 311.33,316.06 312.10,320.75 312.87,324.53 313.64,327.57 314.40,329.95 315.17,331.78 315.94,333.14 316.70,334.12 317.47,334.81 318.24,335.28 319.00,335.61 319.77,335.83 320.54,335.98 321.31,336.09 322.07,336.18 322.84,336.24 323.61,336.30 324.37,336.34 325.14,336.38 325.91,336.41 326.68,336.44 327.44,336.46 328.21,336.49 328.98,336.51 329.74,336.52 330.51,336.54 331.28,336.56 332.04,336.57 332.81,336.58 333.58,336.59 334.35,336.60 335.11,336.61 335.88,336.62 336.65,336.62 337.41,336.63 338.18,336.64 338.95,336.64 339.71,336.65 340.48,336.65 341.25,336.66 342.01,336.66 342.78,336.66 343.55,336.67 344.32,336.67 345.08,336.67 345.85,336.67 346.62,336.67 347.38,336.67 348.15,336.67 348.92,336.67 349.69,336.67 350.45,336.67 351.22,336.67 351.99,336.67 352.75,336.67 353.52,336.67 354.29,336.66 355.05,336.66 355.82,336.65 356.59,336.65 357.36,336.64 358.12,336.63 358.89,336.62 359.66,336.61 360.42,336.60 361.19,336.58 361.96,336.56 362.72,336.53 363.49,336.50 364.26,336.45 365.02,336.40 365.79,336.32 366.56,336.21 367.33,336.05 368.09,335.81 368.86,335.46 369.63,334.97 370.39,334.33 371.16,333.61 371.93,333.05 372.69,332.98 373.46,333.45 374.23,334.16 375.00,334.83 375.76,335.35 376.53,335.73 377.30,335.99 378.06,336.17 378.83,336.28 379.60,336.37 380.37,336.42 381.13,336.47 381.90,336.50 382.67,336.53 383.43,336.55 384.20,336.56 384.97,336.57 385.73,336.58 386.50,336.58 387.27,336.59 388.03,336.59 388.80,336.58 389.57,336.58 390.34,336.57 391.10,336.56 391.87,336.55 392.64,336.53 393.40,336.51 394.17,336.48 394.94,336.44 395.70,336.39 396.47,336.33 397.24,336.23 398.01,336.10 398.77,335.90 399.54,335.60 400.31,335.17 401.07,334.58 401.84,333.88 402.61,333.21 403.38,332.91 404.14,333.17 404.91,333.83 405.68,334.53 406.44,335.12 407.21,335.56 407.98,335.86 408.74,336.06 409.51,336.20 410.28,336.29 411.05,336.35 411.81,336.40 412.58,336.43 413.35,336.45 414.11,336.47 414.88,336.48 415.65,336.49 416.41,336.49 417.18,336.49 417.95,336.48 418.72,336.47 419.48,336.45 420.25,336.43 421.02,336.41 421.78,336.38 422.55,336.34 423.32,336.29 424.08,336.24 424.85,336.16 425.62,336.07 426.38,335.95 427.15,335.78 427.92,335.55 428.69,335.24 429.45,334.81 430.22,334.22 430.99,333.46 431.75,332.50 432.52,331.42 433.29,330.39 434.06,329.74 434.82,329.78 435.59,330.49 436.36,331.54 437.12,332.62 437.89,333.55 438.66,334.30 439.42,334.88 440.19,335.30 440.96,335.60 441.73,335.83 442.49,335.99 443.26,336.11 444.03,336.21 444.79,336.28 445.56,336.35 446.33,336.40 447.09,336.44 447.86,336.48 448.63,336.51 449.39,336.53 450.16,336.56 450.93,336.58 451.70,336.59 452.46,336.61 453.23,336.62 454.00,336.64 454.76,336.65 455.53,336.66 456.30,336.67 457.06,336.67 457.83,336.68 458.60,336.69 459.37,336.69 460.13,336.70 460.90,336.70 461.67,336.71 462.43,336.71 463.20,336.72 463.97,336.72 464.74,336.72 465.50,336.73 466.27,336.73 467.04,336.73 467.80,336.74 468.57,336.74 469.34,336.74 470.10,336.74 470.87,336.75 471.64,336.75 472.40,336.75 473.17,336.75 473.94,336.75 474.71,336.75 475.47,336.76 476.24,336.76 477.01,336.76 477.77,336.76 478.54,336.76 479.31,336.76 480.08,336.76 480.84,336.76 481.61,336.76 482.38,336.77 483.14,336.77 483.91,336.77 484.68,336.77 485.44,336.77 486.21,336.77 486.98,336.77 487.75,336.77 488.51,336.77 489.28,336.77 490.05,336.77 490.81,336.77 491.58,336.77 492.35,336.77 493.11,336.78 493.88,336.78 494.65,336.78 495.41,336.78 496.18,336.78 496.95,336.78 497.72,336.78 498.48,336.78 499.25,336.78 500.02,336.78 500.78,336.78 501.55,336.78 502.32,336.78 503.09,336.78 503.85,336.78 504.62,336.78 505.39,336.78 506.15,336.78 506.92,336.78 507.69,336.78 508.45,336.78 509.22,336.78 509.99,336.78 510.75,336.78 511.52,336.78 512.29,336.78 513.06,336.78 513.82,336.79 514.59,336.79 515.36,336.79 516.12,336.79 516.89,336.79 517.66,336.79 518.42,336.79 519.19,336.79 519.96,336.79 520.73,336.79 521.49,336.79 522.26,336.79 523.03,336.79 523.79,336.79 524.56,336.79 525.33,336.79 526.10,336.79 526.86,336.79"/><polyline fill="none" stroke="#ee2a2a" stroke-width="1.5" stroke-linejoin="round" points="296.76,247.14 297.53,246.52 298.30,245.63 299.06,244.35 299.83,242.59 300.60,240.21 301.36,237.11 302.13,233.17 302.90,228.26 303.67,222.16 304.43,214.33 305.20,203.49 305.97,187.02 306.73,163.13 307.50,147.38 308.27,163.13 309.03,187.02 309.80,203.49 310.57,214.32 311.33,222.15 312.10,228.26 312.87,233.16 313.64,237.10 314.40,240.21 315.17,242.58 315.94,244.35 316.70,245.62 317.47,246.51 318.24,247.13 319.00,247.55 319.77,247.84 320.54,248.04 321.31,248.18 322.07,248.29 322.84,248.37 323.61,248.44 324.37,248.50 325.14,248.55 325.91,248.59 326.68,248.63 327.44,248.66 328.21,248.69 328.98,248.72 329.74,248.74 330.51,248.76 331.28,248.78 332.04,248.80 332.81,248.81 333.58,248.82 334.35,248.84 335.11,248.85 335.88,248.86 336.65,248.87 337.41,248.88 338.18,248.88 338.95,248.89 339.71,248.90 340.48,248.90 341.25,248.91 342.01,248.91 342.78,248.92 343.55,248.92 344.32,248.92 345.08,248.93 345.85,248.93 346.62,248.93 347.38,248.93 348.15,248.93 348.92,248.93 349.69,248.93 350.45,248.93 351.22,248.93 351.99,248.92 352.75,248.92 353.52,248.92 354.29,248.91 355.05,248.91 355.82,248.90 356.59,248.89 357.36,248.88 358.12,248.87 358.89,248.85 359.66,248.84 360.42,248.82 361.19,248.79 361.96,248.76 362.72,248.72 363.49,248.68 364.26,248.62 365.02,248.54 365.79,248.43 366.56,248.29 367.33,248.07 368.09,247.75 368.86,247.29 369.63,246.62 370.39,245.73 371.16,244.68 371.93,243.74 372.69,243.42 373.46,243.93 374.23,244.94 375.00,245.96 375.76,246.79 376.53,247.41 377.30,247.83 378.06,248.12 378.83,248.31 379.60,248.44 380.37,248.53 381.13,248.60 381.90,248.65 382.67,248.69 383.43,248.72 384.20,248.75 384.97,248.76 385.73,248.78 386.50,248.78 387.27,248.79 388.03,248.79 388.80,248.79 389.57,248.78 390.34,248.77 391.10,248.76 391.87,248.74 392.64,248.71 393.40,248.68 394.17,248.64 394.94,248.58 395.70,248.51 396.47,248.41 397.24,248.27 398.01,248.07 398.77,247.77 399.54,247.33 400.31,246.70 401.07,245.84 401.84,244.80 402.61,243.82 403.38,243.37 404.14,243.77 404.91,244.73 405.68,245.77 406.44,246.63 407.21,247.28 407.98,247.72 408.74,248.02 409.51,248.22 410.28,248.36 411.05,248.45 411.81,248.52 412.58,248.57 413.35,248.61 414.11,248.63 414.88,248.65 415.65,248.66 416.41,248.66 417.18,248.66 417.95,248.65 418.72,248.64 419.48,248.62 420.25,248.59 421.02,248.56 421.78,248.52 422.55,248.47 423.32,248.40 424.08,248.32 424.85,248.22 425.62,248.10 426.38,247.93 427.15,247.70 427.92,247.39 428.69,246.97 429.45,246.38 430.22,245.58 430.99,244.53 431.75,243.23 432.52,241.75 433.29,240.34 434.06,239.45 434.82,239.51 435.59,240.47 436.36,241.91 437.12,243.38 437.89,244.66 438.66,245.69 439.42,246.47 440.19,247.05 440.96,247.47 441.73,247.77 442.49,247.99 443.26,248.16 444.03,248.29 444.79,248.39 445.56,248.48 446.33,248.55 447.09,248.61 447.86,248.66 448.63,248.70 449.39,248.73 450.16,248.77 450.93,248.79 451.70,248.82 452.46,248.84 453.23,248.86 454.00,248.87 454.76,248.89 455.53,248.90 456.30,248.92 457.06,248.93 457.83,248.94 458.60,248.95 459.37,248.95 460.13,248.96 460.90,248.97 461.67,248.97 462.43,248.98 463.20,248.99 463.97,248.99 464.74,249.00 465.50,249.00 466.27,249.00 467.04,249.01 467.80,249.01 468.57,249.02 469.34,249.02 470.10,249.02 470.87,249.02 471.64,249.03 472.40,249.03 473.17,249.03 473.94,249.03 474.71,249.04 475.47,249.04 476.24,249.04 477.01,249.04 477.77,249.04 478.54,249.05 479.31,249.05 480.08,249.05 480.84,249.05 481.61,249.05 482.38,249.05 483.14,249.05 483.91,249.06 484.68,249.06 485.44,249.06 486.21,249.06 486.98,249.06 487.75,249.06 488.51,249.06 489.28,249.06 490.05,249.06 490.81,249.06 491.58,249.06 492.35,249.07 493.11,249.07 493.88,249.07 494.65,249.07 495.41,249.07 496.18,249.07 496.95,249.07 497.72,249.07 498.48,249.07 499.25,249.07 500.02,249.07 500.78,249.07 501.55,249.07 502.32,249.07 503.09,249.07 503.85,249.07 504.62,249.07 505.39,249.08 506.15,249.08 506.92,249.08 507.69,249.08 508.45,249.08 509.22,249.08 509.99,249.08 510.75,249.08 511.52,249.08 512.29,249.08 513.06,249.08 513.82,249.08 514.59,249.08 515.36,249.08 516.12,249.08 516.89,249.08 517.66,249.08 518.42,249.08 519.19,249.08 519.96,249.08 520.73,249.08 521.49,249.08 522.26,249.08 523.03,249.08 523.79,249.08 524.56,249.08 525.33,249.08 526.10,249.08 526.86,249.08"/><polyline fill="none" stroke="#1a64ee" stroke-width="1.6" stroke-linejoin="round" points="296.76,140.09 297.53,139.56 298.30,138.78 299.06,137.67 299.83,136.14 300.60,134.07 301.36,131.38 302.13,127.95 302.90,123.69 303.67,118.39 304.43,111.59 305.20,102.18 305.97,87.88 306.73,67.13 307.50,53.46 308.27,67.13 309.03,87.87 309.80,102.16 310.57,111.57 311.33,118.36 312.10,123.66 312.87,127.91 313.64,131.33 314.40,134.01 315.17,136.07 315.94,137.58 316.70,138.67 317.47,139.41 318.24,139.90 319.00,140.21 319.77,140.38 320.54,140.48 321.31,140.56 322.07,140.68 322.84,140.82 323.61,140.96 324.37,141.07 325.14,141.16 325.91,141.23 326.68,141.28 327.44,141.32 328.21,141.35 328.98,141.38 329.74,141.40 330.51,141.42 331.28,141.44 332.04,141.46 332.81,141.47 333.58,141.48 334.35,141.49 335.11,141.50 335.88,141.51 336.65,141.52 337.41,141.52 338.18,141.53 338.95,141.53 339.71,141.53 340.48,141.53 341.25,141.53 342.01,141.53 342.78,141.53 343.55,141.53 344.32,141.52 345.08,141.51 345.85,141.50 346.62,141.49 347.38,141.46 348.15,141.43 348.92,141.37 349.69,141.29 350.45,141.18 351.22,141.04 351.99,140.89 352.75,140.78 353.52,140.78 354.29,140.89 355.05,141.04 355.82,141.17 356.59,141.27 357.36,141.33 358.12,141.38 358.89,141.40 359.66,141.41 360.42,141.41 361.19,141.41 361.96,141.39 362.72,141.37 363.49,141.34 364.26,141.30 365.02,141.25 365.79,141.17 366.56,141.07 367.33,140.91 368.09,140.67 368.86,140.32 369.63,139.83 370.39,139.19 371.16,138.47 371.93,137.91 372.69,137.84 373.46,138.31 374.23,139.02 375.00,139.68 375.76,140.21 376.53,140.59 377.30,140.85 378.06,141.02 378.83,141.14 379.60,141.22 380.37,141.28 381.13,141.32 381.90,141.35 382.67,141.37 383.43,141.39 384.20,141.41 384.97,141.42 385.73,141.42 386.50,141.43 387.27,141.43 388.03,141.43 388.80,141.42 389.57,141.42 390.34,141.41 391.10,141.40 391.87,141.38 392.64,141.37 393.40,141.34 394.17,141.31 394.94,141.27 395.70,141.22 396.47,141.15 397.24,141.06 398.01,140.92 398.77,140.72 399.54,140.42 400.31,139.98 401.07,139.40 401.84,138.70 402.61,138.03 403.38,137.72 404.14,137.98 404.91,138.63 405.68,139.34 406.44,139.92 407.21,140.36 407.98,140.66 408.74,140.86 409.51,141.00 410.28,141.08 411.05,141.15 411.81,141.19 412.58,141.22 413.35,141.24 414.11,141.25 414.88,141.26 415.65,141.26 416.41,141.26 417.18,141.25 417.95,141.24 418.72,141.23 419.48,141.21 420.25,141.18 421.02,141.16 421.78,141.12 422.55,141.08 423.32,141.03 424.08,140.96 424.85,140.88 425.62,140.77 426.38,140.63 427.15,140.44 427.92,140.17 428.69,139.81 429.45,139.30 430.22,138.61 430.99,137.70 431.75,136.58 432.52,135.30 433.29,134.09 434.06,133.32 434.82,133.37 435.59,134.21 436.36,135.46 437.12,136.74 437.89,137.85 438.66,138.74 439.42,139.42 440.19,139.93 440.96,140.29 441.73,140.56 442.49,140.76 443.26,140.91 444.03,141.02 444.79,141.12 445.56,141.19 446.33,141.26 447.09,141.31 447.86,141.36 448.63,141.40 449.39,141.43 450.16,141.46 450.93,141.49 451.70,141.52 452.46,141.54 453.23,141.56 454.00,141.58 454.76,141.59 455.53,141.61 456.30,141.62 457.06,141.64 457.83,141.65 458.60,141.66 459.37,141.67 460.13,141.68 460.90,141.69 461.67,141.70 462.43,141.71 463.20,141.72 463.97,141.73 464.74,141.74 465.50,141.74 466.27,141.75 467.04,141.76 467.80,141.76 468.57,141.77 469.34,141.78 470.10,141.78 470.87,141.79 471.64,141.80 472.40,141.80 473.17,141.81 473.94,141.81 474.71,141.82 475.47,141.83 476.24,141.83 477.01,141.84 477.77,141.84 478.54,141.85 479.31,141.85 480.08,141.86 480.84,141.86 481.61,141.87 482.38,141.87 483.14,141.88 483.91,141.88 484.68,141.89 485.44,141.89 486.21,141.90 486.98,141.90 487.75,141.91 488.51,141.91 489.28,141.91 490.05,141.92 490.81,141.92 491.58,141.93 492.35,141.93 493.11,141.94 493.88,141.94 494.65,141.95 495.41,141.95 496.18,141.95 496.95,141.96 497.72,141.96 498.48,141.97 499.25,141.97 500.02,141.98 500.78,142.01 501.55,142.04 502.32,142.06 503.09,142.09 503.85,142.12 504.62,142.15 505.39,142.18 506.15,142.21 506.92,142.24 507.69,142.27 508.45,142.30 509.22,142.33 509.99,142.36 510.75,142.39 511.52,142.42 512.29,142.44 513.06,142.47 513.82,142.50 514.59,142.53 515.36,142.56 516.12,142.59 516.89,142.62 517.66,142.65 518.42,142.68 519.19,142.71 519.96,142.74 520.73,142.76 521.49,142.79 522.26,142.82 523.03,142.85 523.79,142.88 524.56,142.91 525.33,142.94 526.10,142.97 526.86,142.99"/>
<g stroke="#f01818" stroke-width="1.2"><line x1="307.6" y1="49" x2="307.6" y2="61"/><line x1="321.4" y1="134.8" x2="321.4" y2="146.4"/><line x1="334.4" y1="134.8" x2="334.4" y2="146.4"/><line x1="353.1" y1="135" x2="353.1" y2="146.3"/><line x1="372.3" y1="132.7" x2="372.3" y2="144.1"/><line x1="403.4" y1="132.3" x2="403.4" y2="144.1"/><line x1="434.5" y1="127.1" x2="434.5" y2="138.9"/><line x1="307.5" y1="147.4" x2="307.5" y2="159"/><line x1="321.3" y1="241" x2="321.3" y2="253"/><line x1="372.7" y1="238.2" x2="372.7" y2="250"/><line x1="403.4" y1="238.2" x2="403.4" y2="250"/><line x1="434.3" y1="233.2" x2="434.3" y2="245.8"/><line x1="307.4" y1="253.3" x2="307.4" y2="265.6"/><line x1="321.5" y1="329.4" x2="321.5" y2="342"/><line x1="372.3" y1="327.1" x2="372.3" y2="338.9"/><line x1="403.4" y1="327.1" x2="403.4" y2="338.9"/><line x1="434.5" y1="323.2" x2="434.5" y2="335.4"/></g>

<rect x="370.9" y="43.9" width="149.5" height="48.2" fill="#fff" stroke="#555" stroke-width="1"/>
<line x1="371.5" y1="50.9" x2="396.7" y2="50.9" stroke="#3a3a3a" stroke-width="1.2"/>
<line x1="371.5" y1="66.9" x2="396.7" y2="66.9" stroke="#ee2a2a" stroke-width="1.2"/>
<line x1="371.5" y1="82.9" x2="396.7" y2="82.9" stroke="#1a64ee" stroke-width="1.2"/>


<text x="130" y="25.3" class="ttl" text-anchor="middle">(a)</text>
<text x="407" y="25.3" class="ttl" text-anchor="middle">(b)</text>
<text x="178" y="70.4" class="lab" textLength="76" lengthAdjust="spacingAndGlyphs">Glass Substrate</text>
<text x="138.9" y="120.4" class="lab" textLength="123.4" lengthAdjust="spacingAndGlyphs">TiO<tspan dy="3" class="sub">2</tspan><tspan dy="-3">/Al</tspan><tspan dy="3" class="sub">2</tspan><tspan dy="-3">O</tspan><tspan dy="3" class="sub">3</tspan><tspan dy="-3"> Plasma ALD</tspan></text>
<text x="130.4" y="195" class="lab" textLength="129.9" lengthAdjust="spacingAndGlyphs">TiO<tspan dy="3" class="sub">2</tspan><tspan dy="-3">/Al</tspan><tspan dy="3" class="sub">2</tspan><tspan dy="-3">O</tspan><tspan dy="3" class="sub">3</tspan><tspan dy="-3"> Thermal ALD</tspan></text>
<text x="183.6" y="295.0" class="lab" textLength="39" lengthAdjust="spacingAndGlyphs">TiO<tspan dy="3" class="sub">2</tspan><tspan dy="-3"> IO</tspan></text>
<text x="399.9" y="54.5" class="leg" textLength="34.6" lengthAdjust="spacingAndGlyphs">TiO<tspan dy="3" class="sub">2</tspan><tspan dy="-3"> IO</tspan></text>
<text x="399.9" y="70.1" class="leg" textLength="118.6" lengthAdjust="spacingAndGlyphs">TiO<tspan dy="3" class="sub">2</tspan><tspan dy="-3">/Al</tspan><tspan dy="3" class="sub">2</tspan><tspan dy="-3">O</tspan><tspan dy="3" class="sub">3</tspan><tspan dy="-3"> Thermal ALD</tspan></text>
<text x="399.9" y="86.7" class="leg" textLength="112.7" lengthAdjust="spacingAndGlyphs">TiO<tspan dy="3" class="sub">2</tspan><tspan dy="-3">/Al</tspan><tspan dy="3" class="sub">2</tspan><tspan dy="-3">O</tspan><tspan dy="3" class="sub">3</tspan><tspan dy="-3"> Plasma ALD</tspan></text>
<text x="89.1" y="391.1" class="axt" textLength="54.5" lengthAdjust="spacingAndGlyphs">2 Theta (°)</text>
<text x="342.3" y="391.8" class="axb" textLength="129.4" lengthAdjust="spacingAndGlyphs">Wavenumber, in cm<tspan dy="-5" class="sup">-1</tspan></text>
<text transform="translate(20.7,218.7) rotate(-90)" class="ylab" textLength="77.7" lengthAdjust="spacingAndGlyphs">Intensity [a.u]</text>
<text transform="translate(282.9,211.8) rotate(-90)" class="ylab" textLength="79.6" lengthAdjust="spacingAndGlyphs">Intensity [a.u]</text>

<rect x="29.9" y="37" width="233.6" height="316.9" fill="none" stroke="#111" stroke-width="1.5"/>
<rect x="293" y="38.4" width="234.3" height="316.1" fill="none" stroke="#111" stroke-width="1.6"/>
<g stroke="#111" stroke-width="1.3"><line x1="29.50" y1="353.9" x2="29.50" y2="358.9"/><line x1="46.24" y1="353.9" x2="46.24" y2="356.4"/><line x1="62.97" y1="353.9" x2="62.97" y2="358.9"/><line x1="79.71" y1="353.9" x2="79.71" y2="356.4"/><line x1="96.44" y1="353.9" x2="96.44" y2="358.9"/><line x1="113.18" y1="353.9" x2="113.18" y2="356.4"/><line x1="129.91" y1="353.9" x2="129.91" y2="358.9"/><line x1="146.65" y1="353.9" x2="146.65" y2="356.4"/><line x1="163.39" y1="353.9" x2="163.39" y2="358.9"/><line x1="180.12" y1="353.9" x2="180.12" y2="356.4"/><line x1="196.86" y1="353.9" x2="196.86" y2="358.9"/><line x1="213.59" y1="353.9" x2="213.59" y2="356.4"/><line x1="230.33" y1="353.9" x2="230.33" y2="358.9"/><line x1="247.06" y1="353.9" x2="247.06" y2="356.4"/><line x1="263.80" y1="353.9" x2="263.80" y2="358.9"/><line x1="296.67" y1="354.5" x2="296.67" y2="357.5"/><line x1="322.30" y1="354.5" x2="322.30" y2="360.0"/><line x1="347.93" y1="354.5" x2="347.93" y2="357.5"/><line x1="373.56" y1="354.5" x2="373.56" y2="360.0"/><line x1="399.19" y1="354.5" x2="399.19" y2="357.5"/><line x1="424.82" y1="354.5" x2="424.82" y2="360.0"/><line x1="450.45" y1="354.5" x2="450.45" y2="357.5"/><line x1="476.08" y1="354.5" x2="476.08" y2="360.0"/><line x1="501.71" y1="354.5" x2="501.71" y2="357.5"/><line x1="527.34" y1="354.5" x2="527.34" y2="360.0"/></g>
<text x="29.50" y="373.0" class="ta">0</text><text x="62.97" y="373.0" class="ta">10</text><text x="96.44" y="373.0" class="ta">20</text><text x="129.91" y="373.0" class="ta">30</text><text x="163.39" y="373.0" class="ta">40</text><text x="196.86" y="373.0" class="ta">50</text><text x="230.33" y="373.0" class="ta">60</text><text x="263.80" y="373.0" class="ta">70</text><text x="322.30" y="373.5" class="tb">200</text><text x="373.56" y="373.5" class="tb">400</text><text x="424.82" y="373.5" class="tb">600</text><text x="476.08" y="373.5" class="tb">800</text><text x="527.34" y="373.5" class="tb">1000</text>
</svg>
</body></html>
